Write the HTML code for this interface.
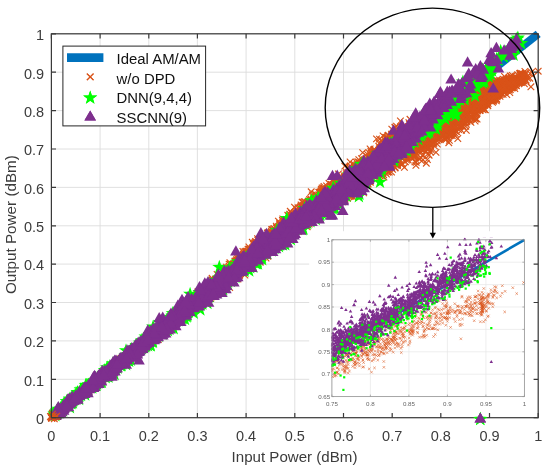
<!DOCTYPE html>
<html><head><meta charset="utf-8"><title>AM/AM</title>
<style>html,body{margin:0;padding:0;background:#fff}svg{display:block}</style></head>
<body>
<svg width="550" height="473" viewBox="0 0 550 473" font-family="'Liberation Sans', sans-serif">
<defs>
<marker id="mo" markerUnits="userSpaceOnUse" markerWidth="20" markerHeight="20" viewBox="-10 -10 20 20" refX="0" refY="0" overflow="visible"><path d="M-3.3 -3.3L3.3 3.3M-3.3 3.3L3.3 -3.3" stroke="#D95319" stroke-width="1.15" fill="none"/></marker>
<marker id="mg" markerUnits="userSpaceOnUse" markerWidth="20" markerHeight="20" viewBox="-10 -10 20 20" refX="0" refY="0" overflow="visible"><polygon points="0.00,-7.40 1.70,-2.35 7.04,-2.29 2.76,0.90 4.35,5.99 0.00,2.90 -4.35,5.99 -2.76,0.90 -7.04,-2.29 -1.70,-2.35" fill="#00FF00"/></marker>
<marker id="mp" markerUnits="userSpaceOnUse" markerWidth="20" markerHeight="20" viewBox="-10 -10 20 20" refX="0" refY="0" overflow="visible"><path d="M0 -6.80L5.80 3.40H-5.80Z" fill="#7E2F8E"/></marker>
<marker id="io" markerUnits="userSpaceOnUse" markerWidth="8" markerHeight="8" viewBox="-4 -4 8 8" refX="0" refY="0" overflow="visible"><path d="M-1.3 -1.3L1.3 1.3M-1.3 1.3L1.3 -1.3" stroke="#D95319" stroke-width="0.5" fill="none"/></marker>
<marker id="ig" markerUnits="userSpaceOnUse" markerWidth="8" markerHeight="8" viewBox="-4 -4 8 8" refX="0" refY="0" overflow="visible"><rect x="-1.1" y="-1.1" width="2.2" height="2.2" fill="#00FF00"/></marker>
<marker id="ip" markerUnits="userSpaceOnUse" markerWidth="8" markerHeight="8" viewBox="-4 -4 8 8" refX="0" refY="0" overflow="visible"><path d="M0 -2.1L1.75 1H-1.75Z" fill="#7E2F8E"/></marker>
<clipPath id="ic"><rect x="330.9" y="237.8" width="196.5" height="158.8"/></clipPath>
</defs>
<rect width="550" height="473" fill="#fff"/>
<path d="M51.4 417.7V33.8M51.4 417.7H538.2M100.1 417.7V33.8M51.4 379.3H538.2M148.8 417.7V33.8M51.4 340.9H538.2M197.4 417.7V33.8M51.4 302.5H538.2M246.1 417.7V33.8M51.4 264.1H538.2M294.8 417.7V33.8M51.4 225.8H538.2M343.5 417.7V33.8M51.4 187.4H538.2M392.2 417.7V33.8M51.4 149.0H538.2M440.8 417.7V33.8M51.4 110.6H538.2M489.5 417.7V33.8M51.4 72.2H538.2M538.2 417.7V33.8M51.4 33.8H538.2" stroke="#dcdcdc" stroke-width="0.9" fill="none"/>
<path d="M51.4 417.7L538.2 33.8" stroke="#0072BD" stroke-width="8" fill="none"/>
<path d="M294.4 218.8L344.2 188.9L65.4 405L123.4 359.1L503.3 90.8L513 82.5L354.1 171L231 279.5L300.3 214.5L374.1 176L185.4 307.6L435 123.8L377.7 166.8L300.8 206.1L449 121.1L318.7 201.2L321 199.7L286.8 237.7L223.4 282.8L339.4 179.2L441.9 127.2L473.6 105.5L278.8 240.1L186.3 311.4L91.9 385.7L487.5 102.2L260.7 243L379.2 159L149.8 338.7L490.2 95.2L219.7 278.1L279.7 227.7L492.5 102.3L390.9 163.4L216.6 289.9L129.2 355.4L275.2 239L387.8 150.2L78 394.3L463.2 109.1L337.6 185.2L201.7 299.8L459.9 107.7L278.4 221.2L113.3 368.5L411.3 131.3L146.6 338.7L342.7 190.5L487.5 84.1L443.3 121.3L144 344.6L405.4 148.4L291.5 232.9L466.6 115.4L157.1 333.5L204.8 289.9L177.1 315.6L509.5 79.7L217.2 280.9L263.6 249.5L204.4 293.8L414.8 131.5L248.1 254.4L462.9 118.5L412.5 138.3L317.1 209.8L373.4 167.5L388.4 148L431.6 131.9L502.9 87.2L124.3 359.6L356.2 186.6L121.3 364.2L267.1 239.9L434.2 133.9L486.9 87.7L421 152.2L226.4 275.3L130.8 352.8L121.5 359.8L225.3 277.9L81 391.4L475.1 93.2L361.2 173.7L294 228.1L89.7 388.9L348.8 191.3L164.2 326.8L70.2 403L321.7 204.6L361.5 158.7L209.5 291L364.6 178.6L222.8 282.4L243.8 254.3L495.7 95.1L107.7 371.9L324.7 194.1L493.1 87.5L392.3 162.7L83.9 393.4L444 127.7L384.1 152.1L277.7 237.4L75.4 399.3L441.8 113L401.2 141.4L443.1 117L421.6 146.7L435.8 117.1L172.7 319.8L118.5 363.9L241.4 259.3L293.7 215.9L190.5 304.6L346.3 172L344.7 176.8L168.1 327.6L354.5 165.8L225.3 271L409 153.5L192.8 300.2L440.3 133.5L253.5 254.5L320.7 202.6L379.2 169.1L303.7 207.7L176.8 316.1L98.2 380.1L318.7 202.4L440.5 120.5L433 109.5L361.5 168.9L490.4 84.7L419.2 127.8L196.8 301.6L365.3 170.1L217 280.4L416.4 140.2L238.7 271.1L478.1 96.7L387.5 156.7L413.9 153.9L323.8 201.3L432.5 128.3L269.4 243.6L326.8 199L321.6 200L447.9 118.2L394.9 131.8L442.4 118.6L292.9 224.5L480.4 92L104.1 377L477.7 85.3L232.1 268L352.9 184.3L272.8 239.1L259.9 250.8L466.2 119.8L351.7 175.5L252.8 250L308.6 210.9L294.5 226.1L300.6 211.4L471.1 87.2L134.8 351.9L84.3 392.7L275.2 241.3L312.4 204.2L255.1 248.4L152.3 334L399 139.7L315 193.8L175.7 315.1L473.4 114L424.4 133.2L263.7 237.4L248.8 254.3L410.4 141.6L90.1 387.7L227.8 274.5L298.6 219.3L77.4 396.3L239.3 270.7L411.3 142.3L348.3 174.4L271.4 247.7L477.3 110.8L496.8 86.4L229.1 264.1L483.4 85.2L503.7 88.5L249.3 249.1L414.6 123.9L229.2 277.4L331.4 204.4L374.3 171.8L445.3 138.8L497 95.1L269.5 248L108.5 371.3L490.7 91.7L475.1 121L340.5 180.4L379.2 171.2L233.1 264.3L193.4 308.3L402.2 140.5L388.1 161.7L295.9 233.7L270 248.5L522.4 78.9L132.3 356.1L288.5 231.7L129.1 357.3L507.8 85.3L289.3 224.8L213 281.2L340.6 182.9L245.6 254.6L241.9 263.3L335.3 192L304 220.6L489.5 89.4L495.2 97.9L507.2 85.5L440.7 123.1L283.9 229.2L306.4 219.1L244.8 262.2L245.9 257.4L440.3 107.1L278.5 243.1L400.9 157.3L263.7 254.2L228.7 267.5L372 175.7L56.9 413.3L339.8 185.9L309.6 206L472.9 100L253.8 248.8L434.1 131.7L342.8 190L233.8 277.1L215.5 288.9L325.9 203.7L483.5 103.8L229.4 276.3L141 344.1L332.8 200.8L238.7 261.2L205.8 299.2L240 264.8L76.1 397.3L321.2 208.5L355.2 167.8L416.2 136.3L224.1 276.5L370.9 155.4L266.6 240.8L156.1 334.2L484.3 103.9L414.5 143.7L510.3 86.4L451.3 118L498 87.8L59 413L148.1 344L252 256.7L386.1 158L264.8 247.2L301.3 227.6L421.9 143.7L381.6 147.3L75.1 399.2L403 126.8L383.9 177L248.7 254L454.5 107L446 114.4L200.4 301.7L336.3 187.9L201.4 294.1L236 262L102.1 376.7L240.8 258.2L63.7 409.3L160.4 330.9L494.1 93.2L183.3 307.8L382.1 148.7L481.2 100.1L195.4 301.3L234.6 270.2L399.3 155.4L437 127.3L350.2 196.1L138.5 347.2L139.4 344L420.4 122.2L395.5 153.7L487.7 101.6L431 128.2L256.4 242.2L116.3 365.6L484.9 101.2L390 157.9L332 190.9L383.3 155.9L238.9 269.7L218.5 275.5L331.5 190.8L286.4 225.6L396.5 126.2L507.1 82.8L463.9 103.5L240 266.4L232.7 274.5L502.6 91.3L243.5 270.8L441 133.5L96.5 384.1L271 241.9L302.7 214.3L445.1 125.9L478.6 98.4L351.8 180.2L357.7 186.1L125.2 360.7L457.2 108.6L320.8 201.7L307 214.3L208.9 292.4L364.2 161L347.4 198.3L300.8 218.8L209.5 286.9L296.7 218.6L232.6 276.4L485 99.6L276.1 234.4L282.7 236.4L177.3 317.6L175 316.5L515.8 80L204.3 294L474.1 93.8L340.9 185.1L131.3 356.3L509.8 92.6L427.4 124.8L327.9 190.7L396.5 151.8L403.1 155.2L269.7 243.4L360.3 180.9L61.8 408.3L380.7 169.5L282.4 225.9L492.2 91.3L449.6 111.8L488.6 95.1L520.9 76.6L128.8 353.8L131.8 349.8L227.4 282.3L124.8 360L60.4 409.1L505.7 85.5L227.2 276L356.2 176L272.7 243.4L413.1 147.2L443.8 107.4L237.8 271.2L312 206.7L190.4 300.9L159.8 332.3L201.6 299.2L209.3 290.2L331.3 184.5L213.4 282.7L456.1 102L79.2 395.1L472.7 105L359.9 181.7L405.8 135.8L517.6 81.9L157.5 335.2L499.3 86.1L169.5 322.4L304 211.2L382.9 150L439.5 120.3L172.2 317L283.6 234.9L73.6 399.5L492 95.6L334.8 181L434.3 135.1L490.6 86.1L212.9 286.6L269.7 237.5L309.4 212.1L340.4 200.8L388.7 144.9L378 168.4L362.5 179L500 93L377.6 162.1L300.4 212.8L445.8 125.6L119.7 361.8L487.3 96.8L263.9 250.8L478.2 102.2L207.6 287.6L355.3 177.7L463.5 111.1L397.7 139.3L353.2 179.5L319.9 204L385.6 165.4L269.6 234.1L285.2 229.6L279.4 230.9L352.9 178L480 110.5L191.8 300.8L103.5 374.8L221.3 280.8L506.9 84.6L502.5 87.4L220.8 280L461.8 112.1L483.9 94L166.9 326.6L139.3 346.4L412.7 134.7L417.6 141.3L496.5 80.3L320.5 201.6L121.8 361.5L464.9 123.1L244.1 253L203.6 294.1L295.2 214.5L180.1 314.5L341.5 193.5L416.2 127L517.4 79.4L449.7 125.9L509.5 80L361.2 164.5L408.7 153.7L337.3 179L421.4 137.9L149.9 341.4L435.9 121.7L277.3 234.7L324.8 201.4L267.1 244.3L178.5 316.4L200.7 293.1L219.7 275.7L395.5 154.6L267.2 245.9L346.8 178.8L512.1 83.5L90 388.9L144.7 343.3L158.8 331.9L130.6 352.1L153.4 337.3L284.8 231.6L366.7 175.6L228.5 281.3L97.5 378.2L285.6 229.2L475.4 113.2L400.2 137.8L68.8 403.8L84.3 393.2L263.5 249.9L228.4 274.7L383.6 174.7L385.2 168.6L327.9 201.7L302.9 202.2L490.3 85.4L106.6 372L326.7 208.2L326.6 186L337.3 188.2L420.8 142.8L390.9 154.2L116.1 366.3L344.6 175.9L200.2 292.2L226.1 281.9L467 110L400.5 148.6L417.6 136.5L254.6 264.1L137.1 349.6L344.5 199L459.9 108.2L430.5 145.7L506 83.2L392.8 153.1L312.5 213.5L105.1 374.3L314.4 204.6L315.3 213L220.3 278.7L221.5 284.1L397.6 135L285.6 225.4L249.8 255.5L463.8 110.7L233.1 271.5L475.3 91.4L476.7 92.7L184.7 306.6L390.2 154.8L200.4 297.5L516.4 81.6L229.1 266.2L406.9 144.4L395.7 146.3L473 103.6L211.4 296.8L75.8 398.1L271.4 239.8L359.5 167.7L183.5 310.3L461.2 118L464 101.1L67.5 404.5L179.3 315.9L269.3 242.2L222.2 280.3L243.6 263.5L465.9 117.3L333.5 197.2L346.1 191L241.3 269.9L444.7 133.1L295.7 214L414.6 147.1L496.4 83.4L349.3 182.6L263.2 251.2L495.4 93.3L423.8 127.4L440.6 135.4L264 248.8L481.5 101.2L447.6 108.9L313.6 207.6L157.9 332.1L234.2 274.6L379.1 157.5L405.3 154.9L425.6 120.1L148.9 338.4L312.8 201.2L443.7 109L328.9 192.2L494 83.9L414.9 150.1L326.4 190.2L213.4 293.4L334.9 191.5L242 267.9L109.2 372.8L110.9 370.1L134.3 352L360.7 176L333.8 191.8L338.9 193.5L451.6 105.9L240.7 265.1L90 388.6L255.3 246.2L83.7 390.4L102.2 376.9L241.2 266.9L422.9 136.3L412.5 145.2L191.2 308L280.9 231.7L87.9 386.8L269.9 239.1L335.5 187.8L452.8 126.1L78.7 396.4L440.8 115.4L328.7 202.9L332.9 190L479.7 95.7L186.4 303.7L317.4 210.7L313.6 204.5L494.4 89.6L344.2 187.4L164.4 327.1L373.7 149.9L332.2 186.9L301.4 207.1L356.9 165.5L319.4 210.3L215.4 280.7L363.7 161.2L284.6 236.1L271.8 229.8L155.2 339.5L327.9 191L377.5 169.1L196 299.5L342.1 193.1L91.2 386.6L269.4 238.7L271.3 242.6L512.6 87.5L163.4 327L348.3 176.3L341.4 182.5L223.1 275.9L206.5 292.7L282.3 241.8L336.8 186.8L342.6 189.4L386.6 158.9L182.1 311.1L347.1 194.3L253.1 255.3L202.9 290.2L99.3 379.1L341.8 200.3L303 215.8L386.5 148L354.7 171.1L224.7 270.6L509.4 81.1L381.8 175.8L263.8 242.6L350.1 162L243.1 264.2L325.2 208.6L472 100.3L440.2 110.5L233.3 277.3L313 218.1L308.2 204.7L72.7 399.7L196.3 295.8L249.5 256.3L434.7 119.5L406.8 142.2L257.5 258.8L57.1 412L366.8 164.2L249.4 253.7L358.6 190.8L268 239L200.6 300.4L304.9 210.7L172 318.8L242.9 265.3L509.9 81.5L284 232.9L305.1 221.7L498 87.1L473.1 118.2L381.1 147.5L489.1 93.7L419.7 137.8L382.5 176L259.8 241L407.8 138.7L360.2 179.7L522.6 73.7L207.7 292.2L478.2 94.8L512 81.5L74.4 398.1L209.4 294.8L522.8 76.1L377.9 172.9L54.6 416.1L511.2 80.5L443.2 125.8L260 241.3L422 150.1L490.6 93.9L197.4 302.8L477.1 119.1L182.6 315.4L211.4 289.8L319.6 198.9L63.1 406.7L317.1 201.1L134.1 352.4L415.9 153.4L152.2 337.9L335.1 194.1L445 113.5L418.1 142.8L412.2 138.1L383.3 154.1L315.9 215.7L218.2 277.9L471.9 106.7L250.6 252L367.9 183.3L227.1 283.8L100.3 378.9L224 273.6L408.3 160.1L217.5 290.8L383.5 159.5L111.4 366.1L238.8 272.3L251 248.9L299.2 217.1L391.5 134.2L480.9 101.4L447 121.9L289 221.2L218.9 284.5L330.3 199L406.6 160.1L254.3 255L510.9 80.7L254.8 257.7L288.3 231.8L456 111.9L419.6 150.9L201.2 296.2L409.6 143.6L255.7 260.4L504.4 89.2L461.8 98.8L224.4 285.4L318.9 192.1L503.7 89.3L494 95.1L482 99.3L405.1 151.2L385.4 163.9L384.9 161.9L316.3 207.9L334.9 189.8L325.3 199.9L379 165.7L287.8 215.3L382.1 162.3L274.4 231.7L442.5 125.8L402.3 151.5L425.9 132.9L190 310.8L209.1 293.5L306.8 214.4L212.1 285.9L425.9 136.9L233.4 276.4L476.8 112.9L387.2 147.4L225.4 279L465 97L366.1 165.2L381.7 164.6L96.6 381.6L417.2 128.6L223.9 282L411.7 146.6L462.8 116.3L420.4 125.3L489.7 94.2L263.4 252.5L457.2 113.3L62.8 409.1L334.5 182.6L308.2 205L453 130L276.6 248.2L248.3 260.1L347.1 181.7L140.4 348.6L387.8 138L253 253.9L246.5 254.7L278 235.5L331.2 189.7L242.3 265.2L297.6 229.2L361 181.8L466 106.5L324.5 196.8L237.6 255.7L519.5 77.9L135.4 348L493.6 87.8L180.8 310.1L125.2 361.1L239 265.6L218.3 283.3L224 277.2L465.7 126.3L116 367.7L513.7 78.1L260.2 243.1L227 276.2L429.8 122.9L506.8 84.9L299.8 219.9L447.9 118.5L222 286.2L332 203.8L166.5 324.9L179.1 317.3L460 113.9L438.3 108.3L221.3 290.4L403 153.5L469.9 101.1L324.1 214.2L405.1 142.8L167 320.6L432 111.7L451 107.8L249.5 260.1L67.5 405.7L357.9 161.6L359.3 174.6L52 417.3L304.6 220.1L508.2 87.1L118.3 365.8L79.5 396.5L263.9 241.7L238.7 263.2L475 118.2L149 337.5L508 81.9L60.7 409.2L177.6 316.8L243.3 262.4L51.7 417.8L344.9 189.8L350.9 188.3L347.7 191.1L368.2 164.5L350.5 183.4L68.2 402.9L370.1 149L335.6 194.7L157.4 333.3L255.6 247.7L167.1 325.9L473.9 111.1L187.1 302.7L439.2 135.2L421.9 130.6L466.2 103.1L381.1 166L254.3 256.5L282.9 236.9L321.7 192.5L341.5 194.5L511.5 84L425.5 135.5L511.1 77L300.2 223.2L497.5 93.5L370 175.1L289.2 227.9L393 144.6L509.6 87.9L139.6 343.4L191.6 304.9L122 360.7L423.3 122.7L457.3 115.2L209 289.3L385.8 162.5L426.3 130.8L275.7 237.2L362.5 181L498.1 93.8L479.9 110.3L398.6 149.1L429.4 116.4L493.1 94.3L254.9 248L127.4 354.4L282 227.9L231.6 270.9L243.1 262.9L442.2 109.8L368.7 174.2L382.5 159.4L369.1 166.6L79.8 396.2L243.7 255.6L465 106.5L367.2 154.1L436.6 117.6L354.4 182.5L433.2 140.7L398.6 149L470.9 106.1L411.9 138.8L447.2 113.8L89.7 385.1L69.1 404L500.9 90.7L167.1 329.1L200 300.5L117.2 363.2L360.3 179.2L65.9 405.4L440.4 120.2L196.7 300.9L413.5 142.7L494.7 85.5L387.4 151.1L258.1 244.3L355.6 192L467.8 102L397.6 145.7L479.7 97L354.9 180.2L319.6 204.8L338.1 188.8L194.2 299.1L482.7 96.5L168.1 321L202 297.2L216.1 286.5L481.8 106.4L371.3 152.7L110.8 367.7L243 266.7L101.4 377.9L394.9 151.8L467.6 102.7L96.9 381.1L294.7 216.4L414.9 155.1L315.5 199.8L344.7 192.1L386.2 137.5L415.1 134.7L120.7 360.7L341.7 181.3L152.8 332.3L422.9 141.8L387.1 148.2L366.8 174.8L331.4 192.7L457.5 111.6L224.1 276.2L426.5 140.9L282.6 238.5L269.5 239.7L398.1 147.5L217.3 279.7L423.1 131.3L268 239.2L411.9 135.3L391 145.9L511.6 78.3L250.3 254.3L221.3 278.9L302.8 212L255.1 242.7L392.5 159.7L517.6 79.2L418.4 142.6L367.3 156.8L193.5 306.8L445.4 116.5L498.8 94L436.7 128.1L495.5 97.1L412.2 125.9L473.1 102.4L283.2 226.1L90.4 386.3L315.5 199.6L67.3 404.5L506.9 84.8L456.6 95.6L360.3 168.3L415.8 133.3L378.3 166.3L276.7 228.3L192 303.1L297.8 216.9L334.8 194.1L198.2 296.4L218.1 279.7L141.8 346.2L504.4 81.6L243.2 261.1L315.2 199.9L174.2 320L292.3 228.7L320.5 198L75.3 397.3L512.6 81.2L313.3 215.1L405.5 130.9L286.3 227.9L236.2 269.4L285.6 223.7L232 272.5L253.9 247.9L263.5 245.3L386.2 142.6L73.5 401.8L457.3 121.2L85.1 389.8L358.8 183.6L318.6 206.7L143.9 342.1L483.5 99L134.9 351.4L369.7 157.5L336.9 187.9L380 151.3L436 134.7L257.4 252.4L57 413.2L89.7 386.8L353.3 172.4L176.6 314.1L247.4 260.1L493.8 97.7L218.8 289.2L121 364.6L321.8 194.8L428.6 135.6L420.3 129L281 227.4L168.1 325.5L160.1 326.3L493.1 82L249.9 264.4L362.1 171.6L274 233.9L65.6 404.5L512.1 78.6L456.9 104.1L272.9 242.3L379.3 164.8L369.5 162.9L407.7 142.7L265.8 247.3L122.8 361.7L442.9 134.4L265.8 243.5L266.6 249.2L421 138.6L385 168.8L240.2 270.6L360.5 172.4L92.2 386L187.7 305.1L268.6 242.4L507.1 82.7L259.7 253.2L237.5 264.7L490.5 97.7L438.8 134.9L426.3 163.2L496.4 86.6L410 119.3L519.4 79.2L488.1 91.8L255.6 253.7L215.8 283L282.4 236.6L246 252.5L470.3 111.9L443.8 116.2L414.9 132.9L164.7 326.6L265.5 247.5L87.9 389.4L412.9 151.5L71.9 402.2L244.1 261.7L466.2 117.5L498.5 88.6L476.1 109.8L397.6 136.1L268.3 243.8L348.8 188.2L222.3 277.4L147.7 344.5L337.6 195.9L437.9 138.2L208.3 294.6L176.8 312.4L88.6 387.9L404.8 127.9L366 159.7L195 299.2L286.8 227.9L263.8 245.3L268.9 238.4L108.6 372.5L326.2 201.2L490.5 92.9L90.8 387.4L336.6 197.5L206.5 300.9L174 316.9L201.4 297.9L499.7 86.4L351.7 179.9L313.3 204.3L493.6 92.4L65 407.3L65.7 405.6L522.8 78.5L428.7 131.7L508.6 79.9L333.7 189.1L451.1 107.3L396.5 148.1L193.6 304.2L369.1 170.8L192.2 307.3L277.4 228.8L451.9 120.5L158.8 330.5L136.5 347.4L465.9 107.1L276.9 232.8L136 351.9L206.1 291.4L487.7 83L281.5 234.9L499.3 82.2L280.3 225.2L508.7 83.4L497.6 95L327.7 189.5L434.2 122.5L191.2 308.5L107.6 370L345.5 184.4L78.3 396L279 234.9L353.2 178.6L425.1 147.6L487.9 105.8L472.7 103.6L293 231.1L354.6 170.4L276.3 226.1L464.1 120.4L197.4 299.8L455.1 104.5L373.5 158.2L400.2 151.8L355.9 179.7L415.1 150L373.2 157.9L341.5 190.9L370.2 170.5L270.8 241.1L211.8 285.8L409.8 146.6L303.3 218.1L401.9 152.5L389.6 160.5L492.1 99.1L468.2 100.8L76.5 397.8L376.5 167.6L233.2 268.8L284.2 230.7L461.9 113.2L439.1 123.9L102.9 378.2L389.7 160.9L522.7 79L390 149.9L351.3 179.6L446.2 127.2L292 213.5L441.3 113.1L237.5 258.7L245.9 252.2L67.4 403.6L439.8 133.8L268.8 237.3L235.4 267.3L370.5 171.2L466.6 119.2L473.1 90.3L218.1 290L347.5 194.4L240 270.4L459.8 109.1L437.7 131.2L373.5 161.8L452.3 135.6L299.6 214.3L329.4 190.9L130.6 356.5L396 151.8L324.9 202.6L244.9 275L351.2 186.6L358.4 183.3L325.8 200.9L174.1 319.2L370 170.9L373.3 176L338.6 196.1L235 278.3L322.4 200.7L76.7 397.7L497.4 91.2L223 285.9L189.1 305.2L270.8 232.8L101.9 375.6L481.8 105.6L452.2 125.2L330.7 193.9L509.3 84.3L212.2 280.5L277.8 233.2L258.2 250.6L503 79.1L374.3 161.9L317 209.3L312.3 213.4L360.5 172.3L348.3 176.4L271.7 232.7L300.1 208L100.7 380.9L267.3 233.1L379.9 165.2L443.2 128.7L449.8 114.6L197.7 303.8L494.6 91.1L252.4 249.3L449.4 140.4L423.6 136.3L158.3 339.6L495.3 96L207.8 295.1L248 264.2L506.5 89.1L104.8 373.1L524.4 79.5L366.2 173.5L357.4 176L358.4 176L451.6 111.8L243.2 263.7L87 388.5L115.7 365.1L89.2 386.6L253.4 251.4L449.1 108.2L80 396.1L248.9 247L246.5 257.7L245.2 262.6L307.8 203.1L312 208.9L438.1 133.2L303.1 205.1L222.8 280.7L395 145.1L332.9 200L217 280.2L84.4 391.6L192.1 305.5L218.9 281.3L339.8 185.3L144.9 343.7L231.8 270.6L261.9 243.8L91.9 383.9L279.4 236.4L298.8 214.4L494.2 98.2L262.3 244.1L386.6 165L382.3 165.5L327.5 192.9L270 244.6L483 106.1L229.8 273.7L372.8 168.3L248.3 259.8L459.3 117.3L395.9 143.4L253.7 252.1L400.9 149.9L410.6 148.1L135.2 351.7L400.1 160.5L497.6 89L386.1 157.6L440.5 121.7L439.1 129.8L280.1 232L325.1 207.1L424.7 122.6L359.2 176.9L85.9 390.7L184.1 311.1L449.7 121.7L452.1 121.7L114.2 366.7L176.2 315L74.5 397.9L412.9 146.4L207.5 289L249.8 256.2L83.4 392.7L462.7 108.8L190.4 312.2L402.3 154.9L221 274.4L298.1 213.4L212.1 278.3L324.1 200.1L205.9 291.6L273.6 239.1L55.7 414.9L298.2 224.2L449.1 134.3L442.4 121.7L306.7 214.6L365.1 173.2L378.2 159L406.6 148.8L218.7 279L268.7 243.5L430.6 121L98.1 379.5L489 98.8L59.2 412.1L486.6 95.7L496.7 85L419 142.6L192 303.1L483.2 105.1L423.5 131.8L263.7 242.7L329.1 206.6L402.6 154.7L440 123.2L459.3 124L480.3 97.8L354.2 175.2L69.7 403.7L473.7 103.5L256.8 251.3L147.1 340L448.5 118.8L86.8 390L498.4 85.7L403.3 146.4L163.6 327.5L302 210.3L489.4 85.6L127.3 357.6L278.7 232.1L347.7 183.9L272 238.4L156.6 337.2L192.6 304.6L506.3 84.1L493.8 82.3L482.8 94.8L384.9 149.6L281.2 237.2L514.8 81.9L252.5 248.4L57.7 411.5L263.3 248.5L309 202.1L318.3 204.1L483.8 89.2L467.2 107.9L305.7 212.6L407.8 140.9L252.8 253.7L195.6 305.5L214.8 288.3L185 316L272.2 238.6L342.4 197.4L455.9 131.3L270.5 236.2L310.4 215.3L449.7 122.2L397.1 147.5L354.8 172.5L379.7 164.3L269.6 243.5L444 128.7L459 110.7L327 201L108.4 373.2L258.9 244L450.3 124.7L220.7 276.5L260.6 242.1L237.7 267.3L141.3 343.2L329.5 202.6L254.3 251.7L507.3 85.5L352.5 188.2L469.5 99.3L290.3 211.3L155.1 337.5L410.4 135.4L365.4 160L208.4 295.4L285.3 230.2L419.8 140.5L135 348.8L191.6 305.4L510.8 83.6L320.5 209.7L191.2 304.1L122.3 362.2L214 287L350.3 165.9L273.8 245.5L446.8 129.6L329 201.3L219.3 274.8L438.3 116.9L94.6 383.6L421.2 143L480.6 102.9L429.2 134.8L334.3 194.2L441.9 134.3L251.8 261.2L462.3 104.5L132.2 349.6L308.8 207.2L323.1 211.2L435.1 132.7L252 250.7L177.1 310.8L398.1 146.7L230.5 273.4L279.2 238.8L434.9 135.1L258.2 246.5L325.1 190.8L381.6 140.3L380.3 170L520.4 82.3L276.9 232.1L329.7 202.6L144.8 343.2L172.5 322.6L304.1 212.7L328.9 192.8L453.4 128L293.2 218.6L331.3 205.4L245.9 262.9L491.3 94.9L329.1 193.8L419.9 135.1L219.8 285.1L235 266.8L466.9 121.8L350.9 189.4L496.6 99.3L174.3 322.7L381.1 164.7L112.3 366.2L241.5 269.2L385.6 137.4L226.8 275.5L418 144.6L273 241.7L190.1 312.6L311.5 219.5L345.7 193.9L339.4 177.5L133.4 351.8L522.7 80.6L310.2 211.6L151.4 335.8L72.1 399.7L155.8 332.8L206.3 285.4L330.6 193.8L374.4 175L397.8 148.8L266.1 244L358.2 179.7L320.9 191.2L195.7 299.8L158 328.1L245.8 264.9L387.1 152.5L116.9 364L361 179.7L61.5 409L377.5 156.3L444.8 133.1L424.9 138.8L384.1 157.6L344 182.2L494.4 94.4L507.3 82.8L523.5 76.8L90.9 385.5L361.7 172.1L328.6 197.1L434.2 120.5L276.1 231L182.7 304.7L57.1 413.5L388.3 135.3L361.2 169.8L443.4 120.5L237.9 266.3L496.8 99.1L498.7 88.3L423.7 135.8L101.2 378.4L95.1 381.5L417 130.4L170.4 324.8L387.8 169.4L458.9 113.8L209.4 291.5L487.2 102.1L283.8 221.5L125.9 356.5L93.7 382L225.1 274.1L429.4 128.5L271.9 244.9L223 285.2L286.9 226.2L269.6 238.6L363.6 166.2L382.7 151.8L415.4 136.3L312.3 208.1L426.1 124.8L432.6 113.4L406.5 136L264.4 242.1L483.1 102.6L411.7 148.4L341.7 181.3L392.2 155.9L522.7 77.3L302.9 211.1L330.3 186.1L138 347.1L191.3 300L496.9 90.7L207.8 292.8L268.1 232.5L328.4 192.5L392.6 140.2L412.1 142.8L231.1 272.6L370 171.3L426.1 122.8L211.1 289.6L309.1 218.8L183.8 312.5L435.9 133.7L111.7 369.1L344.7 179.9L421.4 139.5L213.9 290.3L383.8 158.5L76.1 397.4L349.3 180.8L356.7 186.5L309.5 210.8L302.1 202.1L290.2 227.8L58.9 411.4L56.6 414.6L427.9 153.9L209.4 289.8L400.4 121L148.1 338.7L180.7 310.5L488.6 92.2L250.1 254.9L294.1 219.9L397.9 140.3L207.5 297.6L367.5 173.7L159.6 331.4L383.1 135.9L142.3 342.9L101.1 379L415.6 120.6L277.3 230.4L432.7 134.5L526 73.5L425.7 113.5L276.2 231.2L315.5 207.1L386.4 154.6L329.3 199.6L198.3 304.1L130.5 354.4L216.9 284.1L279.6 232L141.7 347.5L481.8 101L257.6 238.7L375.4 169L224.2 281.1L302.2 211L242.6 259.9L107.3 375.6L410.2 148.3L328.3 196.5L332.4 192.8L258.7 255.3L263 243.3L403.1 141.6L246.1 251.1L327.3 194.8L264.3 244.5L72.2 399.4L163.5 326.5L243.9 267.4L310.3 206.8L96.6 382.7L352.9 176.7L449.4 107.6L213.4 293.8L422.8 143.1L310.5 214.5L117.7 364L457 111.1L382.2 158L390 156.2L223.7 283.2L510.3 89.6L358.9 170.8L320.7 194.3L253 256L400.5 153.3L279.5 236.1L276.1 240.2L125.3 360.8L452.3 105.9L83.6 390.9L493.2 89.9L497.5 84.8L306.2 214.5L392.6 169.4L228 282.5L217.6 283.8L211.9 289.9L380.8 156L478.9 105L307.8 215L399.5 152.3L424.2 146.7L330.4 186.1L432.1 131.5L379.9 161.4L319 209.8L444.9 115.8L125.9 356.7L202.2 297.7L238.8 272.9L513.6 84.6L453 132.9L413.7 130.4L485.4 109.9L238.1 264.9L493.2 92L235.3 271.7L507.6 85.1L241.6 260.1L474.4 110.2L341.8 190.5L262.4 243.6L431.1 121.7L206.7 297.9L193.9 297.2L282.2 231.9L510.2 81.5L483.1 103.1L343.3 187.6L187.9 305.7L488.7 81.6L502.9 90.1L276.6 236.4L253.2 256.8L374.9 162L484.1 92.9L221.8 274.4L213 289.6L250.3 252.8L61.6 410.2L460.3 109.8L274.2 237.8L278.6 239.1L359.5 180.5L445.2 118.4L394.8 132L194.9 303.8L213.6 285.3L310.5 213.1L446.1 114L55.3 415.4L346 180.6L462.2 111.1L324.7 189.6L236.9 269.1L282.2 232.9L301.9 220.5L356.6 187.8L88 386.7L437.2 140.8L319.9 205.4L186.3 311.5L497.1 85.8L245.4 258.2L428.6 146.9L196.2 301.4L318.3 210.5L143.8 343.2L184.6 309.6L421.6 161.1L270.8 234.8L220.4 280.4L336.2 188.2L264.5 251.4L327.8 198.8L351.3 189.3L257 250.4L413.1 139.6L473.4 99.3L520.4 78.2L324.1 202.7L521.3 81.2L508.2 79.1L370.4 179.2L363.5 162.5L310 215.6L393.4 148.7L183.2 314L220 285.8L186 306.6L283.9 239.7L383.1 160L177.8 317.8L249.3 267.6L373.5 160.8L417.8 137.2L497.7 91.7L320 202.6L520.1 80.5L347.9 184.5L420.1 137.6L434.5 117.6L450.2 134.5L325.3 206.3L501 80.9L391.9 144.8L230 274.7L444.1 138.6L304 210.6L384 149.1L390.4 136.9L429.8 108.7L448.7 125.1L277.6 232.1L268.5 243.2L501.1 86.2L194.1 299.1L120.5 362.3L249.3 253L462.4 123.4L522.3 74.8L313.5 201.1L236.5 275.2L434.7 133.6L258.4 243.8L198.4 303.5L419.5 129.3L91.8 387.2L429.5 126.3L101.5 375.5L432 131.9L193.9 306.5L77.2 396L273.5 242.9L266.8 243.2L166.5 329.2L490.2 86.5L315.7 204.2L398.5 141.6L413.3 146.8L379.8 161.4L445.3 106.1L480.4 94.8L272.2 233L339 188.1L509.8 79.8L302.1 221.3L108.2 374.4L310.3 214.9L413.2 134L443.9 114.8L419.4 145.2L277.6 236.8L477.5 92L314.7 209.5L383.9 159.1L52.6 417.1L290.2 219.1L93.6 383.2L154.9 332.4L198 291.6L330.6 197.2L398.1 149L243.5 264.5L157.5 330L516.6 79.4L373.1 167.2L214.9 288.6L289.9 226.6L427 132.7L300.7 214.8L202.2 297.2L436.1 130.6L129.1 352.4L406.5 142.9L247.7 264.1L143.4 344.1L278 240.6L515.1 79.9L170 320.6L88.8 388.9L403.8 141.3L514.3 86.4L322.4 205.8L196.3 295.6L337.2 186.6L233 269.5L262.3 247.6L423.1 148.4L279.6 224.2L489.8 98.7L332.2 186.2L344.8 192L450.6 99.3L378 163.6L515.2 84.5L129.4 355.8L367.3 178.2L335 200.2L393.3 156.1L99.8 376.7L282.7 239L512.4 85.5L487.5 87.6L345.3 192.2L437.5 120L374.2 163.7L469.3 103.4L348.9 167.2L341.4 193.4L515.4 81.9L323.6 188L210 291.7L257 250.4L321.9 191.6L475.9 105.3L461.5 130.3L244.9 268L289.2 230.1L75.7 397.7L362.5 174.4L442.1 123.1L360.9 172.9L459.8 126.1L407 131L506.3 84.6L189.6 306.1L134.3 352.3L329.2 196.7L451 134L116.3 367.4L123.5 361.7L393.8 151.7L75.4 399.9L256.6 251L431.4 143L77.7 395.2L427.1 123.1L302.5 221.6L107.5 373.1L232 269.4L255.6 252.9L412.4 146.4L291 229.5L455.3 133.6L312.2 210.3L171 317.8L312.2 207.5L459.7 112.9L360.9 180.9L333.6 188.5L388.7 148.4L226.7 277.6L161.7 324.8L374.9 160.1L464.1 111.9L280.9 228.6L117.9 365.8L442.7 128.4L308.5 201.4L383.6 157.4L433.4 133.3L232.7 269.6L484.6 88.1L54.4 414.8L206.8 288L403.8 144L401.8 157.1L464.1 96.3L340.5 185L160.7 330.8L73.7 398.3L357.5 179.4L487.3 92.5L344 179.8L344.8 166.1L491.3 100.5L211.9 287.4L322.4 204.2L445.5 132L393.7 139.5L88.9 386.4L231.3 271.9L141.4 343.5L261.9 251.9L150.9 336.4L267.8 241L241.4 264.9L408.7 136.4L58.2 412.6L360.8 169.8L287.8 223.6L494.8 92.6L288.8 227L283.7 224.7L86 387.9L434.4 129.1L181 316.7L280.3 227.2L402.9 137L436.7 126.5L239.4 273.3L81 394.2L353.2 182L476.6 107.7L381 158.5L330.1 192.5L177.5 318.7L424.9 125.3L168.5 326.1L227.9 269.3L428.3 129.7L204.4 291.5L413.3 140.1L386.4 154.2L405.8 141.9L354.8 174.3L230.5 275.8L332.9 209.3L296.1 223.1L437.7 129.3L514.6 84.1L217.4 287.9L95.4 381.1L228.9 271L343.2 190L176.2 317L464.5 104.8L399 156.3L183.3 311.5L106.1 373.1L459.8 110.7L192.1 306.4L326.4 190.4L237.5 263.3L389.6 143.6L357.1 164.4L291 224.4L217.1 274.5L298.2 217.7L156.5 334.9L332.1 191.5L460.1 101L137.9 345.6L504.7 89.9L298.6 215.1L383.3 155.9L169.8 325.7L353.7 187.2L484.4 92.2L274.4 228.6L369.2 152.9L376.5 138.9L142.8 345.3L258.6 255.7L286.5 235.5L422.6 137.7L320.7 195.5L296.8 212.8L238.8 260.8L461.1 125.7L221.9 284.6L440.8 119.6L85.8 390.5L265.3 241.6L463.6 115.3L374.9 163.2L154.8 338.6L232.7 272.1L113.3 367.4L482.2 109.1L486 94.3L485.8 85.4L346.2 173.7L273.4 240.7L375 155.1L258.5 244.1L79.6 393.4L307 209.4L449.1 129.3L350.2 176.4L439.4 131L382 167.2L371.6 158.5L396.2 165.2L60.3 411.5L216.5 282.4L389.7 158.7L190.5 303.8L428.9 131.3L506.5 90.4L397.5 165.6L516.4 85.7L432.6 127.5L503.8 82.1L379 167.4L433.4 119.7L438.6 127.8L207.1 292.8L351.6 182.5L207.9 297.2L476.3 104.5L77.8 398L211 291.7L218.3 277.6L456.7 131.6L58.7 413.3L454.1 116.8L75.5 399.5L514.8 79.9L372.8 163.3L456.1 118.3L109.4 369.4L238.4 263.8L238.5 265.2L122.3 357.9L235.9 273.5L328.3 197.3L277.4 247.2L305.3 208.6L486.2 91.8L466 108.5L106.3 374L409.2 140.7L439 128.1L494 95.3L242.6 260.4L500.8 91.8L322.4 204L279.5 238.9L298.8 225.3L252.1 251.9L387.3 141.8L310.3 203.9L478.9 105L279.8 223.3L76.9 395.1L252.3 242.3L281 235.1L447.4 112.4L338.9 195.9L312.4 205.9L437.6 117.8L396.5 145.1L363.1 180L175.8 318.8L329.1 205.5L420.7 131L367.9 170.9L415.1 147.4L174.4 316.3L65 406.8L260.9 246.3L216.9 279.1L302.4 223.1L233.7 271.6L84.7 392L226 272.6L338.2 194.2L136.8 350.3L138.8 348.8L412.5 146.1L423.4 126.8L288.6 231.5L509.2 77.6L474.3 95.2L198.1 304.6L290.8 217.7L133.3 351.5L236.4 275.5L246.1 262.2L496 86L241 264.9L106 373.2L331.3 197.1L483.8 92.8L164 329.4L298.5 214.9L235.3 264.7L380.3 172.1L203.5 296L519.1 82.6L452.2 130L393.7 152.6L370.9 151.3L506 90L79.2 396.3L265.9 247.5L354.6 188.4L385.5 152L420.9 132.6L332.8 202.1L495.9 85.3L233 269.7L500 96.4L298.4 216.3L428.8 126L183.6 311.9L283.3 237.1L322.2 192.9L302.4 216.3L500.9 85.1L273.8 235.2L477.8 103.4L105.5 372.7L336.5 180.6L101 379.4L379.2 143.4L475.7 99.9L500.5 88.6L171.3 324.3L266 258L58.5 410.4L379.4 161L272.7 235.3L259.2 240.7L127.1 358L85 391.3L481.7 88.4L342.7 188.6L220 282.9L479.9 94L245.1 266.3L437.7 137.6L481.2 96.9L449.7 111.1L514.7 83L214.8 289L396.2 147.8L312.7 209.4L221.5 285.5L344.2 178L51.5 416.1L295.6 222.2L294.5 220.5L360 165.4L424 123.6L479.8 108.1L441.8 114.2L475.7 105.4L234.2 268.8L368.1 161.4L286.1 222.9L461.8 115.9L457.3 114.5L116.6 365.5L427.2 144.6L93.9 383.2L390.1 159.3L310.8 212.6L363.5 173.7L437.3 105.4L434.5 146.1L461.1 122.6L247.4 264.3L319 200.4L391.4 166.2L421.6 143.4L269.9 242L347.8 183.8L366 158.7L339.3 193.6L400.8 153.5L202 295.9L192 310.6L436.8 137.3L369.9 164.6L334.4 192.9L480 99.7L58.7 411.8L354.1 180.3L474.8 102.4L521.1 77.1L254.1 254L285.8 228L460.1 114.5L506.4 84.4L483.7 102L109.8 372.3L76.4 398.5L67.4 404.3L88 388.1L523.3 78.3L441.9 124.6L101.8 377L388.9 153.6L343.7 184.8L268.5 241L258.6 245L414.5 130.5L290.6 220.1L401.7 138.2L57 412.6L339.8 196.4L334.6 187.1L474.3 98.3L483.1 109.9L444.7 119.6L212.6 288.9L80.1 393.5L482.3 106.8L504.4 80.1L53.3 416.1L227 275.4L395 168L273.5 235.2L373.2 157.6L447.6 127.1L202.3 301L314.7 204.9L291.3 233.8L319.7 204.2L317.9 199.3L404.2 147.2L475.1 103.4L355.2 188.6L358.8 159.7L332.9 189.2L423.4 144.4L147.9 338.5L216.7 292.4L306.9 211.4L449.7 109.5L224.9 276.7L344.8 198.7L263.2 249.8L268.7 236.8L366.7 161.1L60 412.1L472.1 111.6L295.4 216.6L518.5 78.7L370.4 167.7L353.9 176.6L293.5 225.2L522.2 80.7L458.7 129.6L306.4 217L234 273.1L240.5 260.5L284 219.9L138.9 350.2L373.5 175.6L426.8 131.2L492.7 100.4L141.4 347.8L356.2 169.8L207.2 292L427.8 139.4L505.2 85.7L290 222.4L433.6 122.8L474.5 104.5L222.5 282.2L424.4 113.6L396.8 153.1L244.2 259.7L400.1 151.1L329 183.3L338.6 187.9L518.5 80L425.6 112.8L333.4 186.6L243.3 260.3L338.9 196L110.4 374L221.9 276.7L213.7 283.3L383.1 145.8L308.4 214.3L64.2 406.7L191.8 300.9L238.2 266.7L228.2 270L434.4 123.7L454.9 122.2L514.7 79.7L509.3 90.1L289.3 219L323.3 202.7L345 188.9L298.3 213.9L69.9 399.2L439 119.4L417.9 144.1L202.6 296.2L328.2 192.2L464.2 103.5L78.2 395.2L368.7 170.2L266.2 240.2L131.1 351.9L414.1 141.8L98.2 379L292.5 228.1L376.7 153.6L455.4 125.2L320.8 192.3L445 112.7L508.4 83L66.1 404.1L496.9 94L353.9 184.9L342.3 194.6L240.4 261.2L343.7 188.4L482.3 99.9L63.2 407.3L321.6 189.2L361.8 170.8L498.9 86L58.7 410.4L231.4 271.1L202.7 298.7L493.1 91.7L139.1 348.3L226.2 275.4L451.5 131.7L416.3 129.3L497.8 95.6L86.4 392.5L292.2 227.1L382.3 166.9L357 177.6L520 75L321.9 196.9L456.8 114L291.8 229.3L426.3 137.1L315.4 212.7L482.2 94.5L188.4 303.4L234.9 261.1L60.9 409.8L191.8 307.7L240.4 267.7L88.1 388.6L498.4 94.3L426.6 134.7L313.4 197.7L249.2 257.5L131.6 353.7L249.2 256.2L350 174.8L467 118.6L471.4 117.8L373.5 164L372.2 160.6L185.6 312.6L510.8 84.2L374.5 161.3L483.1 96.1L368.2 177L407.9 157.3L275.9 232.7L258.1 244.5L431.8 133.4L140.3 343.1L494.9 81.4L238 261.8L323.5 203.3L243.6 265.1L413.7 138.9L429.6 135.5L427.4 159.5L206 300.1L328.6 193.3L286.6 231L463.3 102.9L254.8 258.3L453.2 131.5L509.5 81.3L331.3 184.8L448.5 105.7L483.3 91.2L162.7 333.7L271.1 246.1L490.2 90.9L421.7 145.8L463.6 105.5L344.6 195.6L236.1 273.2L434.4 126.2L219.5 276.9L334.7 198.2L246.5 265.4L269.8 241.7L482.5 90.7L229.6 276.7L379.6 178.8L121.1 362.2L492.5 97.9L188.7 314L304.8 211.6L337.2 180.5L314.3 203.7L298.3 226.4L182.1 312.9L356.4 170.8L265.5 239.4L464.5 109.1L192.3 307.8L470.5 99.1L312.3 194.9L430 138.7L401.5 139.2L370.7 161.1L364 162.1L289.5 230.6L178.4 309.3L238.4 265.1L480 94L387.4 164.5L363.7 160.5L62 409.6L415.9 165.4L345.8 177.6L373.9 150.1L327.8 204.9L223.7 282.3L370.6 167.7L275.3 229.7L416 141.1L68.4 404.6L127.4 353.4L300.4 221.4L353.8 174L512 88.1L231.8 274.9L405 153.3L279.7 239.5L212.3 292.7L115.4 363.8L225.1 277.7L438.9 139.5L202.8 296.8L334.6 200.8L153.7 337.9L206.2 292.8L67.6 403.3L281.9 235.7L394.7 141.9L256.6 249.8L161.2 328.4L450.3 128.3L168.8 320.5L212.8 290.1L385.8 147.1L504 89.2L135.5 351.4L259.2 241.7L314.4 200.4L328.6 190.9L208.9 286.9L431.3 140.9L462.7 104.2L288.8 230.6L450.5 117L443.1 123.7L115.7 366.1L429.6 132.4L237.3 275.9L318.7 198.2L195.7 304.3L253.3 244.4L453.6 121.9L394.5 151.7L282.4 236.9L520.3 79.9L237.6 267.5L289.8 223.2L414.5 156.4L274.6 243.5L132.7 350.7L397.1 146.9L497.4 90.4L224.9 284.6L253.9 252.7L201.8 301.6L386.7 142.6L291.1 230L488.8 89L457.8 138.5L472.1 107.4L366.3 173L335.4 183.6L135.4 349.3L262.1 242.2L252.8 260.5L307 209.6L486.9 91.9L234 269.7L128.6 351.5L514.5 84.1L361.6 181.7L236.9 271.9L169.3 326.5L230 282L183.7 313.6L495.6 92.6L446.7 123.7L377.9 159L95.2 381.2L436.7 130.2L244.9 256.9L474.2 101L76.3 397.5L122.5 362.1L114.7 369L448.6 108.4L515.7 82.7L414.6 133.4L520.6 74.3L445.9 127.6L281 245.2L216.3 284.6L251.1 264.1L89 391L108.2 374.8L473.5 100.6L271.9 241.2L378.6 155.9L213.3 286.8L286.2 223.6L438.2 136.2L365.8 162.2L245.5 262.8L275.9 236.3L67.1 404.7L247 251.3L114.8 368.9L424 133.5L273.9 237.4L318.7 204.6L198.2 305.4L243.5 259.6L271.4 231.5L454.9 109.7L134 353.9L278 238.5L283.7 237.4L382.6 170.5L497.8 91.5L249.9 257L309.7 205.8L436.4 127.9L300.5 219.9L129.1 355.5L216.9 290.6L346.8 175.2L139 349.6L272.8 230.7L238.1 272.7L518.9 79.3L392 156.5L304 221.8L290.7 218.2L249.8 249.1L320.7 202.4L133.7 351.8L262.4 234.8L484.2 93.9L153.4 336.2L74.5 398.7L325.2 202L228.4 269.6L421.4 134.6L507.9 85.8L414.2 148.1L440.7 138L420.6 146.4L119.4 364L478.4 95.1L392.9 151L513.7 79.5L463.8 117.3L320.2 192.7L371.7 172.1L214.3 292.8L124.1 358.7L247.6 252.2L453.7 117.7L217.6 284.7L480.6 108.1L366.3 161.6L361.3 178.3L434.2 113.6L479 109.9L422.4 133.3L120.6 358.9L385 158.8L194.6 296.8L297.8 219.3L120.2 361.4L266.6 249.1L371.9 166.8L338.1 188.3L482.3 99.5L307.8 205.6L210.4 286.2L277.2 234.5L243.5 266.7L389.1 161.4L411.9 140.1L391 152.8L420.5 149L436 152.4L404.6 136L173.2 313.2L332.6 202.6L241.8 268.3L357.7 184L385.2 140.3L313.1 222L86.1 390.2L256.5 245.5L317.5 210.6L172.7 317.7L504.6 80.5L514.3 83.7L400.7 147.7L259.6 244.8L457.1 106.1L507.5 85.4L295.1 219.3L360.1 163.4L230.1 278.1L375.5 169.2L213.2 290.2L386.2 144.6L333.7 189.7L248.1 249.3L503.9 87L455 135.9L133.8 351.5L256.2 245.9L409.9 146.8L515.1 76.7L170.3 320.9L412.6 149.3L494.2 90.4L350.3 179.8L340.4 186.1L321.6 209.1L356.6 186.2L486.7 103.7L159.1 328.3L511.6 84.2L514.7 83.2L456.1 109.3L239.7 259.1L512.5 84.4L290.7 228.9L297.2 216L119.5 361.6L531.5 72.1L284.8 232.7L188.2 308.2L455.6 123.7L382.1 171.7L228.9 274.9L367.5 163.3L134.3 348.8L372.7 162.5L484.6 99.1L58.2 412.4L197.4 293.1L496.9 80.7L386.8 159L350.9 186.9L349.5 183.5L378.8 146.3L149.3 340.7L127 357.6L439.4 114.4L208.2 289.6L239.6 270.4L411.4 134.1L101.9 373.6L337.1 198.7L254.7 247.7L139.7 344.6L216.8 284.2L432.5 120.2L182.1 318.8L324.1 195.9L273.2 239.5L469.9 96.9L470.9 122.3L458.1 103.7L263.1 242.8L260.4 250.1L379.1 160.8L294.3 225.9L196.5 300.8L282.5 220.4L329.8 203.6L357.9 175L509 87.4L332.9 191.4L451.5 109.4L281.3 228.1L271.9 235.7L492.7 96L198.6 296.6L317.6 211.5L302.9 211L363.2 169.9L386.4 174L487.5 90.2L196.3 304.3L383 166.6L363.5 179.2L474.7 104L374 158.5L512.8 81L414.3 154.4L338.4 174L242.9 251.4L402.2 148.4L463 102.9L333.5 193.6L399.9 142.8L252 256L470.2 104.9L238.6 273.2L355 168.5L341.5 177.9L301.3 227.4L498.4 81.2L393.9 156.3L338.3 198.1L398.6 157.1L396.5 164.9L212.5 286.3L348.2 195.7L119.3 363.5L446 137.4L425.8 138.9L363.6 174.1L412.6 143.1L470.8 115.5L401.6 148.5L323.3 192.9L189.4 303.2L448.9 126.1L354 164.2L166.6 326L288.4 223.9L360.4 169.2L422.3 122.8L285.1 230L173.2 321L381 150.1L232.4 267.3L325 202.1L60.6 410.9L117.3 366.6L396 138.6L251.5 254.8L269 251.3L281.1 224.3L500.8 86.1L360.2 177.4L385.9 152.1L445.1 110.5L214.5 289.6L124.7 362.6L405.1 150.3L360.7 162.9L242.5 271.2L195.1 302.6L503.5 85.5L202.4 298.8L284.7 232.3L338.3 204.2L176 317.8L340.7 180.7L106.1 375.2L310.2 205.4L92.8 385.2L241.2 266L398.2 130.2L125.5 360.5L260.2 262.4L258.5 255.7L449.5 121.1L479.4 98.2L422.3 128.7L379.4 165.6L329.3 196.8L368.2 173.7L239.9 270.7L188.6 312.9L326.4 202.7L342.5 201.9L415.9 141.7L104.3 376.7L319.3 204.4L370.7 154.7L487.4 85.4L293.6 221.8L372.4 171.6L254 263.4L86.5 389.7L98.4 379.8L207.8 290.7L513.6 79L358.4 175.2L99.1 378.8L375.3 167.5L297 223L455.7 109.3L143.1 342L220.2 283.3L289.4 223.1L300.5 210L455.7 123.1L128.2 357.4L276.7 236.1L328.4 197.3L264.8 245.2L217.2 278.5L403 141.5L306.6 211.1L384.1 153.2L422.5 155.7L501.2 93.1L291.3 226.9L254.6 250.2L499.1 89.8L521.4 82.5L476.3 108.1L150.5 339.3L493.6 86.7L366.2 165.6L305.7 214L115.3 368.8L130.4 357L473 106.4L192 302.8L282.1 240.3L259.7 251.1L239 270.9L258.5 250L187.8 306.4L489.3 100.7L301.8 205.9L194.4 305.1L441.6 115.4L435.6 135.4L451.2 114.3L341.3 190.7L212.2 289.2L233 272.3L185.6 314.3L220.6 276.3L107.7 372.6L125.4 361L240.7 267.4L502.5 84.1L518.2 78.3L341.2 199.7L54 417.1L375.9 165.5L356.1 172.7L301.1 204.9L186.8 309.7L277.8 243.2L70.3 401L370.4 177.9L430.2 131.5L137.7 349L497.1 94.4L257.8 240.3L460.7 116.1L324.9 194.8L385.8 157.2L226.1 272.7L427 137.1L506.2 83.1L148.1 341.2L441.5 110.9L458.4 123.9L246.9 262.4L348.1 191.7L510.9 87.9L386.7 148.2L387.8 172.2L111.1 372.3L401.8 164.7L300.3 218.3L324.9 191.2L335.4 188.1L320.3 192.1L245.8 260.5L392.4 148.3L153.8 331.9L474.7 113L240.2 262.6L427.7 120.2L347.6 186L271.2 245.5L283 227.6L307 207.7L255.1 249.6L324.7 197.4L283.4 229.8L462 106.2L178.6 313.7L417.8 131.4L251.8 257.6L465.9 112.2L454.5 125.3L88 388.1L502.8 91.2L446.8 114.5L370.6 176.3L144.8 343.6L456.6 107L339.3 189.9L164.2 329.2L362.8 163.8L391.8 129.1L145.3 339.9L200.3 301L233.2 269.6L346.6 178.2L370.8 178.1L253.9 259.7L187.7 314L97.8 380.8L224.8 279L432 126.9L505.7 87.2L499.6 80.2L230.5 270.9L323.5 197.2L453 108.2L264.7 253.1L437.3 144.1L393.4 141.7L425.6 120.8L256.3 254.3L503.7 83.9L360.9 179.7L172.9 317.4L459.7 126.9L451.3 124.6L435.5 122.1L478.9 103.9L360.8 188.5L140.1 349L211.5 291.5L53.5 416.5L243.9 266.5L360.9 172.5L390.6 141.2L399.2 141.8L501 84.4L316.5 206.7L507.5 82.8L378.7 165.9L383.8 166.3L347.2 187L52.1 418.1L320 207L402.8 137.2L375.5 160.1L156.2 332.7L282.5 234.3L403.7 133.9L490.4 83.5L330.2 193.1L84.9 390.1L136.9 348.3L236 261.1L59.7 409.2L223.9 275.6L475.3 103.7L124.9 356.8L102.2 379.1L320.2 209.3L247.3 263.5L356.2 182.7L247.1 260.1L308 215.8L248.7 256L191.8 305.7L56.4 414.9L412.6 133.6L219.3 284.8L427.2 128.5L71.8 400.4L393.8 151.8L453.2 107.8L170 323.6L236 263.6L179.9 314.4L263.6 247.2L498.8 94.8L390.7 144.3L102.2 377.5L382.3 153.8L447.6 137.8L460.2 107.9L499 91.4L429.5 117.7L415 145.2L376.8 160.5L254.5 253L475 91.4L57.1 413L297.1 215.7L482 88.1L310.4 208.1L237.4 260.5L318.4 198.1L201 294.5L483.2 96.5L348.8 187.5L369.9 177.3L305.5 209.7L307.6 212.4L372.8 158.6L62.7 406.7L412.2 148.3L246.9 254.7L402.3 149.9L313.8 209.6L277.3 235.9L339.9 183.8L52.9 416.7L508 84.9L387.4 138.6L388.9 152.2L502.1 87.5L458.8 106.7L363.7 178.4L307 214.4L354.5 169L140.2 343.8L268.6 239.6L477.7 99.3L228.1 276.9L304.9 216.8L447 114.3L480.7 94.5L520.8 73.1L273.3 237.7L320.3 202.8L381.4 165.2L228.7 274.2L234.6 268.6L347.1 192.3L231.1 278.7L204.9 296.3L374.1 164.2L201.8 298.4L151.1 337.3L495 93.9L238.6 273.7L190.6 308.9L95.4 380.2L304.3 201.8L217.5 282.3L336.1 189.8L279.8 241L81.6 393.6L505.7 81L408.9 147.9L255.7 242.9L374.3 171L344.9 199.6L353.6 197.4L223.2 271.5L503.3 81.7L262.4 250.8L526.1 81.1L253.5 255.2L294.2 224.3L487.1 94L485.9 92.9L97.9 379.2L297.2 221.1L99.2 380.7L463.5 99.8L211.7 289.7L207 296.6L401.3 135.7L266 238.4L476.7 104L265.7 237.2L498.2 82.6L497.8 94.4L272.6 242.7L508.2 89.3L323 204.4L224.3 279.8L277.2 243.4L356.6 170.6L243.5 255L158.3 327.7L419.9 129.4L489.1 88.1L309.2 205.5L203.9 297L311.2 191.8L491 91.1L364.1 179.7L221.5 280.9L393.2 146.1L432.5 120.3L365.7 173.7L239.6 275.3L419.2 132.7L233.2 264.2L227.7 270.3L109.6 371.2L193.7 303.3L229.7 270.7L508.3 87.7L512.8 79.5L195.3 299.8L247.2 260.8L513.7 78.5L422.6 138.8L362.5 165.4L479.5 98.7L186.2 311.9L503.1 94.4L244.3 261.3L506.8 79.2L407.8 149L266.4 242.6L173.5 317L490.9 95.4L478.7 108L186.2 310L485.6 96.2L437.5 118.6L408.1 153.9L400.3 147.8L356.5 180.9L220.6 278.4L517.1 81.4L369.4 170.9L493.3 101.3L214.1 291.4L214.4 283.1L328.1 193.8L490.4 91.3L459.7 121.8L449.7 131.3L482.1 89.5L335.5 186.4L292.5 215.3L280.2 226.8L298.1 210.8L300.8 218.4L309.8 204.6L268.9 239.5L465 98.9L132.9 350.4L505.1 91.8L336.4 188L352.1 177.7L281 228.4L259.8 257L222 279.1L311.2 206.9L453.9 111L72.9 400.4L510.1 80.3L289.6 221L454.1 105.7L368.1 172.8L346.3 186.7L321.1 203.5L455.5 107.2L114.6 366.3L495.2 94.1L513.5 84.6L377.8 153.4L99 379.5L506.2 85.3L510.7 86.4L387.8 152L284.9 221.5L368.6 169.4L324 186.5L453 110L457 112.5L470.6 90.5L459.4 94.9L390.8 157.9L319.8 205.7L78.8 396.9L248.1 251.1L473.7 90.6L269.9 248.8L116.7 366.2L210.7 286.8L519.7 81.8L426.9 118L460 111.4L442 128.7L54 414.9L356 187.1L371.9 165.6L273.2 239L231.4 276.5L183.9 309.6L415 155.7L448.8 142.7L452.8 116.2L354.2 184.6L253.1 260.9L389.3 143.5L325.3 201.8L519.7 73.6L190.6 309L83.6 392.2L327.6 202.3L320.1 193L343 181.8L332.1 190.7L348.3 179.3L484.9 92.6L477 99.4L306.4 209.8L346.3 180.4L230.1 268.7L293.7 230.1L286.6 227.2L309.6 213.2L343.9 183.1L189.6 303.3L202.6 297.8L200.7 296.7L433.4 134.8L131.7 354L352.5 185.4L384.7 153.3L468.3 114.9L262.6 257.5L279.6 238.9L530.3 73.7L338.3 187.2L229.6 279.2L163.4 328.5L464.7 110.3L391.8 157.1L202.9 296.7L297.8 223.6L118.3 364.8L429.6 114.5L489.5 94.6L405.7 137.2L397.9 141L494.9 98.6L341.2 193.7L487.6 102.2L414.7 138.1L483.9 100.6L444.8 120L407.3 158.2L343.3 178.2L187.2 308.3L496.9 90.8L439.7 121.4L478 93.3L58 411.5L355.2 195.7L395.9 135.3L258.3 253.4L496.2 94.5L365.9 173.1L387.8 159.1L322.9 189.5L480.4 103.9L185.6 313.6L367.1 167.4L384.4 151L502 82.9L511.9 86.5L500 83.4L436 109L237.3 272.9L403.7 140.9L209.3 293.5L362.7 152.6L503.5 85L342.9 200.4L140.9 344L395.4 131.7L502.7 83.2L263.9 237.5L60 410.7L213.4 283.2L93.6 384.2L274.1 240.9L441.7 126.2L124.1 359.1L201.2 299.5L177 316.2L152.3 333.5L482 104.8L128.7 356.6L404.5 149.9L260.9 243.8L240.3 265.2L394.4 145.5L358.9 174.6L276.3 236.8L353.1 191.1L261.7 244.6L380.4 148.6L62 409L250.1 258.3L237.4 265.5L208.7 288.9L295.3 223.9L386.9 159.4L411.1 133L426.5 129L353.3 177.3L171.5 316.8L376.5 159.5L108.5 371.2L333.7 189.7L58.9 411.8L459.8 110.2L263 253L137.4 347.7L280.7 234.4L305.3 201.9L471.8 109.8L152.4 336.2L480.8 92.8L166.8 329.3L243.2 258.6L518.3 81.6L301.7 217.9L271.9 229.5L451.8 123.2L475.2 112.6L302.4 220.4L234.1 266.3L265.3 244.6L410.9 146.9L59.3 410.1L271.7 237.7L219.1 278.6L256.3 246.8L262.4 254.5L385.1 149.1L238.5 260L215.6 279.5L264.1 249.3L506 80.8L341.9 184.2L305 212.8L402.5 163.9L453.1 112.2L101.9 376.5L249 262.7L476 111.5L350.1 172.5L256.1 255.6L295.7 212.6L52.3 416L256.3 256.1L282.2 231.9L520 73.3L303.5 214.2L308 218.5L88.6 388.7L275.3 239.1L358.3 174.3L330.5 197.1L97.8 382.7L305.3 212.6L201 291.5L267.9 256.2L398.3 144.6L138.3 347.6L370.6 178.4L453 113.8L234.1 266L362.3 168.6L402.7 144.2L415.6 155.3L159 329.9L236.3 269.3L345.8 187.1L371.7 157.6L353.4 186.2L415.8 136.4L465.5 103.3L280 231.9L58.7 412.9L443.9 119.9L309.4 220L398.8 153L444.4 127.1L309.6 199.5L359.5 162.7L520.9 80.9L426.3 135.1L189.8 309.5L506.4 83.4L381.5 167.9L198.5 293.2L267 245.2L299.4 221.1L462.7 114.9L273.7 239.5L397.6 164.6L279.7 238.4L242.3 268.8L391.8 148.2L289.7 214.2L412.6 157L250.4 253.6L427.5 149.5L370.9 167.7L448.1 109.4L176.5 315.6L350.5 173.8L201.4 300.2L434 135L196.9 299.9L408.2 126.8L426.8 133.3L443.7 135.5L192.6 305.1L441.7 122.3L374.9 176.4L55.6 414.5L433.7 121.7L82.1 390.5L401.1 138.1L359.3 175.5L81.9 393.5L335.2 194.1L395.2 152.3L444.5 107L168.1 326.8L258.7 247.3L230 271.1L373.7 156.5L323.8 188.2L152.7 336.2L418.6 123.8L318.3 202.8L430.4 143.2L374 150.2L465.5 102.3L283.2 229.5L452.4 120.3L300 210.7L371.2 158.8L276.1 237.8L464.7 112.9L278.3 231.4L202.4 295.8L326.8 196.6L182.6 309.5L391.8 150.5L255.5 241.4L438.3 135.9L91.6 383.9L451.8 123.3L490.9 81.1L480.8 107.2L252.8 256L245 251.5L335.9 189.2L318.6 208.4L447.1 129L377.4 156.1L394.9 127.7L260.9 251.6L301.5 218.4L467.6 102.8L473.2 105.2L349.1 186.8L339.1 181.3L199 296.7L285.2 233.2L287.9 226.8L80.6 392.9L176.9 322.4L190.3 302.2L282 231.6L383.5 164.1L363.3 176L428.8 148.5L132.1 352.1L119.1 361.4L100.7 378.8L359.2 167.7L244.4 259.4L70.1 404.6L108.1 374.4L228.3 279.1L437.4 120.9L445.9 139.7L215.9 281.6L504 92.1L125.3 359.1L69.2 404.7L459.2 118.2L439.3 108.8L293 230.4L112.8 368.2L194.1 303.5L267.7 243.7L520.2 81.4L373.1 160.1L395.6 152.1L475.2 100.9L379.5 139.1L233.8 265.3L266.7 241.5L282.8 219L337.9 185.3L310.4 208.2L101.3 379.1L427.8 146.2L228.8 280.8L355.6 191.8L202.8 296.2L269.2 234.8L362.7 164.6L516.2 81.6L450.9 109.6L456.5 113.8L459.1 110.2L218.8 276.5L297.8 214.7L500.3 93.8L280.8 228.6L508.9 78.3L447.6 124.8L289.1 228.3L308 214.5L304.5 216.2L221.7 276L259.5 239.9L310.9 205.6L477.8 94.7L287.3 230.2L323.3 194.1L395.6 156.8L440.5 135.4L524.9 71.4L411 143.9L342.9 183.4L400.5 139.9L411.2 154.5L158.1 333.6L480 100.4L476 102.1L357.2 177.5L508.1 84.1L88.4 387.6L292.8 226L147.9 341.3L62.3 407.7L255.3 258.4L460.3 115.7L359.1 177.1L85.1 392.5L352.8 180.8L395.2 148.5L351.9 177.1L285.5 233.2L410.9 148.4L379.9 157.8L233.7 271.3L417.7 150.9L132 352.7L428.7 135.3L225.4 280.6L290.9 219.1L375.7 174.6L496.3 100.8L181.4 308.1L386.5 143.4L479.7 104.1L463.3 122.4L514.6 81.3L376.8 161L193.3 301.3L294.4 215.6L517.5 82.1L219.4 289.8L178.8 310.1L378.3 155.7L91.5 383.5L483 90.7L393.5 156.9L139.8 347.3L262.4 243.3L270.1 239.3L471.8 108.3L55.6 413.6L64.5 408.3L349.9 185.5L253.2 260.7L361.8 181.3L302.7 217.1L191.1 307.7L314.1 215.5L125.7 355.6L504 91.9L174.8 315.9L462.6 103.7L294.5 227.8L450.4 108.8L374.8 163L177.2 311.8L237.9 261.6L297.5 227.6L221.3 284.7L227.1 277.5L313 211.5L455.7 115.7L51.5 417.8L417 149.5L496.2 90.1L212.6 292.6L423.6 133.8L405 148L430.4 144.9L375.4 165.8L317.5 197.2L189.6 305.1L258.3 257.2L360.8 168.5L301.9 221.8L83.6 393.3L211.1 295.6L147 342L428.2 134.7L211.1 289.7L82.9 392.3L499.2 94.7L515.6 84.4L453.8 126.5L271.5 244.5L520.8 74.8L493.4 84.1L366.6 175.1L390.7 147.9L402.7 157.3L317.8 212.6L480.1 101.5L471.9 90.5L417.5 128.4L395.8 149.1L278 238.9L215.6 279.2L333.3 200.1L508.9 87.4L410.3 139.9L376.2 170.5L253.7 250.7L303.4 224.2L503.8 88.8L382.7 146L319.2 197.8L187.9 311.1L236.1 260.8L395.4 139.4L470.4 99.8L188.7 311.4L197.8 302.2L342.6 194.1L464.8 116.8L199.8 301.8L188.1 300.5L284.4 222.1L426.9 127.9L272.9 236L385.7 142L483.7 107.8L388.2 171.6L67.7 405.5L306.3 209.1L293 224.1L90 385.8L248.6 257.2L296.6 223.7L400.6 163.9L308.4 203.9L428.3 142.9L327 195.8L380.1 175.9L113.9 368.6L301.7 211.2L330.9 188.6L383.3 143.6L359.4 177.3L434.4 125.1L257.1 253.7L431.1 132.8L418.7 124.5L240.8 265.4L414.9 161.8L428.9 136.6L438.5 126.5L276.4 240.1L406.8 149.4L497.1 96.8L215.9 286.4L375.1 174L118.6 366.9L95.9 379.8L362.1 171L64.2 408.8L286.6 232.5L413.5 136.3L183.5 315.2L520.1 81.2L336.5 183.3L277.1 241.6L492.6 95.6L358.5 177L286.2 225.9L175 317.2L459.1 108.8L446.2 113.4L391.5 135.8L320.8 194.7L365.3 168.1L342.6 195.3L395.3 141L265.2 241.8L51.5 418.1L330.7 207.6L210 292.3L245.9 257.4L513.9 80.5L78.7 395.5L478.2 84.6L157.4 331L375.7 160.3L351.9 184.5L412.6 155.2L149.7 337.7L276.9 235.1L129.1 354.3L454.7 114L117 366.4L325.3 194.9L511.7 82.2L406.3 135.6L291.7 221L470.4 111.4L472.1 93.6L294.5 207.2L280.4 229.7L425.8 151L398.6 158.4L212.1 280L511 83.6L296.6 209.6L243.9 268.7L246.7 254.2L294.5 232.1L219.4 279.9L274.6 245.6L201.7 301.2L235.4 274.5L287.6 220.7L254.3 250.9L304.9 207.5L282 232.7L514.8 88.5L466.1 111.8L363.9 166.6L306.3 207.9L365.1 176.7L505.6 89L503.8 87.2L410.8 127.3L219.1 285.9L139.7 349.1L159.7 329.1L243.4 258.5L414.6 124.3L393.8 158.8L128.4 355.3L298 207.8L290.6 217.6L502 82.2L377.5 156.6L198.3 302.1L177.6 320.1L294.2 224.2L356.9 170.4L245.7 259.6L508.3 85.3L417.6 140.1L319 201.6L244.2 261.5L371.2 167.4L387.9 152.8L409.5 124.2L204.2 298.5L247.6 266.8L166 327.6L201.9 295.2L284.7 230.8L238.2 270.1L408 145.7L399.6 161.1L484.6 99.8L294.7 214L443.9 117.6L291.6 225L236 268.3L286.4 231.1L68.3 403.6L421.1 158L508 83.7L144.4 344.3L410.9 153.4L222.4 285.6L412.4 141.9L344.2 185L419.2 136.8L479.5 98.9L438.4 137.8L128.2 357.2L149 336.4L260.7 244.3L444.4 137.3L219.8 278.3L329.6 200.7L441.2 129.1L312.5 200.7L162.9 329.2L348.8 168.4L123.1 361.9L463.6 120L461.4 112.2L404 143.7L270.5 245.3L518.6 82.5L310.1 206.9L483.7 99.4L468.1 99.5L233 272.1L471.6 112.3L468.7 103.4L483.2 93.2L325.9 195.7L198.2 294.6L223.9 277.5L367.8 157.6L216.6 285.2L290.2 230.1L227.2 278.3L353.7 181.3L240.7 271.4L479.2 93.5L190.5 301.5L288.5 225.1L430 145.2L389.2 172.1L278.5 235.5L473.6 110.3L499.2 92L436.4 117.3L424.1 123.2L482 93.8L476.7 104.6L282.5 220.6L242.2 264.3L273.1 239.7L386.5 157.2L410.5 142.8L388.6 155.5L333.2 193L126.8 355.9L235.3 272.8L514.3 81L515.1 78L233.7 264L141.3 343.8L226.2 269.9L269.3 251.6L188.8 302.6L492.9 87L88.9 386.8L264.9 242.1L85.5 391.3L226.3 281.6L423 130.1L333.5 179.9L330 194.5L328.2 197.1L296 222.7L352.5 175.2L180.1 314L429.1 155.2L136.3 348.6L452.4 116.5L488.4 84.9L328.5 192.5L264 248.5L300.5 208.2L390.6 147.9L508.8 88.5L259.2 245.5L151.4 335L513.4 81.3L154.7 334.5L67 406.7L349.5 167.3L281 233.3L452.8 127.1L363.7 192.9L369.3 181.5L384.7 166.3L274.3 234.4L195.8 299.8L244.5 256.3L155.3 335.7L234.8 266.5L305.6 217.6L236.6 259.7L418 131.9L205.9 295.9L223.6 278.5L160.1 328.3L419.1 158.6L272.8 230.3L320.6 196.2L475.9 94L481 106.2L333.2 199.1L512 82.5L315.5 199.6L480.3 95.1L280.4 230.4L180.8 317.2L294.2 226.9L236.7 272.9L271.8 232.4L263 257.4L329 190.5L372.2 165.7L272.7 238.7L416.2 162.3L500.3 83.2L387.8 168.7L144.6 340L347.9 178.2L293.9 225L497.1 87.9L375.7 167.4L391.3 160.1L279.1 240.5L462.2 126.1L470.4 117L115.4 365.1L157.4 332.6L103.2 375.5L441.7 131.2L306.3 206.3L402.4 147L93.7 385.1L276 232.5L321.2 189.8L368 184.2L91.9 386.6L368.8 174.2L179.9 313.9L469.3 111.3L326.7 199.5L480.4 99L465.2 97.7L395.1 127.1L325.1 205.7L397.5 155.3L450.6 114.6L487.3 104.7L309.2 209.9L502.3 85.8L236.9 269.2L223.9 282.5L408.9 149.4L499 93L299.3 213.6L268.7 236.6L67.5 406.9L105.2 374.8L450.8 115.9L512.2 82.9L328.9 193.7L168.5 327.2L257.4 250.6L434.9 141.9L392.1 159.3L387.5 136L238.2 270L188.8 309L344.8 193L204.1 297.2L404.9 140.7L496.4 96L463.2 126.3L68.1 403.4L366.2 175.2L196 303.5L196.7 306L321.9 204.1L506.2 79.6L65.9 408.3L219 288.3L290 229.4L104.3 372.2L193.5 301.2L355.4 196L212.3 288.5L323.1 198.4L511 86.2L378.1 161.4L63.4 406.7L241.1 262.1L401 153.4L276.8 227.9L357.7 173.8L288.8 223L95.3 380.6L322 194.3L477.1 97.3L176.2 312.3L415.2 146.3L357.1 173L215.4 288.5L371.3 169.4L175.4 320.3L237.1 272.7L364 166.7L69 403.7L502.7 81.4L309.2 216L487.9 92.5L132.5 354.2L235.2 261.4L476.5 95.1L281.3 231.3L311.1 200.2L420 137.3L286.4 219.9L63.2 410.1L335.7 195.6L206.6 300.2L396.6 132.7L324.6 200.1L404.4 134L452.7 116.4L302.4 213.4L181.1 316.9L315 209.7L447.3 111.5L476.3 114.3L224.9 278.8L487.2 96.9L399.3 145.1L360.1 163.7L358.9 176.1L189.3 310.4L368.1 176.2L288.6 215.9L370.4 161.6L109.2 370.3L447.2 119.3L441 113.1L489.7 100L527.7 78.2L193.5 297.4L257.6 244.6L222.1 271.7L501.3 83.7L430.7 121.8L104.4 375.9L316.1 195.7L436.5 136.5L104 377.4L426.4 141.8L227.1 276.1L412 134.7L415.9 133.1L103.6 375.6L524 76L261.1 250L489.9 97.5L223.6 273.9L335 183.9L93.2 383.2L458.8 119.2L445.8 109.4L448.4 120.5L208.6 287.7L238.1 269.7L421.9 137L412.8 148L243.4 254.1L415.9 136.6L513 87.4L449.5 125.6L451.4 132.9L359.9 188.8L237.4 263L384.6 151.3L497 85.9L376.7 157.6L161.2 329.8L94.1 381.7L514.2 80.9L438.9 116.7L485.7 96.1L227.8 280.4L180.7 309.2L218.8 281.2L332.2 188.3L247.8 265.7L448.7 117.5L251.3 249.7L298.5 212.9L192.2 306.6L403.9 129.3L272.6 241L450.3 105L421.9 119.2L437 123.2L331.9 191.7L471.6 111.2L361 166L493.5 100.4L229.2 273.2L396.7 149.2L504.9 84.3L493.9 100L485 104.1L217.5 289L193 301L400.6 145L90.4 386.7L208 290.9L453.1 120L394.1 144.1L367 164L164.7 328.7L248.8 255.3L313.4 207.6L427.6 143.7L304.1 214.7L477.9 95.2L523.7 80.9L346.8 193.6L397.4 129.2L146.5 337.4L267.5 245.9L385.8 163.4L98.8 378.3L275 246.9L262.7 239.3L445.6 128.1L292.9 227.5L436.2 133.8L293.8 228.2L374.2 152.3L184.5 313.2L297.6 227.4L239.5 262.8L498.2 85.2L343.5 184.9L310.4 202.8L512.3 75.5L122.8 357.3L229.5 268.1L510.6 76L522 81.1L218.4 278.5L454 114.3L220.5 280L93.8 384.5L166.7 320.2L447.8 110.4L97.9 377L473 108.5L180.1 313.4L190.6 302L379.4 167.3L265.7 238.8L115 368.6L173.3 321.3L215 284L484.2 102.1L148 338L514 78.8L161.9 327.2L237.9 261.9L240.6 262L355.5 175.7L497 94.1L309.4 206.8L464.7 118.5L185.6 309.7L319.2 207.3L331.3 196.6L520.6 75.4L92.9 385.5L272.1 234.5L303.9 223.6L432.7 138.7L214.9 282.6L311.8 212.3L291.8 221.3L494.1 98.8L112.3 370.8L489.9 97L301.4 219.8L202.1 297.7L208.9 293.7L484.3 104.8L383.2 166.1L317 209.4L255.9 249.6L99.3 379L287.6 238.3L298.3 221.6L125.6 358.1L322.2 187.9L405.8 133.8L320.5 197.8L220.4 274.1L236.9 262.3L438.5 124.6L304.9 205.5L389.2 143.5L210.8 295.6L462.7 108.2L92.3 384.2L477.5 102.8L494 85.9L406.6 148.7L358 170.3L141 346.8L356.6 162.3L159.4 328.2L338.1 190.7L420.7 147.9L359.1 175.8L408.5 138.8L210 287L321.4 195.1L381.8 150L378.2 155.6L173 318.6L425.6 143.1L340.4 194.6L466.3 130.4L211 292.2L108.4 371.7L452.8 125.5L403.4 148.4L311.6 211L386 162L429 144L373 156.9L196.4 295.3L203.9 291.9L63.1 410.1L229.7 287.5L401.7 148.4L469.5 120.2L301.6 211L204.3 293.7L436.1 118.4L253.3 248.9L490.6 92.7L483 98.6L405.4 161.8L188.2 305.7L253.7 249.8L393.2 154.9L403 130L178.1 317.8L222.1 284.9L237.8 268.9L403.5 132.1L284.6 231.9L303.9 214.4L370.4 156.9L488.7 91.4L329.5 192L332.4 181.2L459.2 126.9L332.5 192.4L502.7 90L420.2 129.1L110.8 371.6L333.1 199L141.6 345.6L290.9 225.6L285.7 234.3L410.5 129.9L145.4 343.3L443.6 131.9L214 290.4L455.5 113.2L425.5 127.8L78.1 397.3L510.7 79.4L453.6 109.1L238.3 257.7L252.4 257.1L466.4 115L136.8 346.4L424.9 130.9L162.1 327.4L446.3 125.4L186.6 310.9L443.2 124.9L349.5 175.3L467.2 110.8L331.2 194.6L166 329.3L352.2 174.4L283.1 223.8L481.4 105.8L466.2 119.5L366.8 171.2L324.4 203.6L237.9 279L278.7 227L483.4 93.8L438.5 139.5L387.1 155.2L267.7 246.8L407.2 141.7L472.1 102.7L447.7 122.1L244.7 255.6L475.9 101.1L229.9 275.1L246.2 256L75.1 399L135.2 347.9L307.9 210.4L313.9 200.3L462.9 108.6L424.6 131.4L82.4 394.6L273.4 233.7L319.3 208.8L313.6 205.7L107.8 370.3L145.6 341.8L351.8 191.8L220.8 277.1L454.7 126.6L65 407.1L149.5 339.3L255.2 257.7L432.1 125.9L328.2 190.7L421.4 132.7L234.2 272.6L311.9 210.7L441.1 124.4L370.4 178.7L319.1 192.5L395.5 134.9L380.6 153.2L322.9 208.7L263.9 246.4L311 207.4L515.3 82.1L155.5 333L331.3 189.3L393.5 152.8L286.2 234.4L393.8 162.3L373.3 173L380.4 165.8L188.8 306.8L444.8 131.9L213.1 284.6L484.5 109.5L398.3 162.4L460.9 106.3L226.7 272.8L465.8 99.7L408.1 130.7L416.3 142.5L504.5 76.5L351.8 172L339.2 196.7L461 106.3L417.5 131.7L511.2 81.8L501.5 81.8L267.1 248.4L193.7 300.5L522.4 80L400.5 133.7L359.7 177.4L260.5 252.9L487.2 96L369.8 176.7L283.1 223.6L342.1 197.9L230.7 275.7L426.8 139.1L76.2 396.4L371.9 167.8L140.7 350L381.5 161.2L523.4 80.4L255.4 254.9L477.4 110.7L499 88.1L478.6 96.7L307.2 212.4L517 82.7L463.1 101.4L282 243.3L426.2 118.5L303.3 219.3L443 127.4L165.9 326.1L87.3 389.4L190.2 305.1L230.5 264.1L240.8 263.7L516.8 83.9L278.5 236.5L440.5 123.8L467.3 109.8L78.5 397L230.6 272.3L484.5 102.4L430.4 152L497.3 92.7L68.3 403.9L103.6 374.1L475.1 108.3L445.7 122.6L217.8 279L59.8 409.7L211.5 282.6L345.9 189.4L148.5 342L182.3 307.9L305.8 219.5L80.7 394L364.7 167L472.4 99.4L437.8 119.4L443.4 135.5L231.7 274.7L513 86.4L213.9 292.6L262.3 245.5L297.6 227.7L361.4 190.4L232 272.5L478.4 105.2L524.4 78.1L523.4 74.7L283.4 227.8L311.7 214.4L475.4 94.9L318.6 209.9L465.6 115.9L484.4 98.5L513 84L99.6 379.2L357.9 174.8L229 274.4L392.9 150.4L261.1 247.7L203.5 290.9L156.1 337.5L433.8 116.1L259.6 246.1L314 210.3L473.4 104.4L421.7 141.3L455.8 110.5L412 133.4L448.4 110.4L464.2 101.3L432.1 141.8L510.1 84.4L478.5 100L251 256.2L496.9 95.8L293.6 221.2L411.3 135.6L471.3 108.7L486.2 101L244.2 263.2L119.5 364.2L379.5 168.7L343.8 196.8L323.6 211.6L382.6 151.4L340 180L344.7 177.4L371.1 168.3L474.5 112.4L184.3 312L205.8 294.9L239.1 268.1L360.4 175L272.9 230.2L391.3 151.9L181.2 314.9L213.3 284.3L205.2 295.7L404.4 167.3L278.9 239.9L427.7 143.1L256.3 248.9L355.3 188.5L277.3 236.5L105.4 375.6L405.4 132.8L430.5 137.9L484.3 85L443.2 133.5L424.1 138.6L191 309.7L178.7 317.4L145.9 339.9L177.9 313.6L92.7 384.3L374.4 149.3L374.4 172.9L423.9 138.8L238.6 261.6L235.1 269.8L459.7 121.1L504.6 82.9L419.4 143.7L463.4 118.2L308.7 221.6L415.9 130.8L426.3 151.5L514.4 78.9L476.4 104.3L467.8 108.3L392.9 153.5L220 274.6L103.2 376L269.1 238.2L162.9 327.9L193.3 309.8L217.7 280.5L428.7 122.4L264.8 247.6L400.8 152.2L392.7 149.3L408.7 128.8L292.7 221.4L442.4 115.3L391.5 172.1L403.9 136.4L529.8 78.2L90.8 385L286.7 222.6L248.1 260.7L147.3 339.1L129.9 353.9L199.5 292.4L393.5 146.9L508.8 87.1L278.8 238.3L152.7 333.4L241.4 269.5L188.3 308.8L484.2 86.3L490.8 93.9L515.1 85.4L450.4 128.3L381.1 151.9L154.9 335.1L161.1 327.3L219 286.6L67.6 406L462.4 101.4L363.2 165L303.6 212.6L215.3 288.1L346.1 193.4L361.3 181.3L180.8 320.2L319.3 196L265.2 250.3L307.8 222L427.4 136.9L429.8 123.4L205 296.7L109.1 370.8L401.2 145.8L436.1 140L285.9 225.2L229.9 262.6L318.8 198L487.9 96.9L316.2 206.4L294.9 227.5L277.4 242.2L74.4 400.8L226.5 267.2L279.9 226.9L240.6 267.6L208.7 286.4L310.6 198.7L333.2 187.3L298.3 231.6L493.5 89.8L349.4 178.2L241.7 267.2L354.2 174.7L490.6 99.6L455.8 113.7L374.1 153L237.5 270L366.3 167L396 151.9L391.5 157.4L163.2 324.7L233.2 267.7L244.6 266.8L448.8 128.8L301.6 224.1L308.1 217.5L340.3 198.6L384.6 145L267.2 246.2L301.3 218.3L260 255.4L157.1 334.8L412.9 125.6L459 122.8L340.6 194.4L191.6 310.9L517 79.6L344.2 196.1L262.4 253.2L291.3 213L317 205.9L208.2 297.3L457.4 111.4L386.8 147.3L292.1 215.2L420.7 130.5L304.3 207L348.7 188.7L284.2 235.2L394.6 136L397.8 151.9L115.5 366L307.5 211.5L408.9 122.7L338.4 195.3L304.4 214.6L391.4 168L500.8 85.5L476.7 94.8L77 395.2L152.4 338.5L95.1 383.8L506 87.5L350 174.9L206.3 296.4L343.7 198.3L420.9 127.5L427.8 148.2L360.3 173.6L229.8 269.7L103.9 378.9L403.1 153L183.2 316.8L245.7 259.9L504.8 89.5L64 407.2L391.7 165.1L395.3 164.3L389.1 144L377.1 156.9L297.7 211.5L479.6 101.1L300.9 214.4L275.7 242.8L275.7 241.6L344.1 182.5L506.8 94.6L397.4 163.1L382.5 147.7L405.1 139L465.5 108.2L370.4 182.2L301.2 215L376.9 159.9L158.8 334.1L86.7 387.8L467.8 103.8L471.8 101.8L265.7 240.7L219.3 284.8L202 298.1L365.5 174.5L226.2 270.2L201.8 296.2L411.5 144.9L185.1 309.1L422.7 138.4L311.9 207L285.4 236L208.9 290.7L468.8 94.8L478.7 99.4L328.2 190.4L117.7 364.4L259.3 241.8L318.1 205.6L219.7 276.2L502.3 89.5L213.5 282.2L66.4 405.8L431.1 149.5L491.1 98.9L303.3 214.3L386.4 158L504.2 86.7L342.3 191.5L350.9 175.2L478.8 101.1L321.2 204.7L391.8 152.4L90.5 385.2L332.9 184.7L108.3 371.5L461.9 101.5L457.1 105L281 230.7L61.5 408.3L272.3 237.3L217.1 286.3L269.5 248.1L466.1 101L238.5 264.3L468.6 105.3L230.7 269.5L199.7 302.4L353 192L357 168.5L351.8 184.8L236.1 265.2L254.9 249.6L165 330.1L258.7 250.7L428 133.5L164.2 323.6L333.1 195.3L455.2 117.8L210.6 298.3L290.6 215L457.7 98.7L268.7 238.4L499.9 88.9L445.3 128.8L353.8 180.6L215 290.2L373.4 156.2L266 245L232 272L462.6 105.1L165.5 323.9L319.6 201L215.1 293.4L423.3 150.4L475.9 99.3L375.2 161.5L459.2 100.7L391.6 147.1L84.1 391.1L253.5 253.5L204.7 300.3L341 184.5L313.8 213.9L359.1 168L332.2 199.9L258 252.6L122.1 362L416.7 143.8L137.2 346.7L287.8 223.5L51.8 416.2L375.4 159L474.7 114.9L371.9 163L496.4 88.6L484.7 105.4L317.9 208.9L270.1 244.8L405.3 133L465.9 123.5L374.4 160L476.9 102.4L449.3 135.3L450.3 96.9L399.6 143.2L329.7 198.8L246 256.4L143.4 347.1L358.1 184.1L277.1 240.9L489.1 98.5L438.3 121.4L83.4 392L100.2 381.1L386.8 157.1L394.3 157.1L267.1 241.7L239.4 266.6L130.3 352.3L152.5 334L425 131.6L73.2 399.1L144.4 343.4L290.7 221.5L457.2 113.1L234.8 270.9L407.9 134.3L198.6 302.6L114.2 369.8L177 315.5L120.4 364L408.2 138.3L210.6 282.7L187.3 305L170 325.2L470.4 92L482.7 101.2L279.3 231.1L303 208.7L361.8 173.4L241.7 264.1L393.8 153.1L260.6 244.6L319.4 205.8L524.8 74.2L188.4 308.4L335.7 193.5L498.8 92.5L380.2 153.1L524.4 83.8L253.7 254.4L126.4 356.2L160.8 329.4L373.8 163.2L281.9 238.8L512.1 78.2L199.9 294.7L305.7 213.2L259 241.2L387.4 161.4L420.8 135.7L393.5 154.9L353.1 180L422.5 135.1L302.1 216L318.7 209.2L121.7 361.2L378.4 152.2L220.4 272.8L368.2 177.5L487.4 86.5L418.3 129.3L445.4 129.9L194.4 305.5L57.2 412.9L518.4 82.9L224.7 283.4L220.4 279.9L381.2 155.3L469.2 103.8L321.4 197L468.4 118.7L269.6 236L477.6 100.3L314.5 206L254.5 243.1L348.5 172.9L468.4 108.8L302.5 213.1L248.8 262.9L145.9 342.7L388.8 157.6L248.6 264.8L204.5 291.6L221 278.2L410.4 153L440.6 118.5L130.5 352L434 135.8L380.2 169.8L201.4 295.4L514.8 83L314.7 208.6L476.4 105.5L286.3 235.9L74.9 401.3L251.4 257.5L263.6 237.2L276.8 227.5L472.6 110.9L281.5 229.8L141.6 345.4L479.3 103.6L203.7 302.9L93.5 382.4L261.3 245.1L199.7 297.2L488.2 103.5L365.4 172L273.3 228.9L471.8 97L291.6 223.9L480.5 102.1L344.9 185.9L300 214L409.8 131.3L297.3 217.6L205.4 295.6L196.9 294.1L185.9 311.4L308.9 200.8L217.3 280.1L433.2 143L491.3 91.2L178.9 316.7L236.9 267.9L386.2 146.6L138 344.8L405.3 153.8L299.5 221.9L307.2 226.7L425.3 132.1L420.7 157.6L505 80L481.7 103.5L446.8 135.2L179.9 313.7L309.1 224L513.4 79L376.6 165.9L357.1 179L455.7 113.1L456.7 118.8L251.2 253.3L321.1 198.7L146.5 342.8L311.2 201.4L201.5 294.6L443.9 121.5L430.4 143.9L153.9 339.5L220.1 275.7L344.9 182.3L455.3 116L76.6 398.1L255.8 252.9L133 353.3L253.4 260.1L92.8 386.7L494 97.6L415.5 133.1L517.6 74.8L151.5 338.8L290.8 226.4L173.8 320L397.1 157.9L82.5 393L121 359.4L503.2 85.7L475.7 119.1L451 135.6L422.3 136.6L509 82.3L323.8 199.4L198.8 295.8L242.4 263.3L197.7 298L290.4 229.4L470.5 117L288.9 231.8L484.4 90.8L62.8 409.2L63.3 409.3L270.9 233.1L301.4 216L166 331.5L205.2 294.5L496.5 92.3L489.4 87.7L125.5 356.3L520.4 78.1L330.1 195L328.3 199.1L95 385.1L95.9 381.3L197 298.2L257.9 251.4L270.6 235.7L461.6 102.1L261.2 253.2L423.1 132.3L376.8 168.5L287.4 234.5L189.9 305.2L307.1 203.1L497.7 95.8L196.5 298.2L265.9 243.3L494.7 91.4L396.8 158.5L93.1 385L523.6 76.8L380.7 164.8L317.5 202.3L316.9 195.7L137.8 351.4L345.8 185.7L97.4 380.3L517.3 80.3L278.6 234.4L428 124.2L442.9 111L323.6 195.9L170.9 326.5L491.4 88.7L462.8 94.5L90.3 386.3L351.1 196.2L455.4 114.3L370.4 159.1L269.9 241.9L417.2 137.3L172.6 320.5L236.3 268.9L488.5 85L167.8 324.9L324.9 194.4L149 338.7L333 193.4L495.8 90.1L514.5 83.8L214.9 281.4L504.3 87.7L210.7 285.5L382.5 165.8L163.5 327.9L224.3 279.8L509.4 83.3L224.4 272.7L253.7 251.8L449 124.4L154.4 336.5L133 354.6L82.2 392L495.7 84.2L512.9 82.9L302.7 211.9L494.2 97L289.4 220.4L174.3 321.2L433.8 143.3L138.6 346.1L259.8 246.4L182.6 312.1L248.5 257.5L443.5 121.3L408.6 144.2L260.2 258L67 405.7L397.7 163.3L446.1 120.5L414.2 157.2L305.2 215.1L405.7 142.1L430.2 138.5L395.3 167.4L460.6 109.1L436 127.6L348.9 180.8L209.4 289.5L530.9 86.8L538.2 71.2L526 79.9L51.4 417.7L53.3 415.4L55.3 416.2L52.4 413.1L57.2 414.6" fill="none" stroke="none" marker-start="url(#mo)" marker-mid="url(#mo)" marker-end="url(#mo)"/>
<path d="M129.2 361L308.7 217.2L364.4 175.1L488.9 70.2L356.5 186.6L440.3 116.9L413.4 126.4L226.2 280.9L305.6 220.8L215.6 290L488.9 70.2L185 319.2L399.3 152.1L106.4 373.5L326.2 208.2L97.8 379.2L256.9 263.6L122.5 361.8L312.9 216.5L449.8 113.3L113 363.5L163 328.5L290.1 230.8L119.2 362.4L112.6 367.9L182.4 315.4L82 392.1L55.4 415.5L62.6 409.3L321 207.8L266.9 244L366.7 166.6L320.5 214.8L426.3 124.1L162.9 329.5L157.2 329.6L512.4 52.9L212.1 287.4L132 349.8L455.1 95.9L331.9 195.2L308.1 216.9L215.9 280L222.1 280.5L109.3 369.4L237.6 261.8L363.1 176.8L348.6 183.6L458.7 99L124.9 359.3L330.3 196.5L306.9 212.4L115 367.5L92.9 384.4L278.9 241.8L387.3 162.1L107.1 370.5L120.4 365.5L339 188.1L285.3 244.4L227.8 278.6L381 157.8L292 232.1L305.9 219.6L72.9 400.7L348.4 186L164.1 325.6L172.8 322.1L115.5 367L388 163.3L339 196.5L271.6 250.7L372.5 164.4L275.1 237.4L288.2 235L249.2 266.6L392.3 143L264.8 244.8L431.9 126.3L104.5 372.6L267.3 253.2L152.7 341.5L65.4 405.3L403 149L304.5 208.3L421.8 134.9L270.9 241.6L493.6 60L439.3 111.7L289.3 225.6L307.7 217L392.8 148.7L225.1 281.3L202 297.3L134.5 347.8L370.8 176.6L208.9 287.5L334.2 198.7L358.2 187.6L218.9 281.7L136 348.8L341.3 183.6L363.7 167.7L445 107.1L227.1 279L383.2 153.8L267.9 246.2L484.5 81.8L382.1 159.1L71.3 403.6L205.4 293L91.3 384.6L57.7 413.1L164.5 326L72.1 400.1L423.7 124.5L207.8 294.7L377.9 153.2L486.4 68.6L162.4 334L285.4 235.8L106.6 371.9L257.1 259.7L113.6 365.3L358.2 176.5L477.6 81.7L108.1 371.3L413.7 133.2L113.8 366.8L312.6 214.9L132 352.2L370.4 166.5L55.4 413.1L382 155.5L129.7 357L371.2 169.9L144.2 345.8L300.5 223.2L110.4 369.3L347.2 182L445.6 114.8L217.3 291.5L405.4 137.4L399.8 146.6L246.1 264.8L234.1 271.2L114.6 368L398.2 151.4L419.3 135.5L404.3 133.9L128.3 354.8L458.1 98.4L310.5 211.9L250 260.2L393.4 155.2L276.9 241.7L357.3 183.7L194.9 306.8L263.1 246.2L429.2 132.2L398.3 144.8L192.2 308L417.6 137.1L483.9 72.2L316.8 203.3L385.1 153.3L249.5 259.8L84.2 393.2L85.2 394.8L208.7 292.5L412.1 139.6L310.5 221.6L244.5 260.8L91.4 386.9L335.7 195.1L464.7 99.5L157.2 331.4L509.9 48.9L354.9 191.7L79.9 393.2L317.9 206.6L164.3 324.2L156.7 329.4L262 257.2L452.2 99.6L270.4 248.2L349.9 184.1L150 338.4L242.2 267.7L150.3 345.5L169.2 323.3L269.5 246.5L434.4 121.9L216.4 286.7L212.8 291.6L383.1 154.8L108.5 377L315.8 219.2L272.1 246.3L305.2 219.8L460.1 100.1L211.3 289L106.1 374L56.4 411.5L165.7 326.3L394 161.1L86.5 387.4L415.6 129.5L139.7 345.7L254.1 254.2L365.5 170.5L449.6 100.9L292 227.6L243.4 268.3L250.2 267.6L131.2 349.8L332.4 198.4L188.6 311.7L359.5 194.1L59.2 411L301.2 222L422 132.4L90.3 387.3L398.8 146.4L73.1 397.9L423.3 130L244.6 269.6L448.8 109.8L330.6 195.2L85.7 389.5L425.6 127.7L310.4 219.3L431.4 116.3L187.1 314.2L317.1 208L517.9 37.8L381.5 158.8L101.9 382.2L277.4 241.3L167.8 320.9L134.2 355.1L432.6 115.6L99.2 377L156.7 332.8L369.2 163.1L360.5 174.7L69.9 398.9L511.4 52.5L431.4 119.2L252.8 257.7L126.1 364.4L71.2 401.3L121 362.2L298.9 227.5L396.1 154.7L444.6 105.8L76.5 396.9L63.1 410.8L108.4 369.1L464.2 90.5L219.5 285.4L144.8 343.2L221.3 286.3L188.1 311.4L239.4 270.4L381.3 162.5L116.3 366.8L322.1 213.6L362.3 181.1L287.6 229.9L220.9 283.3L161.4 329.9L221.6 280.7L132.7 353.1L78.7 395.2L217.2 283.8L125.5 355.8L167 321.7L437.7 115.6L358.9 196.4L498.2 59.8L409.4 140.5L194.7 302L325.1 208.2L392.1 147.4L392.6 155.3L181.3 316L351.1 191.6L109.8 366.5L93.8 384.8L71 403.1L121 365.6L256.9 250.5L139.4 346.6L294.2 227.8L186.9 311.4L65.1 405.6L186.3 308.3L227.8 271.5L187.7 312.7L315.6 200.3L418.5 125.8L64.9 407L395.1 150.2L80.7 389.6L252.7 257.9L162.4 328.7L237.6 266L118.4 362.4L100.5 382.3L195.3 305.5L479.1 79.7L404.8 138L359.5 185.3L193.2 305.4L411.5 129.2L244.6 267.7L99.2 381.4L66.9 404.6L166.5 321.3L62 408.4L167.9 330.4L77.5 395.7L418.4 139.4L395.1 157.3L333 188L219.5 283.9L454.9 94.3L140.1 342.8L248.5 258.3L301.1 216.7L154.6 331.4L467.6 82L181.2 318.3L248.9 259.2L282.9 235.6L347.5 189.4L85.1 390.1L365.7 164.1L416.4 132.7L66.8 401.5L394.8 150L149.3 341.3L494.3 62.3L98.9 379.4L130.1 352.6L292.2 224.2L294.3 228.5L442.2 110.5L292.6 228.7L500.7 51.1L308.9 213.9L402.6 150.4L328.5 204L73.6 400.5L490.7 68.5L427.4 133.6L416 126.7L240.6 269L182.3 315.3L100.7 379.4L311.7 213.2L312.8 215.6L288.4 232.7L125.6 359.3L228.2 278.1L113.6 365.3L445.4 98.4L309.8 213.3L155.9 335.8L240.7 267.1L233.5 269.6L92.5 385.1L128.3 356.4L84.2 391.6L285.3 232.5L275.8 244.8L222 285.7L196.8 300.7L120.9 362.5L74 396.7L55.7 414L422.1 132.6L325.2 203.1L388.2 151.9L377.4 167.5L252.7 259.2L236.5 269.7L383 158.5L168 320.1L249.3 270.8L383.2 155.2L217.5 283.6L343 196L445.5 119.3L279.3 234.5L256.5 262.3L168.4 320.3L117.4 365.2L106.1 373.1L136.5 345.5L383.6 154.3L307.3 223.3L59.9 410.2L276.5 238L146 345.8L202.4 297.8L104.8 370.3L56.7 413.2L77.5 392.4L334 199L361.9 178.2L105.6 374.9L187.9 307L108 370.3L336.7 191.6L481.9 74.6L110.7 371.8L69.5 400.7L61.7 409.3L111.6 368L70 400.2L371.5 162.5L452.7 110.7L199.9 300.3L139.8 344L234.9 273.2L175.7 313.3L126.5 360.2L381.5 168L515.6 48.6L148.2 339.8L511.5 48.1L410.6 147.6L289.3 230.8L128.4 359.8L513.6 54.9L422.5 132.2L332.1 193.4L347.2 182.6L483.2 76.2L125.8 360.5L157.5 335.4L248.4 265.3L416.4 135.6L121.9 363.8L443.9 117.1L79.1 399.3L235.4 277.3L169.5 329.1L457 100.4L92.3 386.2L422.1 128L112.4 365.4L364.6 165.3L251.6 257.9L403.3 140.3L241 265L353.9 188.2L437 112.6L358.5 176.8L131.4 354.7L173.7 313.4L334.7 199.9L80.7 391.1L66.9 404.5L124.9 359.2L108.7 370.7L275.3 234.8L234.1 273.2L145.5 336.9L368.5 170.1L381.1 156.2L355.5 176.8L206.6 287.9L125 361.4L334 198.7L166.1 323.3L279.7 243.6L451 106.1L114.6 374.4L136.7 348.7L221.1 278.7L68.8 401.9L164.3 323.8L111.3 372.5L395.2 139.9L284.5 235.9L335.7 198L322.4 205.7L394.1 143.9L406.9 150.9L223.3 276.4L169.9 321.6L246.1 267.5L322.6 210.7L145.5 344.9L324.5 197.2L381.6 158.8L326.3 200.7L245.5 263.9L346.2 189.7L223.6 281.5L393.2 158.5L494.7 63.1L381.1 154.1L467.9 80.7L333.2 198.1L60.4 409.4L185.1 315.3L233.5 273.9L250.8 264.4L388.6 161.7L192.1 302.4L247.1 262.7L436.6 120.7L175.5 317.9L223.8 280.1L145.1 342.1L271.7 242.3L191.8 307.2L243.8 258.8L70.1 399.5L131.2 354.3L195.8 303.4L166.4 320.9L264.3 248.5L250.3 259.2L318 208.8L341.2 183L334 192.6L198.5 298.8L361.5 176.2L299.2 220.1L436.5 123.1L412.8 131.5L284.4 243.9L298.1 228.2L72.1 403.1L183 307.2L381.7 169.4L88.1 390.8L86.1 390.3L313.1 214.5L358.5 182.4L477 88.1L301.3 225.6L427.8 121.7L114.6 368.1L304.2 223.2L273.8 236.1L351 190.9L122.7 363.4L427.9 128.7L494.1 59.7L93 383.6L300.5 225.3L359.9 173.1L275.1 243.7L169.4 317.2L196 305.8L280.8 238L107.1 367.6L108.9 369.4L444 104.9L242.4 269L381.3 162.3L77.5 393.9L170.2 320.6L281.9 237.3L117.9 365.6L309.4 210.8L429.2 127.8L74.5 398.1L117.8 365.3L79.3 393L399.6 153.1L240.5 267L404.2 150L80.5 394.2L59.4 412.3L375 166L362.2 180.8L266.9 248.7L109.9 371.6L430.8 113.8L170.9 318.5L86.8 386.5L178.8 314.2L202.4 296L339 192L251.6 255.6L318.7 212.4L463.2 97.2L237.4 269.6L503.2 56.4L150.3 344L123.2 358.3L446.9 107.1L435.9 115.7L196.2 295.6L74.7 399.4L427.4 132.3L362.5 178.5L291 226.9L458.5 96.7L81 392.3L243 266.5L123.7 358.2L117.7 367.9L72.9 402.5L447.5 108.2L244.1 268.6L278 244.3L176.1 315L349 178.3L77.7 392.8L173.7 328.6L274.4 248.2L201.3 301L110.2 368.8L97 380.7L413.5 132.8L436.6 107.3L225.8 282.6L397.6 152.7L107.7 374.1L372.5 160.3L133.6 353.4L395.6 149.3L353.9 189.4L378.9 169.4L197.1 302.7L448.9 105.7L371.6 165.6L188 311.6L423.6 128.8L456.5 103.5L462.9 81.9L228.1 278.4L388.5 157.8L158.7 328L144.1 343.9L150.8 345.6L164 329.9L355.4 178.8L206.6 293.3L83 392.5L259.9 251.4L372 163.5L254.5 259.5L116.3 365.1L176.6 315.5L102 379.3L396.4 148.9L315.7 207.2L467.9 92.9L304.6 223.6L219 285.5L335.4 209.2L90.8 386.1L267.7 246.6L312.3 212L70.8 402.4L86.8 385.8L442.3 112.6L517.4 44.8L335.3 199.2L387.4 152.2L423.6 120.5L306.7 216.7L79.5 396.1L257.6 261.5L134.1 354.6L201.9 299.4L172.5 315.9L401.1 144.5L396.7 147.3L230.6 276.4L235.7 272.8L322.5 201.4L107.3 374.2L263.9 247.6L279 246.4L174.7 324L440.7 109.3L56.8 412.5L366 168.8L454.2 93.1L314.1 212.4L179.7 316.8L215.5 292.1L516.2 39.4L85.8 389.3L109.5 372.9L97.8 381.7L410.2 142.1L281.1 243.8L145.2 344.5L325 194.9L200.4 297.7L130.8 350L226.2 284.6L235.5 271.5L187.4 315.7L345.2 182.5L446.8 106.9L387.2 154.2L105.6 376.7L63.9 407.5L490.8 74.8L210.7 292.4L303.7 220.8L466.5 84.1L254.7 250.6L84.5 391.3L156.2 333.8L313.8 208.8L340.1 193.6L145.9 340.7L151.1 334.6L367.3 174.9L289.5 236.9L223.2 289.4L244.3 265.2L481.1 79.6L433.5 109.3L386.2 161.3L332.8 208.8L248.8 263.4L427.7 112L106.6 375.9L218 282.7L367.3 173.5L387.8 154.2L386.5 161.2L235.5 269.1L320.4 209.7L510.9 50.7L439.8 115.8L403.7 142.1L155 332L57.5 412.7L482.6 69.7L463.9 87.9L275 245.1L188.8 305L122.3 361.7L238.7 265L394.4 159.5L283.2 243L175.5 312.5L392.2 154.4L317.8 211.8L326.9 209L433.6 111.7L338.3 193.8L150.2 337.6L334.4 202.4L407.5 142.7L407.7 147.3L148 345.6L397.1 154.3L350.7 179.7L312.8 216.3L106.8 373.8L67 401.5L169.9 319.2L472.9 78L214 286.6L179.4 310.5L354.6 178.6L343.3 187.1L307.5 220.4L191.6 302.2L508.5 52L339.8 189.6L190 305.6L252.4 258.9L319.8 216.5L175.4 319.2L189.9 302L380 182L367.3 179.1L184.2 315.5L128.3 360.7L193.8 313.1L415.1 136.9L306.1 216.4L223.2 275.5L404 133.2L375.1 162.9L230.8 281.2L244.7 263.2L111.9 367.2L265.6 248.4L257.6 253.2L300.6 223.6L432.4 106.4L250.1 260.2L449.1 111.4L390.4 154.5L285.3 226.8L428.4 130.5L372.9 171.7L84.5 391.6L212.5 291.2L355.4 168.4L307.9 212.6L420.3 135.8L244.5 271L203.1 297.2L440.2 112.3L88.1 389.2L268.6 243.2L375.1 163.9L503.8 56.7L258.6 251.1L410.6 133.6L486.5 67.6L141.8 347.9L269.9 243.7L414 130.1L361.5 171.4L153.7 335.2L412.5 131.6L173.6 322.1L357.8 175.4L429.6 128.9L96.3 381.7L483.3 78.6L327.5 205.6L203.4 294.1L333.7 188.5L146.9 339.9L326 202.5L412.9 141L179 316.7L297 223.3L316.8 216.8L114.6 366.2L145 346.6L361.8 173.8L203.5 294.7L218.4 280.3L306.8 219.1L396.3 147.7L229.8 276.2L88.6 384.9L81.8 393.2L204 297.5L164.7 330.4L99.8 376.9L103.2 375.1L195.6 302.5L381.3 163.9L128.5 356.4L493.8 62.5L377.6 168.6L214.6 289.7L327 200L337 198.6L348.8 174.7L432.7 128.1L349.4 181.7L334.8 202.1L478.3 81.5L246.6 257.3L126 350.6L109.6 374.7L358.3 176.2L286.8 218.3L233.9 273.1L267.2 246L339.7 197.9L261 253.3L97.4 379.2L374.8 173.2L207.2 295.2L233.8 269L201.4 295.1L456.3 114L334.8 192.3L98.3 382.8L238.7 270.1L317.4 213.3L113.8 367.1L132.4 354.8L147.8 336L217.8 289.3L66.8 405.5L153.5 334.7L96.7 381.8L121.2 359.3L106.8 372.8L267.7 241.4L232.2 278.9L350.9 181.4L137.8 346.8L82.2 389.1L322.4 198.5L325.4 208.3L235 275L287.6 240.2L280 237.7L374.3 166.3L57.3 410.9L358.1 185.7L333.7 202L252.2 257L215.4 286.6L267.1 237.9L164.1 323.9L453 103L262.2 259.6L375.8 167.7L328.8 204.5L131.4 353.4L192.9 305.8L114.5 366.2L400.4 140.3L329.4 203.8L482.7 76.1L186.4 309.8L144.2 344L399.6 139.7L340.4 191.6L402.6 140.2L244.1 270.8L283.9 237.4L160.9 333L197.1 304.7L155.2 329.8L342.3 196.4L58.2 409L377.1 157L488.7 76.7L452.2 112.5L213.8 292.3L390.7 146.2L366.5 176.4L421.9 123.7L72.7 398.7L308.4 214.5L435.5 107.3L312.9 209.4L152.6 336.9L272.9 245.5L223.8 284L231.5 275L153.1 326.9L186.8 316.8L441.6 116.5L360.8 167.3L435.1 120.4L409.5 133.4L398.5 145.1L172.7 313.5L203.2 300.5L250.5 263.1L374.7 168.2L357.4 182.6L435 117.5L134.6 351.9L331.5 199.3L237 266.3L311.9 210L169.3 320.5L310.9 215.1L431.4 115.8L164.9 329.1L73.5 398.5L166.4 325.4L278.2 242L253.3 267L255.9 263.5L109.7 374L186.4 309L498.6 59.6L383.9 150.3L357.3 176.2L262.6 253.6L388.4 157.5L302.4 216.9L258.5 257.6L352 188.9L294.5 223.7L307.6 219.2L170.5 323.2L179.1 316.4L269.1 243.2L436.5 122.4L176.1 319.3L468.1 85.7L298.5 220.5L227.4 277.6L77.1 395.4L82.1 390.8L231.2 278.1L157.3 334.7L105 374.8L133.5 350.9L303.5 229L456.1 92.9L449.3 102.5L264.4 240.5L215.1 285.9L421.8 122.4L128.7 355.2L213.1 284.2L92.9 383.1L268.6 249.2L253.5 257.8L208.9 291.7L240.1 266.3L131.1 351.1L360.4 172.9L338.3 202.3L441.7 115.3L160.3 326.6L154.8 330.4L305.1 220.9L188.2 301.7L514.3 47.7L384.6 151.2L165.8 324.4L149.4 339.7L66.9 405.1L278.2 234.5L245.5 265.3L181.8 314.8L266.4 247.8L117.1 364.9L334.8 197L119.2 364L332.7 191.5L436.5 110.4L422.8 122.8L135.4 351.8L451.7 109.2L387.6 159.3L291.5 225.9L282.4 233.1L274.5 238.2L353.4 184.1L264 248.7L131.1 351L206.8 300.1L141.4 348.3L282.4 240.8L457.1 96.9L161.8 330.6L183.4 316.3L55.2 414.1L307.2 219.7L96.2 379.7L55.5 413.7L133.4 351.4L86.3 387.3L140.7 344.7L161.8 330.3L434.8 108.4L362.7 174L396.4 150.8L410.1 144.2L228 281.7L276.2 241.6L308.4 215.4L441.1 107.6L325.1 204.6L277.2 239.2L258 263.7L375.5 163.4L437.3 119.8L290.9 239.5L185.6 309.7L149.6 334.4L148.8 339.7L206.4 297.8L380.8 173.1L314.7 212.6L57 410.8L410.3 144L76.4 396.8L343.9 191.7L124.4 362.6L300.9 224.1L462.1 93.5L418 128.2L177.9 317.4L141.6 346.2L287.1 226.5L319.4 208.2L66.8 403.7L57.8 411.6L436.2 117.3L334.4 196L424.6 124.7L147.2 343.9L297.4 228.7L371.2 176.2L316.5 207.3L279.2 238.5L197.8 301.1L272.2 247.9L194.9 305.2L383 158.4L242.1 263.4L314.7 213.7L149.6 341.5L186.2 309.5L148 343.7L281.6 237.5L302.6 229.5L299.9 214.7L315.7 214.1L194.1 307.9L251.1 253.9L294.1 222.9L320.3 199.6L250.7 258.5L96.7 382.3L109.5 370.8L273.2 245.4L437.2 106.3L156.7 334.1L415.9 128.7L307.8 208.2L138.4 349.4L126.5 359.2L363 179.7L281 241.4L324.7 203.5L438.3 120.2L75.2 398.6L349.1 183.7L224.1 281.8L306.8 218.6L270 244.5L69.7 400.3L187.2 314L449.4 102.6L304.3 217.4L337.8 195.5L96.4 381.6L355.2 188.4L296.2 227.9L394.2 145.8L77.1 394.7L437.8 125.3L95.1 380.7L170.3 322.9L318.1 197.7L84.5 389.9L133.8 354.3L476.8 77.8L161.8 326.5L324.6 197.3L437.7 113.9L346.8 186.7L67.7 404.1L176.9 315.3L85 389.7L360.8 182.2L66.2 405.6L344.7 195.6L406.2 139.7L86.9 385.6L262.5 250.2L149.5 342.3L285.4 233.9L326.1 196.5L439.1 114.1L318.8 204.3L75 397L293.3 229.2L81.1 394.8L356 177L434.8 128.3L192.9 309.2L297.5 225.4L183 317.9L236.7 268.4L388.2 155.8L235 274.7L311.3 200.6L279.5 230.7L369.4 168.9L299.8 221.1L351.5 182.9L444.8 109.6L254.3 252L312 211.5L472.8 78L343.2 192.4L382.2 162.8L264.8 253.5L255.7 254.3L306 216.9L351.3 174.6L207.4 303.2L392.2 151.8L218.6 284.2L410 141.9L261.6 250.1L153 341.5L79.3 393.4L361.5 164.2L173.9 315.5L455.2 115.7L126.5 358.5L400.9 138.1L195.2 301.4L147 344.3L222.3 276.8L217.6 290.3L202.5 296.6L464.8 96.9L283.8 235.1L68.8 402.3L289.5 224.2L262.7 241.1L140.5 346.9L236.7 264.3L66.4 404.8L198.8 295.4L324.3 198.4L189.7 303.3L287 230.1L435.3 113L407.3 145.2L100.2 377.1L344.1 190.2L157.5 333.9L166.8 325.7L129.7 354.8L173.4 315.8L142 340.6L240.4 270.1L450.8 103.6L140.4 347.8L54.5 413.9L345.5 191L143.7 344.4L308.3 218.7L361.9 179.6L175.2 321.9L475.1 80.6L130.9 352.4L195.6 297.5L161 325.1L350.3 184.3L439 111L382.4 165.6L280 233.3L338.5 191.3L357.8 174.2L368.8 170.5L422.1 129.9L152.4 342.2L336.2 197.3L75.9 397.2L414.7 142.1L149.8 343.2L182.5 318.5L280 244.9L263.9 244.7L147.3 342.8L201.9 297.3L68.7 401.4L229.2 276.1L299.1 223.3L196.7 304.1L322.7 204.4L140.4 348.1L186.5 307.7L80.6 395.3L229.4 267.9L59.2 411.7L130.6 350.4L122 362.7L274.2 245.2L273.7 244.9L276.7 243.4L217.8 288.8L436.3 121.6L218 286.9L71.8 399.3L142 342.5L482.9 82.9L447.4 110.1L301 224.3L174.3 324.3L462.5 97.1L219.5 277.8L146.5 344.4L252.1 257.9L105.8 371.9L153.2 336.6L105.6 377.5L264.5 251.1L225.6 282.1L436.8 121.3L306.4 215.2L410.2 137.3L130.9 360L490.5 70.8L350.5 185.6L121.1 362.8L337.9 196.7L143.9 347.4L246.8 259L126.6 359.6L339.9 197L107.1 374L475.1 96L107 369.3L444.9 112.7L198.2 295.6L505.3 52.4L338 191.5L240.2 261.3L179.1 311.5L85.6 391.5L257.9 255L164.2 330.5L266.9 242.5L384 153.6L202.5 297.3L121.6 361.1L192.1 303.6L221.8 280.2L69.1 401.9L298.2 221.7L420.2 123.4L261.3 249.1L294.9 227L69.1 403.8L253.5 257.2L346.6 189.9L439.1 116L310.6 217.7L112.3 368.5L212.5 290L394.7 150.1L121.6 365.3L428.7 121.9L222.9 287.1L92.3 387.7L346.5 196L267.9 244.8L282.9 244.8L97 383.7L232.8 274.7L148.1 340.4L454 94.3L106.7 374.8L354.7 185.8L127.9 355.1L335.3 195.8L449.3 98.4L414.2 134.6L138 351.1L200.4 309.7L378.2 160L375.9 157.2L362 175.6L72.3 398.3L382 157.1L96.6 385.2L325.7 202.6L68.4 403.8L351.6 187.4L380 169.3L414.6 129.3L214.4 281.4L58.5 410.6L180.2 311.1L70 399.9L55.6 413.4L405.7 149L362 175.6L211.2 292.8L86.2 390.9L186 307.3L462.2 92.7L158.6 336.1L362.7 167.3L355.6 173L487.5 71.3L364.4 179.3L94 385.5L94.9 381.7L415.1 136.8L87.5 390.4L108.4 368.8L83.5 389.4L111.5 371.1L331.2 194L404.3 141.8L366.2 182.5L463.8 83.9L343.3 194.7L70.1 402L456.9 103.4L146.7 343.4L443.5 103.5L129.5 352L345.4 189.6L399 146.2L319.4 206.5L187 312L73.2 399.2L293.6 233.4L205.7 294.9L234.5 266.7L324.9 202.7L449.2 111.9L76.6 395.4L360.4 171.9L368.8 173L169.1 322.9L283.5 232.6L258.1 255.5L398.2 145.6L378.2 158.4L235.8 266.9L68.1 403.6L134.7 353.1L361.1 184.3L120.8 360.8L62.8 408.4L290.3 230.9L429.7 122.3L436.1 129.2L496.6 59.2L70 407.5L195 302.3L178.3 320.4L439.1 115.9L211.8 289L63.3 407.8L213.5 288.3L404 144.2L493.2 65.4L196 295.4L317.6 201.9L432.5 117.2L79.6 394L321.4 202.4L260.7 248.4L293.5 227.2L276.9 230.2L267.1 248.6L198.1 301.6L302.3 226.7L357 182.3L145.6 345.8L202.3 303.9L105.2 373.8L446.4 115.4L70.9 401.2L199.4 292.3L268.3 248.5L166.5 329.5L261.8 248.7L165.5 323.2L61 408.8L492.1 70.8L102.5 376.6L361.5 173.2L97.3 380.6L85.7 385.2L155.7 337.8L227.7 283.7L92.7 380.9L155.1 333.3L101.1 377.1L446.3 115.1L333 197.2L75.6 396.7L116.8 364.1L334.8 195L260.9 252.4L205 294.2L100.2 379.7L85.7 388.8L313.8 215.2L318.6 212.2L470.3 82.9L396 150.8L241.2 262.7L486.6 72.6L437.5 116.1L103.4 373.2L121.8 362.7L95.7 382.1L209 288.2L159.8 322.3L438.4 117L517.3 39L521.2 43.4L511.4 49.2L504.1 53L219.3 267.2L190.1 294.1" fill="none" stroke="none" marker-start="url(#mg)" marker-mid="url(#mg)" marker-end="url(#mg)"/>
<path d="M430.3 113.9L112.2 367.9L290.8 234.2L440.1 101.7L415.7 133.5L417 128.9L93.2 386.2L86.8 390.7L336.5 189.2L323.4 200.8L370.2 164.3L176.2 312L243.1 266.5L97.9 377.5L415.7 114.1L75.5 396.6L186.9 302L293.5 223.1L390 145L361.3 181L105.3 376.5L85.2 389.3L369.2 178.8L365.4 182L378.1 154.5L288.4 229.6L279 238.8L269.9 239.1L82.2 391.9L221.4 280.3L412.2 129.5L170.8 326L226.6 277.7L320.8 205.3L272.4 242.4L215.2 285L378.8 155L122.7 363.5L163.2 334.3L131.9 348.8L183.8 314.4L224.8 285.1L186.1 314.6L327.2 199.4L94.5 376.6L75.5 398.6L217 280.4L147.8 336.7L382.6 150.4L429 116.3L312.2 210L181.4 313.8L332.4 216.2L98.9 380.8L324.8 208.4L89.6 389.9L103.8 376.6L434.4 107.7L376.8 162.9L106.5 373.5L328.9 199L287 233L303.5 218.8L282.6 231.7L263.8 246.8L358.2 179.3L273.6 234.8L443.1 108.7L339.8 195.3L403.9 133.1L147.8 338.6L206.1 297.8L144.2 343.2L166.5 324.8L177 314L410.6 133.8L98.4 376.7L85.5 393.4L142.7 345L63.8 409.6L285.3 226.4L356.6 187.8L215.5 291.8L277.1 239L302.5 216.6L57.2 412.4L416.8 129.6L263.5 243.9L95.8 383L136 352.5L235.5 267.2L69.5 399.9L57 414.4L205 296.7L106.6 371.5L231.3 270.9L161.2 331.9L408 132.5L275.5 249.8L204.8 290.8L129.1 351.7L77.4 398.8L449.5 100.3L148.1 343.3L216.5 288.1L116 362.1L327.5 199.4L317.6 216.8L334.2 200.9L155.6 339.7L340.9 189.8L266.4 246.3L84 388.5L198.9 295.7L232.3 272.1L187.2 307.2L295.6 225.2L260.1 256.6L207.5 290.5L132.4 354.7L423.2 119.6L230.9 275.7L127.6 355.3L81.9 392.6L421.2 126.3L271.7 236.9L185.7 311.6L292.8 231.5L297.1 227.9L317.8 203.7L339.5 193.7L401.9 125.8L145.1 343L323.6 205.6L283.7 223.1L175 323.7L339.8 190.7L177.5 313.8L218 280.4L141.4 345.1L180.2 313.4L148.7 335.8L274.1 234.4L300.7 231.4L70.5 404.1L84.8 388.9L147.9 337.9L295.9 227.4L218.6 283L341.4 193.7L112.5 365.2L421.2 122.7L224.5 276.3L176.7 317L331.7 206.3L231 276.6L405.8 144.2L401.8 132L339.7 187.4L364.1 173.9L176.9 315.1L187.8 309.6L460.6 99.5L120.6 359.2L162.6 333.3L168 320.2L125.3 358.1L186.3 311.6L141.4 345.2L135.6 345.6L133.9 353.5L413.2 138.9L259.4 248.7L142.3 344L320.5 205.6L399.8 145.1L233.7 277.1L422.5 119.7L231.8 272.3L348 185.3L105.3 372.6L202.5 291.4L244.9 267.2L337.9 196.3L320.6 209L139.8 349.2L69 402.2L227 276.9L91.8 384.4L112.6 368.4L333.4 190.4L120.7 362.6L460.5 88.5L160.8 325.9L224.3 284.2L58.3 410.1L139 361.1L370.4 167.1L512.2 47.5L82.3 395.2L399.7 134.8L110.1 371.7L93.4 388.5L232.9 274.8L174.7 320.4L74.6 400.4L295.6 214.3L300.7 222.5L63.6 411.3L72 400.7L235.5 272L275.6 247.4L207.8 288L339.8 195.2L266.2 251.2L438.2 111.5L341.3 185.8L363.8 161.5L166.1 326.7L113.7 366L216.7 283.7L369.5 170.8L362.4 175.7L234.2 276.8L130.3 358.3L275.2 243.8L410.3 125.4L60 410.7L233 271.2L251.9 268.6L200.5 299.7L294.2 225.7L58.6 414.8L319.5 204.6L64.7 405.1L416.7 129.9L393.9 147.1L396.4 137.8L203.5 297.5L175.3 319L127 360.8L265.5 247.5L67.8 400.5L421.1 123.8L325 192.5L140.7 348.4L415.1 125.3L117.1 363.3L383.1 147.6L215.8 288.2L79.2 394.4L61.1 410.6L145 339.8L236.5 268.1L101.1 376.1L177.8 306.4L425.4 123.3L405.4 134.5L150.5 333.9L517.1 46.1L265.7 248.8L79.4 395.5L478.5 76.3L378.1 168.6L130.1 351.8L256.3 251.4L243.9 256.9L362.2 167.1L71.5 402.3L308.1 216.7L433.4 104.7L127.6 356.5L195.1 300.1L56.6 413L327.6 203.1L360.8 169.7L157.2 326.7L101.8 377.8L227.6 279.2L92.6 383.1L444.3 97.9L118.3 365.5L143.2 344.9L406.6 143.7L313.2 206.6L116 361.2L130.4 351.5L258.8 254.4L271.7 244.2L319 208.2L393.3 159.7L354 182.6L319.7 209.5L380.5 162.2L428 113.7L168.4 324.9L269.3 247.2L253.9 259.1L431.8 118.1L186.3 311.5L75.4 398.3L187.3 307.7L109.8 370.4L199.9 301.6L341 190.6L313.6 209.1L366.8 174.3L292.8 227.4L367.5 167.1L322.5 202.7L367.3 175.6L343.1 191.7L155.2 332.6L183.2 313.8L129.6 353L88.4 385.8L95.5 377.6L361.9 175.7L125.4 357.2L191.2 302.8L380.2 165L293.8 221.8L449.6 92.2L274 237.2L146.5 344.8L64.2 408.3L111.1 365.8L98.2 379.4L195.4 298.6L279.8 237.9L217.5 285.6L373.5 167.4L235.8 278.4L178.6 317.9L206.3 295.3L225.9 289.8L326.8 213.7L101.8 377.2L273.9 236.7L165 329.1L218.3 287.7L182 300.5L282.2 237.4L291.8 218.4L385.6 155.7L286.4 238.1L172.2 317.1L260.6 254.9L388.2 152.3L321 210.4L153.5 334L310 218.6L55.6 416.4L258.9 240.5L331.5 196.6L63.3 407.7L426.9 109.3L154.3 330L361.7 191.5L63 406.9L114.2 362.9L89.3 387.3L450.3 100.5L289.7 221.1L276.8 238.2L376.2 157.9L201.6 303.6L279.4 240.9L202.5 297L299.6 216.9L91.1 384.2L314.4 207.8L114.9 372L170 323.1L254.9 251.9L389.9 160.3L220.2 284.7L214 284.4L72.9 400.7L138.2 343.4L365.4 169.6L414.8 126.4L243.2 266L489.1 60.5L158.2 337.9L400.5 146.8L62.5 408.4L329.1 198.6L126.1 356.6L429.7 109.9L226.7 286.6L332.5 176.6L260.7 250.8L327 198.3L307.5 216.5L451.4 102.3L451.1 80.2L271.5 239.2L290.6 231.4L368.4 172.9L113.1 362.8L419.8 122.8L312.3 213.4L287.9 230.3L314.2 214.3L258.9 250.7L233.7 269.3L316.2 205L285 230.7L389.4 152.6L64.1 405.5L202.4 293.7L210.5 284.2L286.1 234.7L249.8 264.4L316.6 213.7L305.3 220.4L130.3 356.1L304.9 219.1L58.5 414L268.7 243.1L277.8 237.6L402.4 139.4L383.9 151L475.7 69.9L324.8 204.4L147.6 343.4L338.4 194.1L249.3 261.7L157.9 326.1L220.6 284.7L402.3 142.4L151.3 337.2L439.7 94.5L468.7 74.3L127 359.9L165.6 334.1L219.7 287.2L160.6 329.9L181.5 314.1L186.2 309.5L470.5 85.1L388.8 153.9L162.8 336.1L413.6 132.3L57.5 410.3L326.5 197.5L134.7 352.7L418.8 126.3L341.1 188.9L208 282.7L310.8 206L313.5 219.7L364.9 173.7L129.3 354.7L109.4 369.7L437 110.9L317.1 213.2L355.2 193.7L379.3 151.9L246.1 261L473.9 72.4L344.9 191.1L238.9 262.6L295.2 234.6L387.5 144.2L129.3 354.7L114.7 361.3L327.1 200.1L155.3 339.9L467.8 77.4L222.2 279L68 405.4L260.9 233.9L279.3 236.1L358 173.5L337.3 192.8L229.2 275.3L355.1 171L234 271.9L398.9 139.2L161 328L420 117.2L435.5 107.1L215.9 287.1L228.1 276.4L224.3 281L435.8 109.7L147.2 341.5L281 231.5L299.8 217.1L406.9 130.7L160 328.7L229.2 281.1L326.6 200.6L234.2 278.4L238 265.7L291.1 237.3L398.2 140.9L261.7 252.7L385 149L187.5 310.9L401.1 129.4L432.9 108.4L292.6 229.5L399.3 152L296.9 219.9L161.9 328.9L325.8 199.5L420 127.4L375.4 161.5L133 349.7L377.8 152.8L335.3 206.5L363.8 183.5L191.6 299.6L299.4 225.5L79.4 396.7L199.7 300.8L179.4 316.1L184.3 308.2L194 308.9L158.7 333.5L267.9 243.5L142.4 349.6L422.1 117.2L347.2 183.8L154.4 339L409.9 141.8L129.1 351.4L412 142.6L137 353.4L403.3 130.6L145.8 340.1L230.1 282.1L250.6 257.5L290 235.8L242.7 271.5L294 236.1L268.2 245L437.5 115.8L356.7 186.9L304.9 219L457.4 92.8L76.5 399.8L92.3 386.3L388.1 157.6L242.8 263.9L355.5 169.6L387.3 152.5L195.3 299.3L112.7 372.9L260.1 253.3L408.6 127.1L483.3 70.3L109.2 373L97.8 383.4L330.8 216.3L255.8 252.8L325.4 201.7L274.5 247.4L189.1 306.3L283.1 238.9L329.1 195.3L249.1 257.1L363.3 177.8L110.7 366.7L344.1 185.6L306.6 210.2L196.9 299.6L416.1 139L272.9 244.8L318.7 201.4L264.8 251L477.3 74.5L56.3 413.4L208.6 290.1L349.9 181L509.4 47.2L141.8 346.9L75.1 401L320.6 212.1L265.7 253.4L109.4 369.8L147.6 337.3L117.5 364.4L208.3 290.9L285.6 231.3L370.9 169.1L296.2 230.6L108 373.3L159.2 318.9L278 244.3L264.1 246.1L348.1 187.6L120.5 362.9L168.3 325L296.7 223.5L58 409.8L285.5 235.6L55.7 416.5L263.3 245L290.3 224L77.8 400.3L155.2 334.9L164.6 326L131.5 352.7L56.5 414.5L393.4 159.7L237.6 263.4L243 264.6L267.9 241.6L266.6 234.6L86.5 388.8L229.3 278.2L429.6 110.6L236.1 270.6L407.3 140.8L91.3 386.6L356.7 185.3L192.2 305.3L204.4 294.4L341.4 185.5L292.5 228.7L397.2 144.4L351.7 193.1L309.3 205.4L58.2 412.6L270.3 240.1L107.2 375.1L272.2 246.5L68.5 404.5L224.8 281.6L64.6 407.3L222.9 283.1L87.9 393.8L344.3 193.7L79.4 392.2L58.5 412.8L279 232.3L270.8 240.4L245.6 265.9L430.9 109.6L240.8 262.4L266.8 247.1L342.5 197.6L454 92.5L136.6 349.9L301 214L175.8 326.8L511.3 49.7L360.4 190.3L342.7 211.6L337.9 194.3L207.8 289.3L343.2 201.8L206.6 297.7L69.1 403L355.3 176.7L177 317.7L261 247.3L338.9 190.2L405.6 140L68.5 404.4L299 226.9L207.4 297.4L239.4 272.7L437.1 109.3L358.8 172.1L187.6 310.1L140.4 346.3L374.5 156.1L422.1 126.9L316.1 214.3L179.1 309.8L85 393.8L343.7 196.6L163.9 328.4L138.5 348.9L366.6 167.4L206 290.2L131.8 350.9L62.1 409.6L55.7 414.7L180.8 317.1L139.7 351.9L58.3 407.7L357.8 184L179 317.7L228.3 277.1L55.7 413.7L220 283.6L223.5 281.6L159.3 333.4L295.4 227.2L107.6 377.9L144.9 345.9L364.2 188.8L120.7 361.4L428.7 122L259.4 255.2L303.7 211.3L384.3 158.5L189.6 307.3L126.2 365.3L346.4 179.1L330.9 198.2L154.7 336.9L326.4 205.1L101.1 381L367.8 162L257.7 243.4L194 307.3L288.3 232.2L231.1 277.1L361 167.2L84.4 394.6L140.1 344L306.2 212.3L238.8 269.9L391 153.9L200.2 291.9L135.4 352.1L457.5 92.5L156.1 335.6L131.9 353.1L116.4 364.3L111.3 369.8L75 397.8L281 246.3L142.6 341L151.2 338.6L312.6 213.7L201 298.3L342.4 192.2L168.2 321.5L302.6 220.6L391.7 151.5L358.8 188.1L321.6 212.3L222.5 277.1L318.1 210.2L124.6 360.9L185.3 309.9L97.3 384.7L387.6 143.4L199 301.3L344.5 182.1L106 374.8L274.4 242L83.7 391.6L185.6 310.1L399.5 151.4L301 225.7L102.6 375.8L385.4 165L78.9 394.8L341.5 194.6L263.5 250.3L368.2 164.5L331.8 195.4L173 320L189.1 301.5L265.8 250.6L109.6 372L159.9 330L185.5 307.8L55.7 416.6L77.8 395.9L266.6 243.1L202.4 295.5L429.8 104.3L180.5 312.6L266.3 245.1L358.5 181L415.7 127.4L366.2 181.4L237.7 277.8L239.5 263.3L290.1 221.1L432 109L351 182.5L396.7 151.9L424.9 116.6L127.9 358.5L103.4 378.1L233.2 274L56.7 413.5L109.8 367.2L208.1 290.7L314 209.8L211.1 295.2L355.5 187.2L183 315.3L373.9 171.9L251.4 258.3L305.1 224.1L294.2 216.6L84.5 388.6L59.8 412L375.7 161.9L92.4 383.8L178.5 317.1L122.7 358.8L112.1 369.4L170.8 318.2L364.9 170.2L124.7 363L317.5 210.5L106.9 374.9L212 293.3L106.3 373L461.9 83.7L137.5 347.1L67.4 401.7L219.2 278.8L355.2 184.2L173.2 319L380.4 162.4L182.5 302.2L198.6 294.1L187.9 306.9L72.1 397.4L168.6 323.1L147.6 343.2L138.9 352.6L411.3 138.1L352 182.8L99.4 375.4L271.3 244.6L312 222.7L354.9 179L228.5 276.6L183 313L352.8 178L492.1 61.2L211.9 293.7L109.3 373.8L81.1 395.1L358.1 176.5L253.1 258.1L219.9 285.8L236.1 265.7L300.5 224.3L242.6 267.9L243.8 265.5L70.9 402.7L336.7 196.6L316.5 201.3L337.2 176.4L313.8 210.9L189.7 312.6L275.2 240.7L321 208.2L337.6 199.5L85.3 388.1L115.4 367.5L267.9 246L232.4 273.8L372.3 172.6L107 373.7L272.2 249.3L220.4 279.7L272.7 252.7L425.2 124.2L407.3 142.8L299.9 223.5L432.7 109.3L480.4 66.8L180.4 313.2L396.7 146.3L144.4 343L272.5 239.2L235.4 268.6L289.6 227.4L280.3 232.5L314.6 208.4L197.4 295.5L242.5 257.8L281 241.4L86.7 388.8L376.9 167.4L149.3 343.2L237.4 269.6L61.6 412.4L292.2 228.2L197.9 300.9L285.8 237.3L320.7 204.7L147.8 331L320.4 212.9L162.1 329.9L452.1 92.6L213.4 291.6L313.9 213.2L61.4 410.5L197.4 299.8L89.9 388.6L363.8 174.3L398 142.8L290 226.5L396 140.1L285.4 233.8L143.6 344.9L305.5 212.7L216 280.4L141 341.9L199 294.7L89.5 387.6L107.3 374L308.2 215L377.2 173.3L418.8 127.6L356.2 182.6L291 222.3L368.5 164.3L382.1 161.1L399.1 145.9L491.3 61.9L427.4 111.5L350 180.3L354.9 185L289 231.5L402.6 144.3L434.2 102.2L94.6 387.7L346.9 183.4L118.3 362.1L415 124.2L324.5 210.5L318.5 205.5L166.4 326.5L292.2 223.9L363.6 164.7L224.3 271.5L86 390.1L310.6 213.7L173.1 321.9L116.8 368.7L327.4 200.2L153 329.6L423.1 125.1L97.1 380.9L319.1 220L246 261.6L296.1 222.5L110.6 372.2L142.7 348.9L354.5 186.5L316.5 207.7L430.2 108.3L66.3 405.7L285 231.1L146.6 341.2L389.5 167.3L107.7 370.6L233.3 270.9L329 202.9L397.1 144.3L320.1 199.5L333.1 199.9L416 127.9L152.9 337L161 332.1L214.1 282.6L213.4 286.9L410 131.6L482.5 76.8L409.6 130.7L415.3 134.8L285.4 236.1L270 248.5L198.6 298.8L339.1 197.4L354.1 179L155.3 333.4L335.7 193.4L147.1 342.6L397.7 156.2L393.8 151.2L62.8 409.8L154.6 334.9L61.7 409.7L159 329.1L233.8 271.1L115.2 365.4L190.4 305L334.3 199.5L452.1 91.1L287.7 237.2L150.8 340.2L272.4 244.1L66.9 407L203 298.7L60 409.6L308.7 212.5L212 285.9L382.6 161.5L232.8 275.3L55.8 413.5L256.1 259L417.6 121.2L357.5 178.9L113.7 368L243.9 264.5L219.1 288.7L343.2 186.4L221.9 293.5L129.5 356.1L403.4 143.9L348 190.8L188.1 309.7L69.4 402.2L221.4 282.7L111.9 377.4L428.4 108.7L202.2 289.6L447.1 105.5L166 326.4L105.5 375.4L377.5 170.4L301.5 223.6L470.4 89.6L251.6 257.4L348.2 191L310.3 218.3L124.1 361.4L350.4 182.6L307.3 220.1L177.2 312.6L215.8 291.7L85.1 390.2L179.6 319L313.8 215.4L251.9 260.9L336.9 198.5L208.3 289.5L304.9 217.2L143.7 342.7L233.3 274.7L425.5 126.5L396.5 151.4L162.7 318.3L361.3 178.1L202.7 298.4L333.1 204L426.9 121.6L170.6 325.3L148.7 336.4L268.5 248.7L397.7 141.5L118.5 361.7L391 144.1L232.3 281.7L180.8 315L264.2 241.4L480.7 78.5L128.1 352.5L167.7 326.1L431.9 114.6L73.5 400.7L151.2 337L146.7 340L437.7 103.8L119.1 361L66.6 406.5L58.8 410.6L435.8 105.4L182.7 308.2L361.6 181.3L362.8 178.9L167.2 327.4L461.3 97.5L298.9 226.1L298.7 226L215.2 287.1L133 354.4L310.8 206.7L252.5 262.6L425.6 109.5L163.6 325L327.7 193.1L85.4 391.7L409.5 129.4L339 186.3L245.4 259L239.1 259.2L363 166.7L258.9 241.7L189.8 308.2L187.6 300.7L151 336L306 212L68.2 399.8L276.1 241.9L334.3 201.3L283.5 241.6L337.4 195L280.7 233.7L241 272.5L273.1 246.9L319.1 213.6L103 375.2L314.1 215.2L123.8 360L330.5 207.8L298 221.1L410.4 135.5L309.6 215L346.3 174.4L385.2 161.2L289.5 228.1L316.1 207L309.5 215.8L241.2 264.7L401.9 154.6L234.6 268.1L104.7 371.5L168.5 319.9L510 46.8L105.5 372.9L359 174.3L305.7 214.6L242 268.3L247.1 258.5L249.8 256.7L76.7 397.7L179.9 310.9L71.7 400.7L432 119.5L201 304.7L279 230.7L339.4 194.9L253.4 247.4L111.8 369.2L156.5 335.8L300.5 212.2L349.8 171.2L55.7 412.5L447.3 92.3L369.1 168.6L391.8 149.9L402.3 129.6L355 182.5L108.8 375.2L337.3 196.1L282.9 241.4L271.3 244.5L98.4 379L390.8 156.6L323.4 204.7L144.6 343.1L373.8 169.8L140.2 342.7L282.2 227.1L257.1 242.3L289.7 226.9L409.5 138.8L207.6 298.7L394.4 147.5L95.4 380.8L162.7 327.2L445.5 101.4L413 120.5L121.1 364L149.6 333.6L446 96.1L282 241.2L104.2 373.3L323.4 194.1L95.2 381.5L129.3 357L74.1 398.9L271.3 250.3L117.8 366.7L393.4 131.3L258.7 255.3L336.1 191.7L327.3 201.7L74 400L176.8 315.1L69.7 403.2L401.9 152.4L376.1 159.2L210.1 296.2L251.3 261.3L293.9 224.1L217.5 288.6L284.8 230.1L377.9 161.4L443.8 104.5L346.3 182.5L208.4 293.6L188.3 310.6L281.7 239L99.6 378.9L415.5 133.8L108.9 369.1L150.9 338.7L277 239.2L166.2 323.7L162.5 332.1L287.3 224.8L213.3 292.4L290.4 227.8L137 349.8L273 242.9L213.7 290.3L58.9 411.3L66.7 404.6L234.7 266.6L402.1 136.8L129.8 354.4L68.8 403.6L296.3 226.4L329.4 202.1L134.3 349.2L204.8 284.1L364.2 174.7L102.3 371.6L130.2 354.3L195.7 303.7L342.1 192.2L110.7 369L244.7 258L208.6 303.4L444.1 108.5L392.8 156L144.9 347L368.2 179L104.5 376.4L255.3 253.7L390.3 147.6L409.8 150L290.7 223.3L323 204.8L209.9 291L425.5 118L278.9 240.9L409.3 125.7L85.4 388.8L250.1 262.5L316.9 210.7L89.2 386.7L249.4 256.8L258.5 261.1L67.4 404.5L98.9 384.7L262.8 253.4L150.4 337L349.5 184.7L409.4 130.2L418.3 133.4L109.6 369.4L317.4 210L173.5 321.9L87.9 388.1L378.2 151.4L420.6 128.5L282.7 231.1L228.6 271.3L408.1 129.3L303.5 211.9L101.9 375.8L388.7 164.3L69.5 401.2L322.1 203.6L212.8 290.3L170.6 325.1L286.4 234.4L189.4 305.7L391.9 156.3L362.2 173.3L466.8 78.5L170 321.5L215.3 288.4L331.5 204.3L368.6 180.6L399.6 147.7L193.3 308L185 315.3L382.6 153.3L259.8 255.2L452.9 93.9L266.2 248.1L224.2 277.4L87.1 391.9L245.3 261.2L431.3 108.6L172.2 315.8L131.8 355.1L205 302L255.3 255.4L426.8 109.2L137 352.4L496.4 48.6L221.8 284.6L276 245.1L163 332L222.3 283.4L284 231.3L199.5 287.7L132.2 356.8L103.2 374.3L363.2 188.7L156.2 334.1L180.8 322.5L83.8 394.4L299.9 218.8L250.2 263.4L56.8 414.4L56.7 413.2L175.5 317.3L119.1 364L68 404.8L346.8 193.6L395.5 141L281.8 230.5L155.6 330.4L188.4 308.6L370.1 165.3L188.2 306L254.9 255.1L145.9 336L462.5 94.8L387.1 161.4L162 333.7L235.7 269L165.6 325.8L395.6 143.5L115.2 369.4L113.1 365.3L422.4 116.1L263 239.6L294.9 230.6L285.5 233.7L407.7 140L154.5 335.2L457.4 90.1L85.1 393.7L147.8 341.5L144.1 341.7L414.3 123L150.7 331.9L373.4 167.5L57.5 411.8L246 258.8L356.6 182.3L125.2 359.2L433 120.1L277.6 243.8L225.2 285.7L218.4 275.2L493 62.8L98.3 380.3L208.9 294.7L430.5 128.1L303 224.5L308.1 213.7L178.4 318.4L396 144.5L384.9 144.6L357.6 175.3L205.5 298.6L349.7 178.7L310.1 220.4L77.4 398.9L115.6 366.3L303.7 210.1L219.9 285L385.3 143.2L225.1 279.6L337.6 203.4L398.8 151.4L210.7 290.8L127.1 351L116.9 365.8L481.1 78.5L166.7 322.7L67.1 405.6L123.5 360.5L171 314.2L230 279.3L124.2 356.5L466.5 93.9L78.1 395.2L371.6 164.6L248.8 260.6L319.1 206.4L56 415.1L85.5 391.2L211.4 295L186.3 316.3L85.9 388.4L272.9 238.3L183 311.9L270.1 250.1L95.5 380.2L329.9 206.9L337.9 192.3L347.9 192.3L207 298.4L100.3 377.3L516.5 39.9L95.7 385.4L491.1 53.9L232.4 272.3L184.5 312.8L106.4 373.3L159.7 330.7L166.8 322.5L143.8 342L390.1 155.5L405.2 140.6L154.1 340.9L174.5 317.7L144.4 340.5L411.6 124.3L424.3 127.9L68.4 407.9L282.5 229.4L103.4 377.5L433.2 114.8L372.3 175.3L237.2 273.9L226.9 279L228.8 274.8L376.5 166.6L262.4 254.6L248.8 260L321 204.6L264.1 253.6L137.2 351.1L151.5 337.9L66.1 404.7L191.4 301.9L235.9 252L372.9 175.2L424.5 111.4L159.2 330.8L88.8 387.9L299.6 215.8L279.5 228.4L276 245.8L236.7 271.5L189.3 303.9L98.1 378.8L393.9 150L76.3 396.9L265.7 255.4L188.5 309.2L179.4 318.5L440.4 92.9L113 367.7L150.3 337.6L341.9 185.2L436.6 109.5L458.5 84.8L84 391.5L57 410.6L65.6 407.8L93.5 377.8L124.6 362.6L498.4 69L338 202.5L337.8 198.2L104 376.3L197.9 301.2L329.1 207.7L199.3 294.5L131.1 357.5L140.7 350.2L346.7 179.9L385.2 153.2L354 172.6L101.4 382.1L156.7 336.9L386 159.4L404.6 139.2L60.8 409.8L450.9 94.2L233.9 283.2L160.9 329L239.9 263.4L226.6 272.9L204.9 296L290.7 231.8L354.6 182.6L197 295.9L161.7 326.4L205.2 292.4L170.1 330.2L142.1 346.5L329.5 204.1L240.6 261.3L365.2 179.2L408.3 142.7L216.6 295.2L250.5 254.1L244.5 264.7L189.5 311.9L389.3 149.2L361.7 186.4L101.6 376.4L98.4 381.4L510.1 56.4L73.2 401.5L239.3 270.4L378.8 153L303.8 224.9L373.2 158.9L410.3 126L155.5 335.3L390.3 161.7L292.8 239.5L113.8 367.1L180.6 314.1L200.2 299.3L259.3 248.8L249 257.7L209.3 290.8L216.5 286.5L406.1 134.9L252.1 259.8L408.5 125.6L239.9 264.3L343.7 191L374.1 162.1L87.2 389.6L314.2 216.5L216 290.5L362.8 181.1L154.9 329.9L193 301.6L258.6 253.8L100.8 377.9L320.5 206.6L199.6 298.2L122.2 362.5L127.4 354.6L218.6 281L399.7 134.1L111.9 375L353 172.4L208.2 290.5L189 305.2L307.8 222.8L95.5 383.4L430.9 109.7L306.6 206.5L187.1 312.9L336.5 191.3L201.9 298.3L359.3 169.3L325.1 201.1L340.5 193.6L211.4 285.8L106.3 373.2L95.5 382.2L238 269.3L199.3 307.2L66.8 406.5L58.6 411.5L137.4 355L188.7 302.9L257 247.8L325.9 205.5L161.7 328L267.3 251L380.6 167.8L167.8 330.8L327.6 197.9L252.2 257L198.2 301.8L161.6 327.9L274.4 234.6L361.5 174L56.8 414.7L321.5 211L304.2 213.3L300.9 220.4L239.3 264.3L74.9 399.3L222 278.5L257 248.7L394.8 152.1L198.3 304.7L417.3 127.6L321.8 199.4L170.5 324.1L468.3 77.5L88.8 386.5L120.2 358.9L376.8 164.6L173.2 316.5L241.6 262.7L430.8 110.9L459.9 88.1L236.5 271.4L252.2 253.7L120.5 360L98.9 376.3L278.4 238.7L182 307L154.2 334.4L295.8 228.8L287.6 232.7L380.1 149.4L297.7 220.4L218.5 290.2L113.1 371.7L309.7 216.8L404 137.5L324 200L306.1 217.1L293 223.1L147 337.1L249.7 260.5L301 216.4L156.4 327.7L381.7 159.2L218.4 284.4L348.9 182.7L291 219.1L389 159.6L222.9 275.5L384.2 166.7L244.7 263.3L214 296.6L200.6 291.4L368.9 166L406 134.9L182.2 307L166.3 328.7L60.7 413.9L121.1 358.7L119.2 365.6L216.1 286.1L244.6 261L188.1 297.8L208.6 296L171 317.3L343.3 200.8L356.9 178.1L348.1 193.5L302.3 216.2L216.9 288.3L98.4 378.1L357.4 194.1L144.1 342.4L299.3 220L275.1 241.5L307.3 215.6L302.9 218.6L234.3 278.7L199 303.3L325.4 194.2L253 254.7L189 305L129.8 353.7L219.5 277.5L143.1 342.9L93 388.5L287.6 244.1L184.5 311L211.4 285.4L421.7 132L116.9 369.1L358.1 170.9L336.4 199.7L185.6 302.6L373.1 156.6L306 217.3L228.5 278L161.8 327.7L128.8 358L352.8 177.9L276 234.9L386.1 146.9L126.4 359.1L117 365.4L147.9 340.5L460.6 90.9L341.7 190.2L321.1 197.9L251.5 249.7L95.2 380.4L92.6 380.9L257.6 253.8L457.6 89.3L368 173.7L398.6 153.6L424.6 121.1L103.8 375.5L86.3 389.4L406.5 147.4L213.1 294.6L289.4 238L413.4 118.4L404.6 136.1L467.6 63L493.2 89.2L511.3 44L504.1 51.1L496.8 60.7" fill="none" stroke="none" marker-start="url(#mp)" marker-mid="url(#mp)" marker-end="url(#mp)"/>
<path d="M51.4 417.7L53.3 416.2L55.3 416.9L52.4 414.2L56.8 416.2L50.4 416.5L54.3 418.9" fill="none" stroke="none" marker-start="url(#mo)" marker-mid="url(#mo)" marker-end="url(#mo)"/>
<rect x="309.2" y="231.2" width="228.2" height="182.8" fill="#fff"/>
<rect x="51.4" y="33.8" width="486.8" height="383.9" fill="none" stroke="#3a3a3a" stroke-width="1.2"/>
<path d="M51.4 417.7v-4.6M51.4 33.8v4.6M51.4 417.7h4.6M538.2 417.7h-4.6M100.1 417.7v-4.6M100.1 33.8v4.6M51.4 379.3h4.6M538.2 379.3h-4.6M148.8 417.7v-4.6M148.8 33.8v4.6M51.4 340.9h4.6M538.2 340.9h-4.6M197.4 417.7v-4.6M197.4 33.8v4.6M51.4 302.5h4.6M538.2 302.5h-4.6M246.1 417.7v-4.6M246.1 33.8v4.6M51.4 264.1h4.6M538.2 264.1h-4.6M294.8 417.7v-4.6M294.8 33.8v4.6M51.4 225.8h4.6M538.2 225.8h-4.6M343.5 417.7v-4.6M343.5 33.8v4.6M51.4 187.4h4.6M538.2 187.4h-4.6M392.2 417.7v-4.6M392.2 33.8v4.6M51.4 149.0h4.6M538.2 149.0h-4.6M440.8 417.7v-4.6M440.8 33.8v4.6M51.4 110.6h4.6M538.2 110.6h-4.6M489.5 417.7v-4.6M489.5 33.8v4.6M51.4 72.2h4.6M538.2 72.2h-4.6M538.2 417.7v-4.6M538.2 33.8v4.6M51.4 33.8h4.6M538.2 33.8h-4.6" stroke="#3a3a3a" stroke-width="1.2" fill="none"/>
<path d="M480.3 419.2L480.3 419.2" fill="none" stroke="none" marker-start="url(#mg)" marker-mid="url(#mg)" marker-end="url(#mg)"/>
<path d="M480.3 419.2L480.3 419.2" fill="none" stroke="none" marker-start="url(#mp)" marker-mid="url(#mp)" marker-end="url(#mp)"/>
<g font-size="14.5" fill="#3c3c3c">
<text x="51.4" y="440.5" text-anchor="middle">0</text>
<text x="44.2" y="424.0" text-anchor="end">0</text>
<text x="100.1" y="440.5" text-anchor="middle">0.1</text>
<text x="44.2" y="385.6" text-anchor="end">0.1</text>
<text x="148.8" y="440.5" text-anchor="middle">0.2</text>
<text x="44.2" y="347.2" text-anchor="end">0.2</text>
<text x="197.4" y="440.5" text-anchor="middle">0.3</text>
<text x="44.2" y="308.8" text-anchor="end">0.3</text>
<text x="246.1" y="440.5" text-anchor="middle">0.4</text>
<text x="44.2" y="270.4" text-anchor="end">0.4</text>
<text x="294.8" y="440.5" text-anchor="middle">0.5</text>
<text x="44.2" y="232.1" text-anchor="end">0.5</text>
<text x="343.5" y="440.5" text-anchor="middle">0.6</text>
<text x="44.2" y="193.7" text-anchor="end">0.6</text>
<text x="392.2" y="440.5" text-anchor="middle">0.7</text>
<text x="44.2" y="155.3" text-anchor="end">0.7</text>
<text x="440.8" y="440.5" text-anchor="middle">0.8</text>
<text x="44.2" y="116.9" text-anchor="end">0.8</text>
<text x="489.5" y="440.5" text-anchor="middle">0.9</text>
<text x="44.2" y="78.5" text-anchor="end">0.9</text>
<text x="538.2" y="440.5" text-anchor="middle">1</text>
<text x="44.2" y="40.1" text-anchor="end">1</text>
</g>
<text x="294.5" y="461.9" font-size="15.1" fill="#3c3c3c" text-anchor="middle">Input Power (dBm)</text>
<text transform="translate(15.6 224.6) rotate(-90)" font-size="15.25" fill="#3c3c3c" text-anchor="middle">Output Power (dBm)</text>
<path d="M331.9 396.6V239.8M370.4 396.6V239.8M408.9 396.6V239.8M447.4 396.6V239.8M485.9 396.6V239.8M524.4 396.6V239.8M331.9 396.6H524.4M331.9 374.2H524.4M331.9 351.8H524.4M331.9 329.4H524.4M331.9 307.0H524.4M331.9 284.6H524.4M331.9 262.2H524.4M331.9 239.8H524.4" stroke="#e6e6e6" stroke-width="0.7" fill="none"/>
<g clip-path="url(#ic)">
<path d="M331.9 351.8L524.4 239.8" stroke="#0072BD" stroke-width="2.6" fill="none"/>
<path d="M497.4 292.9L496.1 291.6L397 346.4L344.9 372.7L413.4 330.2L382.7 352.9L348.1 364.6L346 360.3L364.6 352.8L368.2 343.9L388.8 342.1L334 373.5L344.5 370.5L430.1 325.7L367.6 341.6L450.4 310.2L350.8 342.7L388.7 337.8L457.5 306.5L423.2 326.7L402.4 323L334.8 374.5L371.7 351.4L401.4 340.6L335.2 362.2L445.8 306.9L479.6 300.5L450.2 306.8L395.7 335.3L436.7 322.3L347.9 352.8L486.2 305.3L393.7 343.1L390.6 330.8L470.3 310.5L392.8 342.3L446.1 305.1L388 343.3L432.5 309.7L496.2 287.1L403.1 335.6L342 369.6L396.1 343.5L361.2 347.8L403.3 335.2L469.4 313.4L366.5 355L380.7 347.7L350.7 359.1L416.7 323.2L429.1 323.5L369.2 368.9L487.7 316.6L409.8 331.6L379 342L378.1 350L376.3 341.6L384.4 344.4L383.1 348.4L405.7 340.9L332.8 376.7L472 308.4L412 331L355.7 355.7L407.2 319.6L351 353.6L371.9 348.5L428.9 328.7L404.5 329.1L474.9 310L336.4 351.5L459.1 306.5L460.5 311L489.2 294.4L390.6 344.5L371 346L344.7 371.5L465.8 306.2L348.1 373.2L362 346.8L491.4 292.5L350.1 358.9L481.9 315.2L381 351.9L367.9 350L479.7 313.5L454 318.7L389.1 343.9L398 344.4L353 358L371.9 361L444.9 317.8L354.9 364.6L457.6 305.9L344.4 367.3L352.5 351.4L435.3 334.4L436.6 315.5L361.9 343L488.7 308.3L414.2 320.9L380.6 343.8L356.1 353.4L370.5 349L346.4 366.7L390.1 350.6L385.8 348.9L475.8 296.8L435 313.6L461.9 297.3L446.8 313L356.6 351.8L454.8 312.6L474.2 307.6L363.6 362.6L467.8 297.4L482.3 310.8L365.7 344.8L334.8 376.1L412.5 329L475.5 303.3L372.6 342.6L392.6 325.4L395.4 340L417.3 332.2L338.8 352.5L405.3 337.1L383.9 367.3L373.5 360L379 338.5L411.2 329.4L387 340.6L392.7 328.8L403.3 334L403.2 337.3L435.2 313.5L337 372.1L471.1 315.1L395.5 337.5L504.7 311.9L401.9 344.5L412.5 335.2L428 316.2L441.1 315.4L432.5 328.7L345.8 368L444.1 313L418.6 317.9L376.4 355.4L381.8 349.4L460.2 325.7L401.3 352.6L373.7 345.1L493.2 303.9L366.6 339.5L386.3 346.7L400.4 330.5L430 317.4L467 299.4L465.6 306.7L363.7 350.5L425.5 329.5L410 334.1L381.4 339.4L485.4 319.8L393.2 340.4L404 341.5L367.1 358.8L473 309L436.4 316.2L397.7 333.7L396.7 338.8L412.3 332.3L352.7 366.5L348.8 361L474.5 303.4L469.7 304.4L483 298.5L383.4 341.1L446.2 318.8L480 302.5L377.2 334.6L363.2 346.4L472.4 304.6L352.8 350.8L391.5 329L459.9 324.1L413.6 325L388.3 336L439.6 324.2L450.6 327.4L444.3 306L462 296.2L421.7 321.6L354.7 361.9L388.6 339.6L337.9 357.9L394.2 332.9L376.2 346.7L380.3 337.1L393.4 333.8L466.2 314.1L349 354.5L470 296.7L479.7 295.1L333.6 354.1L333.4 361.2L365.5 353.3L337.3 372.2L471.1 302L377 340.8L356 355.8L367.8 343L424.9 336.3L333.5 363.9L484.1 305.2L390.5 342.4L459.2 312.8L368.1 343.6L439.2 310.2L342.8 363.9L442.7 323.1L442.7 303.5L360.4 350.4L385.1 340.6L457.4 310.1L375 351.2L413.2 333.1L357.4 362.9L369.2 344.1L382.3 334.6L365.9 340.1L353.7 363.6L361.7 356.6L447.8 313.6L403.4 337.2L391.3 339.1L348.5 357.5L493 297.4L424.2 330.9L426.7 335.3L384.1 353.5L423.8 332.1L400.4 338.3L356.2 363.9L408.4 345L394.3 337.8L359 357.1L488.3 301.8L374.5 367.9L447.2 314.1L343.1 366.3L413.4 331.5L398.9 330.8L421 314.5L490.9 289.8L433.1 328.4L476.4 305.8L361.1 341.9L487.5 301.1L395.2 344.7L384.8 345.1L473.2 312.2L455.3 321.5L382.7 348.2L494.5 290.1L488.5 294.1L411.6 334.1L333.6 368.8L488.4 315.9L355.2 364.9L398.8 343.7L430.9 312.8L426.8 327.8L482.2 307.6L438.2 309.2L365 348.1L344.2 361.6L359.4 363.4L394.8 348L469.3 308.4L492.7 296.9L385.6 347.9L359 359.9L467.1 302L423.8 317.7L400.8 331.8L418.3 323.7L344.1 369.2L393.3 336.8L416.1 315L495.2 290.1L426.6 317.3L411.3 316.3L394.3 330.7L462.4 306.4L479.3 304.2L452.8 309.7L435.3 308.2L343.7 357.6L413.8 327L356.4 341.4L446.9 303.3L375.1 342.9L460.4 310.4L378.1 352.1L348.2 368.3L336.9 372.9L486.7 296.3L447.7 317.6L488 294.9L355 367.7L493.4 295.1L362.4 352.9L404.9 331.8L488.4 297.2L475.1 296.7L354.9 353.2L403.9 328.2L424.5 330.1L410.1 329.5L502.1 293.2L387.1 352.7L386.6 338.8L334.1 360.1L367.7 354.7L363.6 366.8L361.4 355.4L470.7 312.5L356.4 350.1L338.8 369.6L346.6 353.7L332.4 370.8L362 342.2L371.7 334.9L332.5 365.6L342.3 361.4L475 296.8L385.8 347L393.2 352.2L368.6 355.1L454.9 312.6L341.4 354.8L423.1 335.5L385.4 343.1L446.6 306.1L355.2 362.5L440 321.3L443.6 317.5L428 317.2L423.8 335.2L424.2 323.1L502.3 285.7L386.9 339.2L376.8 346.9L359.4 366L346.5 361.9L441.5 314L347.1 368.3L366.5 352L450 308.3L418.1 321.2L457.3 315.1L381.7 346.4L398.1 328.2L395.7 332.4L445.4 317.6L354.2 359.5L395.7 326.1L429.5 321.8L385.1 345.5L436.2 318.2L374.5 341.2L425.5 312.2L476.4 295.7L357 342.9L476.5 313.3L399 333.6L411.2 327.4L410.1 341.1L344.7 365.8L393.8 338.1L443.5 309L372.8 349.1L478.1 291L336.9 368L456.8 316.6L462.1 324.5L433.6 336.5L439.4 301.1L363.3 354.7L378.5 355.4L415 323.9L402.5 333.2L420.8 311L337.3 361.3L433.6 328.3L369.6 351.8L341.6 356.5L379.5 346.1L390.6 332.6L396.3 333L442.2 320L378.5 347.3L460.1 312.8L494.4 295.2L403 314.8L484.9 298.2L470.5 298.4L388.2 341.9L428.8 329L367.2 352.4L470.8 307.2L349.4 371.1L341 364.2L427.7 319.3L481.8 299.5L390.1 348.1L426.6 312.5L464.3 309.5L338.8 373.8L491.8 303.5L447.7 313L405.6 326.1L333.6 349.6L451.9 311.7L379.7 354.3L455.8 311.2L391 339.3L464.9 313L396.3 332.1L346.3 355.4L430.2 320.2L421.7 337L468.8 313.8L400.9 348.4L400.8 327.6L494.6 286.7L478.6 308.3L471.6 310.4L381.1 351.8L437.8 329.8L387.3 348.4L472.3 315.8L496.7 297.9L435.4 324.9L402.5 328.5L470.9 304.8L409.7 323.2L344.9 356.2L357.7 357.8L449.3 313.1L346.2 365.4L391.5 339.9L445.8 325.2L437 312.5L403.2 342.6L352 360.3L423 317.1L435.2 317.7L336.3 358.2L410.4 330.7L336.1 375.6L427.3 324.5L352.3 360.2L472.4 307.5L396 331.6L351.3 343.8L364.5 346.4L347 355.3L446.4 307.5L363 360.1L370 349.7L419.5 337.2L366 341.5L348.3 353.8L379 339.8L467.5 312L395.1 326L458.3 310.2L362.7 359.9L417.1 322.7L455.1 311.4L487.4 302.5L397.1 343.2L367 355.4L480.4 321.8L489.3 302.8L355.2 361.8L371.7 350.1L334.6 359.6L437.4 323.7L342.6 352.2L368.7 359.7L384.2 349.8L348 362.4L386.1 329.6L355.6 353.1L449.8 317.6L386.7 343.9L438.6 318.3L465.2 301.7L467.1 304.6L417.7 328.3L412.4 331.2L474.9 302.8L338.7 354.5L409.1 338L462 308L433.3 314L449.8 313.3L358 359.4L354.7 339.5L474.7 300L374.5 355L476.8 309.7L440.4 313.5L417.2 328L434.2 325.2L489.9 303.8L478 298.6L486.2 306.9L401.7 331.1L392.6 337.3L374.1 341.5L486.5 310.7L348.3 349.1L435.4 328.9L339.3 364.6L374.4 354.2L478.8 294.8L364.6 352.1L351.1 359.7L369.8 344.2L360.9 351.6L378.4 338.5L477.1 302.5L431.3 316L411.7 324.8L459.4 319.7L338.6 360.7L466.3 306.2L395 331.1L441.6 309.6L446.7 318.6L462.5 318.9L398.9 346.2L383.7 341.8L486.9 303.1L421.8 321.8L410.4 333.2L447.1 313.4L379.7 347.3L421.4 323.6L401.8 334.5L367.3 355.1L357.2 359L377.8 360.1L448.7 311L396.9 326.9L421.8 314.5L500.5 296.3L394.1 335.7L336 361.1L371.5 372.2L486.4 297.8L447.5 310.8L435.5 307L374.4 344.9L356.1 353L361.5 348.8L387.6 345.7L409.1 332L460.9 338.8L487.3 299.9L493.9 291.9L474.2 320.7L340 362L477.1 313.8L445.6 317.4L448.2 310.6L374.5 358.3L379 355.5L365.3 349.6L369.4 351.4L363.1 354L366.5 354.8L488.4 296.2L415.6 317.5L418.3 326.1L447.4 321.3L357.8 349.3L367.8 358L345 370.9L392.5 340.4L417.7 332.9L408.7 324.7L486.3 311.4L468.7 299.7L447.7 318.8L383.8 361.5L465 313.6L391.7 340.1L421.6 313.3L337.5 367.8L391.1 349.4L419.4 322.3L409.7 343.1L427.5 325.4L460.6 312.8L424.1 337.3L338.6 360.5L412.6 327L408 330.3L362.7 367.2L446.3 300.4L394.6 339.8L372.6 354.8L440.2 318.1L469.4 307.4L402.1 346.7L419.5 318.9L356 353L467.2 306.5L413.2 322.1L404.4 327.5L350.4 354L384 353.6L435.9 321.4L378.1 344.7L332.2 369L466.2 301.2L431.7 328.7L462.7 313.6L422.9 326.3L442.3 316.8L431.2 312.9L469.4 315.6L431.2 318L385.7 343.3L480.5 303.3L399.6 338.1L393.8 336.8L492.7 306.8L362.6 349.1L395.6 340.6L347.1 354.6L368.8 359.5L383.3 338.9L454.8 303.7L481.2 296.9L483.3 293.8L480.8 314.6L483.9 306.4L481.2 305L480.9 312.7L482.2 301.6L482.4 297.6L482.3 303.7L484.4 302.7L481.9 314.3L483.7 305L481.6 310.9L482.7 312.2L482.9 308.5L480.9 299.5L481.4 298.4L483.2 306.6L481.1 299.5L484 300.1L483.8 288.5L483.6 321.8L482 292.3L482.1 305.9L482.3 305.6L482.1 302.2L483.1 310.4L484.4 308.4L482.8 311.9L481.8 305.8L481.3 308.1L482 295.5L482.2 309.9L482.6 311.7L483.6 307.6L482.3 305.4L481 302.9L480.7 311.7L482.1 308.4L482.6 308.7L481.6 308.4L480.3 303.7L482.9 297.2L481.9 303.8L483.6 297.7L523.6 282.4L512.8 287.7L505.1 291.3L516.7 293.6" fill="none" stroke="none" marker-start="url(#io)" marker-mid="url(#io)" marker-end="url(#io)"/>
<path d="M372.7 331.3L480.2 266.7L461.2 279.9L399.3 306.9L436.1 294.1L386 325.8L377.3 339.8L464.2 277L350.5 342.7L420.8 307.9L422.9 315.8L374.1 335.7L364 329.4L352 337.5L425.9 301.7L402.8 308.6L372.6 329.8L378.4 319.5L447.9 284.4L436.7 296.2L386.3 326.2L484.2 276.6L383 319.8L344.3 344L374.4 320.3L441.4 298L412.1 315.7L387.2 318.3L462.5 283.6L356.9 337.9L376.8 330.1L423.3 309.4L338.4 345.7L381.7 314.4L430.5 291.3L398.8 319L480.2 271.2L412.4 312.2L479.1 266.6L335.9 358.6L473 275.5L474.9 279.7L390.3 332.5L398.8 312L462.2 285.4L351.1 359.4L431.2 299.3L350 342.6L407.6 315.8L373.1 330.9L353.7 342.8L373.9 338.8L375.3 334.1L377.7 327.2L398.3 321L489.5 273L410.8 306.1L373.5 331.3L447.3 278.5L361.8 342.3L418.2 304L446.2 293.8L358.1 338.6L381.7 327.2L457 283.2L432.2 304.2L465.7 288.6L479.4 269.8L354.1 337.4L479.7 268.8L403.9 320.1L464.8 266.3L437.1 301.5L420.9 302.9L359.3 330.5L463.7 270.7L413.5 310.2L354.2 349.6L489.7 273.9L391.9 323.3L366.6 348.2L412.2 318.1L388.6 328.1L389.4 318.1L460.3 280.7L403.6 314L466.1 281.9L343 357.1L445 293.6L390.3 328.4L335.1 372.7L411.9 311.3L333 354.8L467.4 281.8L401 321.9L406.6 318L384.8 317L401.3 320.1L345.8 342.1L417 309.3L407.1 314.9L461 282.2L381.1 331.3L382.6 327L360.3 340L349.1 360L457.6 288L462.3 274.7L336.6 357.8L466.9 275.6L394.3 313.4L367.9 337L468.9 285.2L452.7 268.5L379 330.4L368 340.1L346.7 344.7L335.4 356.1L372.2 336.7L461.5 284.2L353.4 353.9L360.9 332.8L369.9 330.8L450.2 285.8L379.1 331.7L379.4 324.1L484 257.3L459.1 289.8L464.4 281.4L380.7 324L349.1 350.2L341.3 351.4L448.4 292L373.2 333.5L451.4 283L411.1 316.3L408.6 309.8L405.4 310.6L454.3 289.1L433.3 303.2L485.1 270L360.9 346.1L415.3 313L432.6 290.9L362.7 339.7L419.1 306.5L359.6 332.8L351.7 349.4L447.2 292.7L397.3 326.1L469.5 270L458.2 280.7L427.6 304.1L382.2 329L355.9 343.8L459.8 287.3L473.5 265.7L477.5 281.1L412.8 301.6L348.6 348.8L370.1 339.1L413.3 307.2L483.6 274.1L485.5 267.2L339.4 345.9L340.1 349.8L408.5 318.6L429.1 308.9L381.7 329.1L336.6 350.5L381 335.8L479.7 275.8L461.3 280.9L429.5 315.7L358.2 355.6L367.6 339.7L425.9 308.6L381 333.9L371.2 344.8L439 281.8L444.9 297.3L374.5 344L402.1 315.1L442.5 298.7L349.4 343.3L351.3 355.1L374.5 316.3L407 318.3L399.8 317.2L363.5 334.2L370.7 341.5L360.6 340.6L455.3 279.6L374.6 333.8L394 322.1L441.8 290.8L477.1 276.9L343.4 389.9L372.4 323L364.8 331.3L460.3 273.6L468.3 281.2L351.7 346.9L411.2 311.6L337.4 346.7L381.8 326.4L369.8 343.1L408.5 310.2L422 319L437.6 297.8L363.2 342.1L474.8 260.2L365 331.4L352.8 333.9L358.5 339.6L405.5 323.1L434.3 292.9L389.5 327.7L407.2 310.2L386.8 334.1L392.7 311L408.1 311.9L372.9 328.9L347.9 336.9L395 317L345.1 349.4L355.3 331.5L409 307.2L421.4 306.4L432.9 300.1L436.7 301.6L422.1 312.2L343.6 349.5L471.3 275.6L392.7 324.5L377.7 335.9L392.3 323.7L353.3 332.4L418.6 303.4L429.3 306.7L382.8 334.1L437.7 300.7L438.5 284.5L410.5 311.4L408.2 311.9L458.9 286.3L333.5 364.4L378.9 325.3L332.4 365.7L363.7 340.2L398.3 324.7L435.7 301.4L485.6 273.9L449.5 296.6L442.9 291.9L366.1 325.1L415 316.1L450.5 287.1L402.1 316.4L334 347.6L388 318.1L439 291.1L402.1 318.3L385.3 334.1L368 316.4L485.8 272.3L370.2 328.6L450.7 257.6L374 335.6L332.1 359.8L368.1 334.2L342.5 358L431.2 290L391.6 318.4L376.2 337.7L390.4 316.3L413 306.4L407.7 305L460.4 280.3L452.5 286.3L405.6 307.5L379.4 324.8L366.5 330.4L367.8 334.2L473.5 261.3L456.4 286.6" fill="none" stroke="none" marker-start="url(#ig)" marker-mid="url(#ig)" marker-end="url(#ig)"/>
<path d="M480.5 248L427.9 286.8L337.3 350.4L364 344.7L380.5 323L431 289.8L341.6 352.1L369.4 323.9L339.3 344.5L347.7 336.5L361 335.8L343.3 343.6L351.3 343.3L413.9 306.5L372 329.3L401.9 317.7L449.5 284.5L352 332.7L444.2 290.8L456.6 273.8L479.2 262.1L388.4 297.3L461.8 265.3L438.1 297L389.5 318.6L365.8 328.9L424.6 286.2L433.7 281.2L376.2 323.4L462.8 273.5L403.2 296.5L472.1 275.6L418.1 306.9L333.2 349.8L408.6 300.8L359.8 342.7L439.6 279.5L413.7 296.9L408.8 289.1L365.7 331.4L347.8 343.2L464.8 272.2L454.4 267.8L333.1 335.3L354.1 328.9L453.3 277L446.7 287.4L421 294.8L437.7 286.3L468.7 258.6L359.8 337.4L384.1 314.6L400.9 304.7L399.4 303L457.2 275.9L395.5 304.3L395.4 314.8L356.8 333.8L337.3 340.1L348.7 349.3L398.3 303.4L378.1 309.6L443.4 281.7L361.2 318.2L385.2 320.1L408.9 298.1L429.5 286.2L333.9 351.4L380.3 317.7L398.5 318.2L382.8 321.8L417.7 307.5L338.9 362.8L356.2 330.9L393.4 316.7L392.3 314.5L344.4 350.3L363.8 326.6L349 344.1L404 300.8L336.8 337L438.2 285.4L416.1 293.6L366.4 327.1L393.9 301.7L410.4 306L344.5 344.1L336 336.8L383.6 316.7L390.8 325.6L410.5 308.9L422.9 296.6L454.1 273.4L470.4 274.6L457.1 282.8L362 324.2L467.1 276.2L343.4 361.8L407.7 290.9L446.1 276L429.5 291.7L381 316L418.5 296.9L339.7 334.9L352.2 338.6L468.2 270.9L359.9 320.1L488.8 257L373.2 320.7L444.1 281.7L452.4 274.4L340.9 336.9L379.4 319.3L380.9 328.9L350.5 334.7L444.3 276.7L394.4 319.4L393.3 305.1L484 259.4L379.7 321.9L361.2 344.6L444.5 285.7L356.3 338.3L415 303.1L411.9 303.2L438.1 288.3L443.5 280.5L339.5 334.2L404.5 303.9L420.2 289.1L478 263.5L413.9 292.6L342 354.6L469 282.4L335.9 354.8L467.4 275.6L355.6 337.8L373.4 324.7L464.3 283.4L364.3 314.4L363.3 344.5L361.3 328.8L339.9 351.3L422.8 291.4L386.7 311L354.4 326.6L448.2 280.4L331.9 344.8L402.8 317L423.9 289.6L427.9 306.2L397.8 306.5L415.7 299.1L347.7 345.5L439.2 298.4L353.4 335.5L418.9 286.6L346.7 336.9L474.9 263.7L372.3 325.3L438 282.4L370.3 326.9L415.4 292.8L351.8 333.4L352.2 338.8L457.1 277.8L466 273L456 276.9L347.9 341.9L346.6 335.7L375.1 319.6L462.1 273.8L355.3 334L372.1 339.9L411.8 294.1L388 320.7L444.2 289.8L442.5 283.1L394.7 322.2L361.7 324.7L341.4 331.3L367 333.1L405.3 306.6L339.7 341.6L451.8 286L344 342.2L419.6 300.9L397.2 307.7L366.1 337.7L373.9 326.7L399.9 309.4L356.3 324.5L423.6 283.1L390.5 309L459.7 274.1L374.8 327L404.6 302.8L388.1 322.2L442.4 274.7L476.5 260.2L460.1 270.5L457.9 282L352.9 335.8L446.2 283.7L440.5 280.3L374.4 314.5L416.2 298.5L441.6 285.7L388.3 315.6L367.4 314.7L360 334.8L416.4 288L465.9 253.7L340.9 338.5L375.2 333.8L429.2 290.2L338.1 339.3L381.7 319.9L481.1 261.4L472.5 275.1L352.4 333.6L484.8 262.3L380.3 315.9L412.9 308.4L444.2 294.4L409 300.7L424 294.4L400.5 301.2L350.1 333.7L377.1 334.5L431.3 291.7L421.9 307L452.3 264.1L372.9 323.4L369.6 332.5L407.5 294.8L436.8 289L333.4 356.2L377.8 318.8L431.1 291.2L409.4 308.2L377.4 315.8L332.6 355.6L480 250.4L438.4 283.6L448.4 284.6L432 286.6L419 308.1L345.8 346L370.5 334.1L360.8 330.9L448.1 270.1L410.8 299.9L455.9 279.2L341.6 335.3L424.3 286.9L440.3 283.4L342.1 349.2L470.5 260.6L453.3 276.6L425.4 293.8L413.3 312.8L471.3 270.5L423.6 290.2L452.1 275.7L416.5 297.9L424.1 295.4L345.8 338.9L377.2 317L356.1 333.4L397 306.1L476.5 262.4L436 291L361.5 332.4L399.3 299.5L362.1 318.4L354 335.7L414 309.9L424.1 311.4L372.2 323.1L393.7 308.6L389.3 314.8L430.6 295.6L334.9 335.2L375.2 319.4L367.7 322.1L350 338.7L411.2 306.6L442.4 291.5L487.7 257.2L393.5 314.4L342.9 331.9L483.9 253.5L382.2 321.1L461.5 280.6L422 294.4L387.4 325.4L335 348.9L349.5 331.7L448.8 281.2L378.3 327.1L431.9 286.5L335.5 342.9L401.6 298.6L490.3 257L450 284.7L391.7 316.4L464 268.1L486.5 265.9L410.4 297.1L345.5 341.7L355 335.4L348.3 338.3L482.2 256.4L342.4 343.6L395.4 303.3L464.9 258.4L419.9 295.8L418.3 297.5L423.7 285.1L357.3 334.5L413.6 309.4L449.4 287.6L356.7 341.8L416.2 302L475.2 272.8L332.9 333.2L370.6 322.2L339.4 332.9L359.5 335.3L362 324.9L341.6 340.1L481.3 257.2L427.3 291.6L347.1 339.9L383.3 308.9L448.6 284.7L445.5 279.2L456.2 270.9L333.7 340.7L444.8 280.9L474.9 265.7L430.1 285.2L453.3 271L393.2 323.1L431.3 300.6L445.4 281.6L413 304L362.1 323.4L364.1 325.5L483.7 259.1L385.3 303.9L388.2 315.6L366 336.9L402.5 303.8L343.8 346.2L473.9 260.6L469 279.5L419.8 286.1L456.1 270.7L363 344.4L428.1 292.9L443.8 287.2L426.5 297.3L364.2 342.9L342.5 356.8L420.2 290.5L410.2 300.5L425.5 300.6L420.6 301.1L414.8 297.4L390.3 318.6L449.2 280.2L341.6 349L354.6 338.8L430.7 301.2L398.4 300.7L455.6 279L436.3 301.7L408.7 313.5L359.4 340.3L365.1 316L428.3 284.2L377.6 321.7L389.3 327.7L456.8 281.2L462 286.1L358.8 326.7L394.7 312.3L419.4 291L421.8 296.3L432.2 292L452.1 286.7L447.5 277.9L469.7 261.3L429.8 294.5L446.1 280.7L349.2 348.3L398.3 295.1L397.5 307.6L465.8 275.5L381.8 313.4L417.8 305.9L354.7 347.4L365.3 331.5L333.9 337.4L433 286.4L429.7 300.8L420.1 308L405.4 303.7L393.2 309.7L387.5 315.4L361.5 341.2L384.9 323L382.4 311.2L387.1 322.3L455.2 265.7L462.7 272L372.3 346.3L376.3 333L430.6 280.1L463.4 272.3L426.2 286.9L416.3 303L368.7 323L397.6 323L411.1 308.7L424.4 289.8L362.4 330L447.6 284.5L356.7 332.8L451.8 279.5L370.4 326.2L476.1 271.9L435.7 295.8L482.2 259.2L401.9 309.2L366.3 345L432.8 284.2L386.4 320.4L447.2 284.2L435.7 280.9L397.7 312.4L418.5 291.4L334.8 348.6L377.9 327.1L421.6 286.7L369 318.1L423 295.8L478.7 254.8L373.3 320.6L380.4 325.1L423.3 288.9L341.1 343.2L384.1 311.1L471.6 267L349.6 335.7L457.8 279.1L380.4 321.8L346.7 338.7L349.7 339L337.1 357.9L363.8 327.7L336.6 359.4L351.3 330.5L381 327.3L406.1 313.1L451.7 278.1L350.8 340.4L394.9 309.3L477.5 275.6L371.6 323.3L337.3 339.9L384.5 326.3L380.7 327.1L370.5 337.1L376.7 309.5L405.2 303.4L370.2 326.6L393.7 302.3L352.4 348.2L384.4 318.4L378.8 316L385.3 322L441.4 282.9L382.8 309.3L387.5 325.5L420.5 295.3L479.5 257.1L379.5 316.8L345.8 353.2L457 267.3L430.1 287.8L471.5 268.9L458.7 273.3L333 349L348.4 344.8L455.1 276.8L365.2 337.4L347.5 336.1L476 270.3L453.1 269.3L391.2 314.9L385.8 317.2L476.6 272.5L353.9 350.2L432.4 284.7L341.2 333.3L412.1 299.7L385.5 318.4L355.5 332.7L457.4 264L341.4 360.4L364.7 335.6L464.4 260.9L468.3 283L416.3 301.5L467.6 277.5L378.2 316.1L360.6 331L397.9 307.6L365.3 323.7L415.2 300.7L339.4 331.6L334.7 356.2L383.4 305L340.3 342.7L479.9 260.2L379.2 322.4L415.8 294.6L353.6 339.5L347.1 323.5L365.2 326.5L397.3 311.6L450.4 275.4L366.1 327.1L340.6 346.1L485.7 267L381.1 310.8L370.4 321.8L426.9 293.1L443.5 268.6L393.9 311L437.5 281.6L335.5 350.3L431.3 293.7L471.5 265.2L341.1 346.9L428.2 299.1L382.6 322.2L395.6 323L395.2 298.4L442.6 280.6L485.2 254.4L436.8 298.3L350.8 342.9L428 302.9L424.2 289L404.8 303.2L432.8 302.3L442.6 271.1L445 282.5L450.2 276.3L349.2 331.3L362 334.2L473.5 271.1L352 345L429.9 295.4L405.5 307.8L396 299.2L433.3 289.8L333 339.7L342.7 337.1L419.2 294.4L353.3 331.8L401.6 302.2L361 327.7L443.3 299.9L461.9 280.2L346.2 338.7L392.6 313.8L379.8 319.3L385.8 322.3L343.6 352.6L342 339.8L454 275.7L332.8 339.5L450.4 276.9L386.5 325L387.7 315.4L373 316.9L344.9 341L345.6 339L421.8 295.9L384.4 317.1L359.8 336.4L404.1 307L454.2 284.4L371.8 328.9L487.8 252.8L404.7 312.3L348 336.9L473.8 279.1L427.7 304.1L451.9 271.5L428.6 292.6L361.9 335L339.5 353.3L393.5 321.3L433.6 285.8L483.1 266.5L426.6 289.2L421.8 293.2L422.2 297.4L443.5 280.1L347.8 344.2L347.6 340.3L346.6 342.8L332 345.8L360.3 333.2L392.7 317.9L402.1 300.1L408.6 304.2L441.2 284.5L405.6 312.1L484.4 259L336.8 352.5L344.6 341.3L424.5 293.8L383.7 319.5L393 296.9L452.4 283.9L460.6 275.3L349.4 348.2L395.9 301.6L352 349L428.2 278.9L342.3 343.4L342.2 352.1L347.9 334.9L372.5 329.6L452 285.6L461.7 271.3L414.7 292.9L452.2 286.8L342.4 345.6L430.6 299.2L406.7 301.6L397.6 316.8L373.3 338L355.6 334L356.5 347.5L377 314.8L409.1 308.3L470.5 271.1L450.2 282.1L417.8 295.6L374.1 334.7L446.8 282.5L396.1 310.5L410.7 312.2L346.8 341.3L405.4 306.6L394.3 312.3L407.5 313.9L409.4 304.6L396.3 311.9L469.7 266.6L436.7 289.5L459.2 275.7L411.6 295.9L338.7 330.5L390.3 315.3L332 348.7L377.7 336.7L355.5 342.6L424.7 300.3L472.6 260.3L465.2 266.5L338.6 356.1L387 311.8L409.1 297.6L393.6 308.9L396.3 318L368.9 327.1L402 302.2L332 352.7L374.9 326.2L345.8 343.2L456.4 265.3L354.8 335.8L332.4 359.5L365.1 321.1L483.7 251.7L464.3 271.6L459.4 278.7L459.2 278.2L415.8 297.1L369.3 333.9L454.6 276.4L341.7 339.8L389 308.9L340.6 330L361.8 350.7L362.8 327.6L452.6 269.5L408.6 299.8L404 304.8L461.9 264.8L468.9 270.3L443.9 281.4L368.9 334.1L396.4 314.1L391.3 312.1L356.7 332L439.1 292L348.6 340.6L435.1 296.2L333.3 344.2L368.2 322.8L413.4 299L450.6 275.2L434.2 286.9L375 315.9L459.4 276.8L344.4 338.8L474.2 272.7L374.1 331.6L372.3 326.1L360.2 325.2L388.7 311.9L449.7 288.7L337.2 345.1L433.7 302.8L372.3 323.4L368 325.2L428.2 281.4L431.4 297.4L365 334.3L412.7 307.7L346 343.9L371.1 319.6L366.1 329L412.4 302.7L357.6 332.3L340 351.9L462.3 267.3L397.6 322.2L345 342.6L431.1 290.8L422 298.3L459.7 271.6L484.2 261.6L409.6 302.5L361.1 341.8L438.6 291.1L340.6 339.3L465 269.6L479 261.5L341 349.8L363.1 334.3L470.6 259.7L385.3 312.9L358.5 343.2L340.5 345.3L421 302.1L341.5 345.1L374.3 322.1L344.6 338.7L428.5 288.4L452.9 288.4L411.8 313.3L406.1 313.6L456.9 280.2L425.5 305.7L445 287.2L348.9 344.2L373.1 322.4L362.1 322L471 272.5L469.2 272L397.4 316L338.7 351L386.9 316L346.1 338.2L386.5 327.3L425.5 292.2L364.3 324L425.1 285.4L363 316L388.3 326.2L416.4 305.7L332.9 357.9L380.4 328.5L362 330.1L389.2 321L386.8 319.9L429.5 290.3L335.3 347.6L375.7 320L396.6 301.2L361 330L362.6 319.3L360.9 319.8L332.7 338.3L438.7 291.7L383.7 310.7L374.8 318.1L423.4 287L378.2 329L404.4 312.2L362.4 336.3L434.8 280.7L484.5 266.4L333.2 359.7L458.7 282.7L348.5 337.6L340.9 345.4L383.1 320.7L353.1 331.7L456.1 282.5L377.7 326.3L383 314.7L370.2 330.5L351.9 335.5L384 320.7L375.9 325.8L468.5 265.4L436.6 288.3L343.7 339.8L333.5 359.6L343.5 332.9L340.2 336.8L474.4 265.3L368.4 316.8L430.6 285.3L378.9 322.4L346.9 333.3L384.3 312.7L380.8 330.9L430.8 291.6L475.5 273.3L424.8 292.6L434.5 291L338.1 359.4L408.9 305.8L394.3 314.6L435.2 279.4L417 294.6L439.6 289L422.1 281.3L343.6 352L360.2 329.4L389.6 317.4L480.4 265.2L420.6 294.8L351 340L339.3 341.6L382.6 319.2L437.7 288.6L471 281.7L425.5 296.8L419 307.3L465.3 260.6L343.3 346.4L333.1 363.6L460.2 285.4L484.4 256.9L398.3 306.4L436.2 277.3L353.6 347.6L344.5 334.4L423.3 291.8L381.9 317.5L443.2 283.3L400.4 312.5L333.2 353.6L467.6 263.2L441.7 293L333.7 361.5L444.4 299.5L408.4 299.1L352.1 348.2L400.8 306.7L376.4 324.7L378.9 316.9L337.6 337.4L334.8 347.5L337.9 358.7L379.4 323.6L477.9 269L350 336.3L463.1 281.6L452.9 278.8L374.5 336L445.6 276.9L410.8 301.9L398.5 314.8L353.1 334.4L392.9 319.4L399.9 300.5L455.4 276.2L343.1 348.5L458.5 256.4L344.5 342.2L427.4 295.2L467.4 274.8L465.4 269.7L364.3 334.5L433 292.1L470.9 259.4L357.6 332.1L445.8 290.7L477.1 273.2L371 312L368.5 322.7L421.5 285.5L380.7 320.7L389.9 324.6L445.1 278.2L354.4 337.2L485.1 257L448 292.2L430.2 292.6L338 350L336.1 359.9L484.8 249.9L414.4 297.6L474.2 274.2L363.5 320.6L449.8 284.5L380.6 323.9L473.5 259.5L407.7 297.2L416.8 298.1L414.1 287.1L412.9 302.5L423.8 300.9L425.3 293.8L364.5 333.8L457.6 272.2L429.7 274.6L419.4 293.5L471.9 265.9L333.6 352.9L396.5 318.8L444.8 293.7L467.2 269.3L425.7 297.3L462.1 271.4L340.5 338.3L382.4 325.4L351.2 340.6L444.6 278.7L491.8 247.3L345.8 331.2L374.4 333.3L464.7 284.3L427.6 304.4L396.3 309.1L362.5 327.4L421.6 296.4L339.6 337.7L363.5 331.7L403.4 300.6L347.1 342.5L418.5 297.7L383.9 306.8L397.9 308.6L467.9 272.5L372.5 326L347.1 335.5L420.3 291.2L443.8 278.1L356.9 340L349.7 335.9L406.5 306.8L355.2 341L450.4 276.1L442 278.1L357.1 330.7L389.5 312.2L389 317.9L343.4 343L470.5 258.8L333.1 340.3L356.1 330.4L447.3 281.9L362.1 318.1L456.9 270.3L451.5 280.3L405.7 301.2L383.5 323.7L389.8 312.9L402.6 304.7L441.2 287.3L438.1 289.4L338.7 341.3L472.8 269.9L454.4 276L340.6 349.1L443.3 292.9L351.5 335.7L338 341.3L477.2 272.8L389.7 322L380.7 328.6L349.3 338.6L381.5 309.6L390.1 324.6L413.2 308.7L389.8 315.2L457.1 276.6L336.2 345.3L364.5 323.2L448.3 290L349.7 343.6L398.9 322.5L481.2 266.5L457.8 266.5L374 338.7L389.2 318.4L437 281.4L423.9 285.8L464.7 273L344.9 344.7L479.4 262.1L419.7 283.8L380.1 316.1L428.1 289L409.4 298.9L431.7 286.4L478.4 261.8L485.8 261L471.9 265.1L403.5 310L475 255L461.2 275.8L411.8 306.3L438.4 291.3L424.6 295.7L419.2 295.1L441.9 280.9L466.3 281.7L443.2 279.1L472.9 262.5L368.1 324.7L359.1 335.4L350.7 336.3L396.9 321.1L364.9 342.3L381.9 309.8L445.5 284.9L364 340.7L428.5 298.6L449.5 278.2L462.4 275.4L379.3 320.3L377.7 322.9L417.7 311.8L413.4 302.5L422.2 294.7L370.9 322.4L390.2 320.8L341 339.1L343.6 352.6L364.7 329.2L360.8 328.2L457 280.1L376.9 327.1L476.7 257L378 313.2L385.9 309L437.7 272.2L356 336L395.7 319.2L426.1 295.3L468.3 266.9L381.4 319L376.6 312.7L337.5 338.7L346.4 348.8L432.4 296L376.5 329.7L443.3 273.2L369.4 337.7L472.1 268.3L348.3 330.2L462.2 272.1L443.5 285.7L364.5 342.6L413.4 304.5L332.5 343.2L475.2 269.9L400 319.4L332.6 337.6L368 327.9L431.3 279L332.5 352L405.8 310.2L461 273.6L412.8 312.9L425.4 294.5L462.1 269L446.1 271.9L420.8 286.2L401.5 304.6L386.1 308.3L415.1 296.7L415.6 299.5L432.6 290.1L371 328.4L470.1 265.1L380.5 325.2L393.4 313.1L373.7 342.1L372.4 314.4L478.3 260.2L424 291.2L348.2 356.6L408.4 304.6L457 270.2L465.2 279.8L353.5 330.9L396.1 302.5L383.9 318.1L407.9 315L354.3 341.6L389.4 326.3L452 272.5L347.6 337.2L339.5 348.2L452.2 280.7L373.1 311.1L352.2 341L348.6 334.6L391.6 320.4L438.1 286L349.1 341.7L428 300.8L332 360.4L439.5 286.3L336.2 336.5L369.6 333.7L419.3 295.9L339.1 344L428 282.4L447.9 288L446.4 285.7L366.2 328.7L466.7 283.3L458.5 277.1L394.7 316.5L366 333.2L468.8 270.6L339.2 341.4L428.3 296.6L336 353.1L368.3 342.9L397.3 310.2L418 291.5L374.7 329.7L426.6 293.1L464.2 273.1L451.3 281.3L418.7 296.4L353 349.8L358 334.2L373.3 322.4L420.3 306.2L477.4 270.8L481.8 268.5L458.1 273.8L448.1 269.1L423.1 289.8L447.8 278.8L440.5 283.9L462.4 281.2L362.2 344.1L405.2 306.9L407.1 285.9L368.2 325.5L353.3 340.3L387.7 335.2L374.4 327.8L445.6 278.9L359.8 333.2L375.2 324.7L336.2 360L364 317.5L461.4 279.8L409.4 315.6L455.8 276L442 294.8L373.6 331.5L481.4 268.4L476.3 259.4L372.4 315.1L377.7 319.8L356.8 325.9L390.8 310L332.7 360.8L451.9 289.4L434.5 293.1L334.3 354.9L412.6 295.2L337.8 350.9L373.9 326.1L466.4 269.9L432.1 294.5L335.8 342.9L368.9 329.5L431.2 299.6L452.6 274.3L426.5 289.7L420.1 300.4L332.3 336.9L373.6 338.3L370.2 329.5L363.2 337.8L377.4 331.8L359.9 342.7L362.3 325.8L439.6 281.2L372.8 325.3L376.4 318.1L343.2 332.4L456.7 273.2L441.5 281.1L382.1 332.4L377.4 326.1L409.6 312.5L403.9 310.4L390.5 314.2L454 273.6L414.1 294.7L456 277.2L345.4 343.5L456.9 276.3L375 326.3L455.7 276.8L469.6 262.5L358.1 335.8L354.3 341.3L364.9 330.2L342.8 351.1L399.9 311.9L355.1 325.8L340 357.4L459.3 263.8L390.5 310.1L431.8 288.3L377.7 341.2L473.7 265.4L360.1 332.5L405.6 301.6L441.1 275.2L427.7 309.4L457.1 269.9L389.6 320.6L472.6 269.9L412.9 299.9L385 330.4L373.8 320.7L409.3 306.8L401.6 306L449.7 269.6L454.6 280.5L366.7 332.1L365.2 317.4L343.9 345.5L358.3 336.1L396.6 308.4L359.8 325.6L393.2 323.3L453.1 272L369.1 328L337.9 348.1L437.9 293.8L421.9 293.4L376.4 319.8L388.8 312.8L340.8 323.8L361.3 339.8L415.2 306.7L338.2 344.1L385.9 310.3L360.4 331.9L435.7 288.1L455.4 279.1L409.8 298.9L341.6 333.2L381.5 314.1L445.2 280L362.2 332L412.1 306.9L401 307.7L363.5 333.9L396.2 314.4L355.9 328.1L335.4 338.3L472.1 268.9L488.8 251.3L385.6 317.7L337.5 341.7L340.2 350.1L391.1 314.4L385.4 315.2L332.8 356.6L466 269.3L359.9 331.8L342.2 336.6L362.1 314.4L464.6 277.5L345.3 347.3L353.1 348.1L383.4 334.5L454.7 267.3L483 257.5L345.1 329.3L368.2 327.6L343.3 350.4L371.8 318.8L404.9 311L451.1 287.7L350 346.2L402.1 287.5L372.1 322.6L374.5 319.7L393.7 319L341.7 342.2L337.8 342.1L387.7 313.9L390.7 312.9L384.4 326.5L408.9 306.4L432.4 274.3L455.6 270L446.1 279.2L483.8 259L406.8 308.2L380.5 316.1L333.8 347.4L340 334.7L416.1 311.2L424.1 308.6L447.3 277.7L388.2 317.4L439.3 283.7L357.8 341.5L343.5 350.1L487.3 255.5L381.9 319.3L377.1 314.5L423.6 299.3L333.8 329.6L424.5 295.6L368.6 327.5L467.5 277.1L423.9 305.7L363.4 336.8L356.6 340.4L340.6 353L478.8 266.3L359.7 323.1L357.6 329.1L366.3 319.6L370.6 334.1L339.2 343.2L420.9 296.2L454.3 267.2L340.4 337L407.5 306.7L435.2 287.8L461.1 286.9L456.6 277.3L404.6 308.1L410.4 303.7L401.4 301L357.3 340.2L390.3 322.9L341.5 341.7L440.1 277.5L423.4 297.2L408.5 303.7L409.2 307.4L478.7 259.8L356.7 333.1L427.9 296L362.5 327.5L340.7 352.1L422.6 303.9L355.9 327.7L371.7 335.8L373.3 324.8L473.9 257.4L442.2 296.8L407.6 302.7L365.2 327.2L466.6 277.9L337.8 348.6L422.8 290.7L349 353L426.2 303.3L394.3 317L359.4 340.3L337.1 360L423 296.7L332.6 348.7L433.4 299.9L453.3 291L436.3 281.3L422.3 291.2L384.2 318.8L392.4 317.5L391.1 311.3L452.3 282.7L425.2 291.5L435.4 274.5L360.4 344.9L463 265.3L385.2 317.7L339.9 336.4L366.3 325.9L410.1 294.7L423.8 296.2L344.4 338.7L474.1 266.5L347.4 338.3L472.5 271.3L437.9 293.4L364.7 332.6L400.6 306.9L371.5 325.3L388 319.4L422.3 294L373.4 317L355.1 331.1L369.7 310.9L358.3 342.6L372.8 320.2L474 273.4L352.3 338.6L372.7 318.9L434.6 299.3L496.4 258.3L334.8 345.9L372.7 324.2L377.7 324L340.6 352.8L339.8 346.5L396.3 313L357.3 329.6L446.6 287.2L482.9 259.4L455 286.6L415.2 298.3L335.3 334.2L403.4 297.3L420.4 293.9L480.4 264L417.1 298.6L380.4 321.3L469.7 262.4L368.1 332.6L390.1 312.9L459.8 267.9L344.2 349.5L405.7 309.6L366.2 333L333.3 350.7L437 293.3L389 311.9L414.1 301L408.9 313.1L391 308L468.7 275L404.6 308.2L354.6 341.4L425.7 290.5L339.5 344.4L373.7 323.4L342.9 336.1L396 323.4L421.4 294.3L423.1 292L381.3 323L338.2 341.4L425.9 295.8L362.7 325.2L401.3 314.8L413.8 307.8L466.1 274.9L348.1 348.5L400.2 319.2L344.7 335.7L368.3 342.7L362.9 340.4L484.3 263.2L394.4 304.9L384.7 303L490 241.1L351.8 322.1L443.9 268.4L413.4 294.9L389.3 297L419.2 272.1L391.4 299.8L338.2 323.4L489.7 241.6L479 230.3L396.7 289.4L430.6 265.2L348.5 328.4L453.9 261.1L454.4 271.3L441.6 276.4L409.5 284L461.3 265L459.9 254.7L458 263.4L366.4 308.5L369.8 310.5L444.8 253.8L446.4 259.1L424.6 282.9L476.9 251.1L416.2 292L466 245L437.6 254.9L416.3 283.4L444.9 269.1L478.9 239.8L465 250.9L454.6 267.2L419.4 282.9L384.2 299.5L460.2 263.5L354 305.3L339.6 325.5L354.1 305.1L373 312.6L483.1 248.4L373.4 302.4L459.8 244.7L461.6 263.4L355.4 301.2L482.4 253.9L479.1 255.7L392.6 302.6L483.8 246.6L470.3 244.7L351 330.2L432.4 273.9L443.9 274.7L395.3 277.7L484.4 236.6L491.3 236.7L486.5 232.3L456.7 262.4L372.8 317L463.2 262.7L375.1 304.8L388.7 285.7L463 262.8L426.2 276.3L345.9 310.1L491.2 247.8L425.4 270.9L425.8 275.4L346.8 331.1L361.6 310.1L336.6 332.8L451.4 265.5L480.3 247.2L464.8 239.2L369.4 301.9L437.8 275.8L449.5 272.8L455.5 267.8L449.2 265L442.2 276.2L339 321.8L485.5 231.6L396.1 304.4L341.6 308L446.1 273.8L459.3 259.3L417.8 286.7L480 242.8L460.2 264.5L476.9 243.5L439.5 258.5L453.5 270.2L482.3 233.6L454.1 269.2L351.8 329.1L420.2 284.7L351.4 329L351.6 316.9L431.1 277L334.5 329L345.6 332.1L388.4 307.8L426.6 266.4L335.5 328.9L352.5 323.4L445.3 273L394.6 291.1L445.6 274.9L476.5 249.8L425 285.1L385.9 303L379.8 296.2L349.7 322.3L419.6 282L479.9 232.3L452.3 262.2L461.5 258.4L400.8 298.5L441.8 277.2L426.1 262.8L394.3 306.5L335.3 340.7L341.4 333.7L430.5 279.5L422.1 282.6L420.1 291.3L360.4 323.1L351.2 330.6L465 252.8L417.6 291.9L431.3 275.5L337.1 332.1L491.7 243.1L344 326.8L447.7 247.3L390.4 296L350.9 321.2L350.5 311.5L491.3 362.1L501.3 246.5L489.7 244.3" fill="none" stroke="none" marker-start="url(#ip)" marker-mid="url(#ip)" marker-end="url(#ip)"/>
<path d="M485.3 259.4L366.8 334.7L347.1 339.4L358.7 347.3L403.1 308.2L436.1 299.7L382.1 320.5L429 300.8L368.7 329.6L466.7 269.5L469.1 265.1L488.8 267.2L484.8 266.4L333.7 359.7L447 278.4L477.6 270.5L376.2 321.7L475.9 271.6L463.1 282.1L460.1 282.6L342 340.5L374.6 330L342.5 355.2L468 266.5L370.1 347.2L412.3 314.5L338.8 353.4L464.3 275.1L399.4 313.1L378.2 326.2L358.1 348.4L388.6 326.1L425.1 299.3L362.3 324.8L481.8 251.8L342.1 349.4L424.7 309.5L363.2 338.4L421 303L342.7 349L436.7 296L465.7 274.5L396.1 321.9L400.7 310.4L407 330.6L433.8 297.3L345.3 350.8L425.9 305.9L335 364.6L406.5 315.9L486.2 267.7L398.1 319.7L342.2 344.5L449.4 294.6L483.1 265.7L480.2 266.5L365.3 334.5L370.9 337L394.4 331.1L375.2 338.8L434.6 303.3L450.2 290.9L422.8 295.1L430.9 289.3L356.3 338.3L332.8 364.8L449 279.3L346.6 350.2L354.3 335.5L481 275.5L335.8 358.7L342.4 344.3L357.6 346.5L332.9 357.8L426.9 292.7L352.8 342.6L386.2 323.7L447.2 288L366.3 338.2L432.5 300.3L383.2 321.2L391.6 316.1L386.1 322.3L411.4 308.6L347.3 350.6L371.2 338.8L374.2 328.5L397.5 318.8L374.6 338.7L413 317.1L354.5 354.4L340.8 344L449.4 277.4L350.3 327L398.1 321.1L477.8 282.2L411.6 312L480.1 260.2L355.8 343.8L347.9 348.4L484.8 268.4L437.6 278.3L349.9 340.9L405.3 312.3L360.1 336.9L391.7 327.4L395.7 307.8L444.4 299L375.3 327L393.5 324.1L392.8 319.1L434.3 291.7L462.3 286.6L454 279.9L397.7 328.6L398.5 307.2L349.4 334.1L365.2 341.4L424.1 305.3L447.4 282.6L369 325.3L412.1 321.5L340.6 375.5L338.8 351.6L358.1 337.4L404.3 313.2L343.3 348.7L391 318.7L334.5 364.6L405.7 313L393.7 319.7L478.4 274L377.7 326L381.5 326.7L491.3 328.1L344.2 377.3L489.7 244.3L478.2 242L482 246.5L484.4 251L480.5 253.2L476.7 248.8L486.7 255.5" fill="none" stroke="none" marker-start="url(#ig)" marker-mid="url(#ig)" marker-end="url(#ig)"/>
</g>
<rect x="331.9" y="239.8" width="192.5" height="156.8" fill="none" stroke="#969696" stroke-width="0.8"/>
<path d="M331.9 396.6v-2M331.9 239.8v2M370.4 396.6v-2M370.4 239.8v2M408.9 396.6v-2M408.9 239.8v2M447.4 396.6v-2M447.4 239.8v2M485.9 396.6v-2M485.9 239.8v2M524.4 396.6v-2M524.4 239.8v2M331.9 396.6h2M524.4 396.6h-2M331.9 374.2h2M524.4 374.2h-2M331.9 351.8h2M524.4 351.8h-2M331.9 329.4h2M524.4 329.4h-2M331.9 307.0h2M524.4 307.0h-2M331.9 284.6h2M524.4 284.6h-2M331.9 262.2h2M524.4 262.2h-2M331.9 239.8h2M524.4 239.8h-2" stroke="#969696" stroke-width="0.7" fill="none"/>
<g font-size="6.2" fill="#666">
<text x="331.9" y="405.7" text-anchor="middle">0.75</text>
<text x="370.4" y="405.7" text-anchor="middle">0.8</text>
<text x="408.9" y="405.7" text-anchor="middle">0.85</text>
<text x="447.4" y="405.7" text-anchor="middle">0.9</text>
<text x="485.9" y="405.7" text-anchor="middle">0.95</text>
<text x="524.4" y="405.7" text-anchor="middle">1</text>
<text x="330.2" y="398.8" text-anchor="end">0.65</text>
<text x="330.2" y="376.4" text-anchor="end">0.7</text>
<text x="330.2" y="354.0" text-anchor="end">0.75</text>
<text x="330.2" y="331.6" text-anchor="end">0.8</text>
<text x="330.2" y="309.2" text-anchor="end">0.85</text>
<text x="330.2" y="286.8" text-anchor="end">0.9</text>
<text x="330.2" y="264.4" text-anchor="end">0.95</text>
<text x="330.2" y="242.0" text-anchor="end">1</text>
</g>
<ellipse cx="432.45" cy="107.75" rx="107.25" ry="99.65" fill="none" stroke="#000" stroke-width="1.4"/>
<path d="M432.8 207.4V234" stroke="#000" stroke-width="1.3" fill="none"/>
<path d="M429.7 232.8h6.2l-3.1 5.8z" fill="#000"/>
<rect x="62.9" y="46.1" width="142.7" height="79.8" fill="#fff" stroke="#262626" stroke-width="1"/>
<path d="M67 57.6H103.4" stroke="#0072BD" stroke-width="8.6"/>
<path d="M90.2 76.9L90.2 76.9" fill="none" stroke="none" marker-start="url(#mo)" marker-mid="url(#mo)" marker-end="url(#mo)"/>
<path d="M90.2 97.8L90.2 97.8" fill="none" stroke="none" marker-start="url(#mg)" marker-mid="url(#mg)" marker-end="url(#mg)"/>
<path d="M90.2 117.2L90.2 117.2" fill="none" stroke="none" marker-start="url(#mp)" marker-mid="url(#mp)" marker-end="url(#mp)"/>
<g font-size="14.9" fill="#111">
<text x="116.6" y="63.8">Ideal AM/AM</text>
<text x="116.6" y="83.5">w/o DPD</text>
<text x="116.6" y="103.3">DNN(9,4,4)</text>
<text x="116.6" y="123.0">SSCNN(9)</text>
</g>
</svg>
</body></html>
